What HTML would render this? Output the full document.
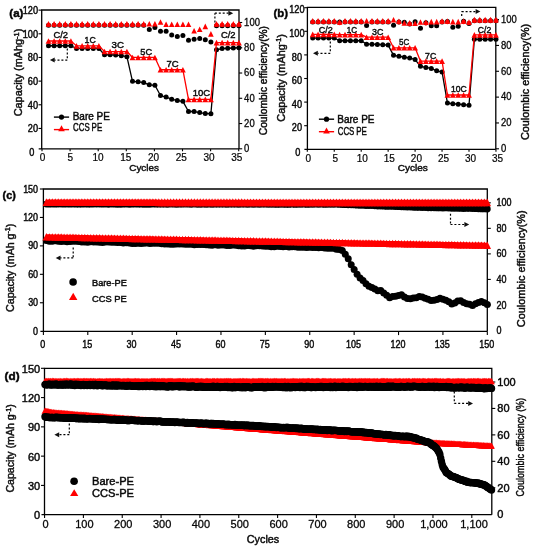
<!DOCTYPE html><html><head><meta charset="utf-8"><style>html,body{margin:0;padding:0;background:#fff;}svg{display:block;filter:blur(0.3px);}</style></head><body><svg width="534" height="550" viewBox="0 0 534 550" font-family="'Liberation Sans', Arial, Helvetica, sans-serif"><rect width="534" height="550" fill="#fff"/><path d="M41.7 148.9V10H239V148.9" fill="none" stroke="#000" stroke-width="1.3"/><line x1="38.7" y1="148.9" x2="239" y2="148.9" stroke="#000000" stroke-width="1.3"/><line x1="38.5" y1="128.44" x2="41.7" y2="128.44" stroke="#000000" stroke-width="1.1"/><line x1="38.5" y1="104.78" x2="41.7" y2="104.78" stroke="#000000" stroke-width="1.1"/><line x1="38.5" y1="81.12" x2="41.7" y2="81.12" stroke="#000000" stroke-width="1.1"/><line x1="38.5" y1="57.46" x2="41.7" y2="57.46" stroke="#000000" stroke-width="1.1"/><line x1="38.5" y1="33.8" x2="41.7" y2="33.8" stroke="#000000" stroke-width="1.1"/><line x1="38.5" y1="10.14" x2="41.7" y2="10.14" stroke="#000000" stroke-width="1.1"/><line x1="239" y1="148.8" x2="242.2" y2="148.8" stroke="#000000" stroke-width="1.1"/><line x1="239" y1="123.54" x2="242.2" y2="123.54" stroke="#000000" stroke-width="1.1"/><line x1="239" y1="98.28" x2="242.2" y2="98.28" stroke="#000000" stroke-width="1.1"/><line x1="239" y1="73.02" x2="242.2" y2="73.02" stroke="#000000" stroke-width="1.1"/><line x1="239" y1="47.76" x2="242.2" y2="47.76" stroke="#000000" stroke-width="1.1"/><line x1="239" y1="22.5" x2="242.2" y2="22.5" stroke="#000000" stroke-width="1.1"/><line x1="42" y1="148.9" x2="42" y2="151.3" stroke="#000000" stroke-width="1.1"/><line x1="70.1" y1="148.9" x2="70.1" y2="151.3" stroke="#000000" stroke-width="1.1"/><line x1="98.2" y1="148.9" x2="98.2" y2="151.3" stroke="#000000" stroke-width="1.1"/><line x1="126.3" y1="148.9" x2="126.3" y2="151.3" stroke="#000000" stroke-width="1.1"/><line x1="154.4" y1="148.9" x2="154.4" y2="151.3" stroke="#000000" stroke-width="1.1"/><line x1="182.5" y1="148.9" x2="182.5" y2="151.3" stroke="#000000" stroke-width="1.1"/><line x1="210.6" y1="148.9" x2="210.6" y2="151.3" stroke="#000000" stroke-width="1.1"/><line x1="238.7" y1="148.9" x2="238.7" y2="151.3" stroke="#000000" stroke-width="1.1"/><circle cx="48.5" cy="25.22" r="2.5" fill="#000000"/><circle cx="54.1" cy="25.22" r="2.5" fill="#000000"/><circle cx="59.7" cy="25.22" r="2.5" fill="#000000"/><circle cx="65.3" cy="25.22" r="2.5" fill="#000000"/><circle cx="70.9" cy="25.22" r="2.5" fill="#000000"/><circle cx="76.5" cy="25.22" r="2.5" fill="#000000"/><circle cx="82.1" cy="25.22" r="2.5" fill="#000000"/><circle cx="87.7" cy="25.22" r="2.5" fill="#000000"/><circle cx="93.3" cy="25.22" r="2.5" fill="#000000"/><circle cx="98.9" cy="25.22" r="2.5" fill="#000000"/><circle cx="104.5" cy="25.22" r="2.5" fill="#000000"/><circle cx="110.1" cy="25.22" r="2.5" fill="#000000"/><circle cx="115.7" cy="25.22" r="2.5" fill="#000000"/><circle cx="121.3" cy="25.22" r="2.5" fill="#000000"/><circle cx="126.9" cy="25.22" r="2.5" fill="#000000"/><circle cx="132.5" cy="25.22" r="2.5" fill="#000000"/><circle cx="138.1" cy="25.22" r="2.5" fill="#000000"/><circle cx="143.7" cy="25.22" r="2.5" fill="#000000"/><circle cx="149.3" cy="29.51" r="2.5" fill="#000000"/><circle cx="154.9" cy="27.49" r="2.5" fill="#000000"/><circle cx="160.5" cy="31.28" r="2.5" fill="#000000"/><circle cx="166.1" cy="31.28" r="2.5" fill="#000000"/><circle cx="171.7" cy="34.94" r="2.5" fill="#000000"/><circle cx="177.3" cy="36.58" r="2.5" fill="#000000"/><circle cx="182.9" cy="35.45" r="2.5" fill="#000000"/><circle cx="188.5" cy="40.25" r="2.5" fill="#000000"/><circle cx="194.1" cy="39.23" r="2.5" fill="#000000"/><circle cx="199.7" cy="38.6" r="2.5" fill="#000000"/><circle cx="205.3" cy="39.74" r="2.5" fill="#000000"/><circle cx="210.9" cy="42.01" r="2.5" fill="#000000"/><circle cx="216.5" cy="25.85" r="2.5" fill="#000000"/><circle cx="222.1" cy="25.85" r="2.5" fill="#000000"/><circle cx="227.7" cy="25.85" r="2.5" fill="#000000"/><circle cx="233.3" cy="25.85" r="2.5" fill="#000000"/><circle cx="238.9" cy="25.85" r="2.5" fill="#000000"/><circle cx="48.5" cy="24.92" r="2.2" fill="#ff0000"/><path d="M45.7 26.62L48.5 21.02L51.3 26.62Z" fill="#ff0000"/><circle cx="54.1" cy="24.92" r="2.2" fill="#ff0000"/><path d="M51.3 26.62L54.1 21.02L56.9 26.62Z" fill="#ff0000"/><circle cx="59.7" cy="24.92" r="2.2" fill="#ff0000"/><path d="M56.9 26.62L59.7 21.02L62.5 26.62Z" fill="#ff0000"/><circle cx="65.3" cy="24.92" r="2.2" fill="#ff0000"/><path d="M62.5 26.62L65.3 21.02L68.1 26.62Z" fill="#ff0000"/><circle cx="70.9" cy="24.92" r="2.2" fill="#ff0000"/><path d="M68.1 26.62L70.9 21.02L73.7 26.62Z" fill="#ff0000"/><circle cx="76.5" cy="24.92" r="2.2" fill="#ff0000"/><path d="M73.7 26.62L76.5 21.02L79.3 26.62Z" fill="#ff0000"/><circle cx="82.1" cy="24.92" r="2.2" fill="#ff0000"/><path d="M79.3 26.62L82.1 21.02L84.9 26.62Z" fill="#ff0000"/><circle cx="87.7" cy="24.92" r="2.2" fill="#ff0000"/><path d="M84.9 26.62L87.7 21.02L90.5 26.62Z" fill="#ff0000"/><circle cx="93.3" cy="24.92" r="2.2" fill="#ff0000"/><path d="M90.5 26.62L93.3 21.02L96.1 26.62Z" fill="#ff0000"/><circle cx="98.9" cy="24.92" r="2.2" fill="#ff0000"/><path d="M96.1 26.62L98.9 21.02L101.7 26.62Z" fill="#ff0000"/><circle cx="104.5" cy="24.92" r="2.2" fill="#ff0000"/><path d="M101.7 26.62L104.5 21.02L107.3 26.62Z" fill="#ff0000"/><circle cx="110.1" cy="24.92" r="2.2" fill="#ff0000"/><path d="M107.3 26.62L110.1 21.02L112.9 26.62Z" fill="#ff0000"/><circle cx="115.7" cy="24.92" r="2.2" fill="#ff0000"/><path d="M112.9 26.62L115.7 21.02L118.5 26.62Z" fill="#ff0000"/><circle cx="121.3" cy="24.92" r="2.2" fill="#ff0000"/><path d="M118.5 26.62L121.3 21.02L124.1 26.62Z" fill="#ff0000"/><circle cx="126.9" cy="24.92" r="2.2" fill="#ff0000"/><path d="M124.1 26.62L126.9 21.02L129.7 26.62Z" fill="#ff0000"/><circle cx="132.5" cy="24.92" r="2.2" fill="#ff0000"/><path d="M129.7 26.62L132.5 21.02L135.3 26.62Z" fill="#ff0000"/><circle cx="138.1" cy="24.92" r="2.2" fill="#ff0000"/><path d="M135.3 26.62L138.1 21.02L140.9 26.62Z" fill="#ff0000"/><circle cx="143.7" cy="24.92" r="2.2" fill="#ff0000"/><path d="M140.9 26.62L143.7 21.02L146.5 26.62Z" fill="#ff0000"/><path d="M146.5 26.62L149.3 21.02L152.1 26.62Z" fill="#ff0000"/><path d="M152.1 26.62L154.9 21.02L157.7 26.62Z" fill="#ff0000"/><path d="M157.7 24.85L160.5 19.25L163.3 24.85Z" fill="#ff0000"/><path d="M163.3 26.99L166.1 21.39L168.9 26.99Z" fill="#ff0000"/><path d="M168.9 26.99L171.7 21.39L174.5 26.99Z" fill="#ff0000"/><path d="M174.5 26.99L177.3 21.39L180.1 26.99Z" fill="#ff0000"/><path d="M180.1 26.99L182.9 21.39L185.7 26.99Z" fill="#ff0000"/><path d="M185.7 26.99L188.5 21.39L191.3 26.99Z" fill="#ff0000"/><path d="M191.3 33.56L194.1 27.96L196.9 33.56Z" fill="#ff0000"/><path d="M196.9 32.05L199.7 26.45L202.5 32.05Z" fill="#ff0000"/><path d="M202.5 29.14L205.3 23.54L208.1 29.14Z" fill="#ff0000"/><path d="M208.1 36.72L210.9 31.12L213.7 36.72Z" fill="#ff0000"/><circle cx="216.5" cy="24.92" r="2.2" fill="#ff0000"/><path d="M213.7 26.62L216.5 21.02L219.3 26.62Z" fill="#ff0000"/><circle cx="222.1" cy="24.92" r="2.2" fill="#ff0000"/><path d="M219.3 26.62L222.1 21.02L224.9 26.62Z" fill="#ff0000"/><circle cx="227.7" cy="24.92" r="2.2" fill="#ff0000"/><path d="M224.9 26.62L227.7 21.02L230.5 26.62Z" fill="#ff0000"/><circle cx="233.3" cy="24.92" r="2.2" fill="#ff0000"/><path d="M230.5 26.62L233.3 21.02L236.1 26.62Z" fill="#ff0000"/><circle cx="238.9" cy="24.92" r="2.2" fill="#ff0000"/><path d="M236.1 26.62L238.9 21.02L241.7 26.62Z" fill="#ff0000"/><polyline points="48.5,45.75 54.1,45.75 59.7,45.75 65.3,45.75 70.9,45.75 76.5,48.47 82.1,48.47 87.7,48.47 93.3,48.47 98.9,48.47 104.5,54.74 110.1,54.74 115.7,55.09 121.3,55.69 126.9,56.63 132.5,81.36 138.1,81.83 143.7,82.54 149.3,84.79 154.9,85.26 160.5,95.55 166.1,97.09 171.7,99.22 177.3,100.52 182.9,101.35 188.5,111.52 194.1,111.52 199.7,112.59 205.3,113.53 210.9,113.65 216.5,49.77 222.1,48.59 227.7,48.23 233.3,48 238.9,47.76" fill="none" stroke="#000" stroke-width="1.3" stroke-linejoin="round"/><circle cx="48.5" cy="45.75" r="2.5" fill="#000000"/><circle cx="54.1" cy="45.75" r="2.5" fill="#000000"/><circle cx="59.7" cy="45.75" r="2.5" fill="#000000"/><circle cx="65.3" cy="45.75" r="2.5" fill="#000000"/><circle cx="70.9" cy="45.75" r="2.5" fill="#000000"/><circle cx="76.5" cy="48.47" r="2.5" fill="#000000"/><circle cx="82.1" cy="48.47" r="2.5" fill="#000000"/><circle cx="87.7" cy="48.47" r="2.5" fill="#000000"/><circle cx="93.3" cy="48.47" r="2.5" fill="#000000"/><circle cx="98.9" cy="48.47" r="2.5" fill="#000000"/><circle cx="104.5" cy="54.74" r="2.5" fill="#000000"/><circle cx="110.1" cy="54.74" r="2.5" fill="#000000"/><circle cx="115.7" cy="55.09" r="2.5" fill="#000000"/><circle cx="121.3" cy="55.69" r="2.5" fill="#000000"/><circle cx="126.9" cy="56.63" r="2.5" fill="#000000"/><circle cx="132.5" cy="81.36" r="2.5" fill="#000000"/><circle cx="138.1" cy="81.83" r="2.5" fill="#000000"/><circle cx="143.7" cy="82.54" r="2.5" fill="#000000"/><circle cx="149.3" cy="84.79" r="2.5" fill="#000000"/><circle cx="154.9" cy="85.26" r="2.5" fill="#000000"/><circle cx="160.5" cy="95.55" r="2.5" fill="#000000"/><circle cx="166.1" cy="97.09" r="2.5" fill="#000000"/><circle cx="171.7" cy="99.22" r="2.5" fill="#000000"/><circle cx="177.3" cy="100.52" r="2.5" fill="#000000"/><circle cx="182.9" cy="101.35" r="2.5" fill="#000000"/><circle cx="188.5" cy="111.52" r="2.5" fill="#000000"/><circle cx="194.1" cy="111.52" r="2.5" fill="#000000"/><circle cx="199.7" cy="112.59" r="2.5" fill="#000000"/><circle cx="205.3" cy="113.53" r="2.5" fill="#000000"/><circle cx="210.9" cy="113.65" r="2.5" fill="#000000"/><circle cx="216.5" cy="49.77" r="2.5" fill="#000000"/><circle cx="222.1" cy="48.59" r="2.5" fill="#000000"/><circle cx="227.7" cy="48.23" r="2.5" fill="#000000"/><circle cx="233.3" cy="48" r="2.5" fill="#000000"/><circle cx="238.9" cy="47.76" r="2.5" fill="#000000"/><polyline points="48.5,41.02 54.1,41.02 59.7,41.02 65.3,41.02 70.9,41.02 76.5,45.87 82.1,45.87 87.7,45.87 93.3,45.87 98.9,45.87 104.5,51.54 110.1,51.54 115.7,51.54 121.3,51.54 126.9,51.54 132.5,57.46 138.1,57.46 143.7,57.46 149.3,57.46 154.9,57.46 160.5,69.76 166.1,69.76 171.7,69.76 177.3,69.76 182.9,69.76 188.5,99.34 194.1,99.34 199.7,99.34 205.3,99.34 210.9,99.34 216.5,42.67 222.1,42.67 227.7,42.67 233.3,42.67 238.9,42.67" fill="none" stroke="#ff0000" stroke-width="1.3" stroke-linejoin="round"/><path d="M45.6 43.82L48.5 38.22L51.4 43.82Z" fill="#ff0000"/><path d="M51.2 43.82L54.1 38.22L57 43.82Z" fill="#ff0000"/><path d="M56.8 43.82L59.7 38.22L62.6 43.82Z" fill="#ff0000"/><path d="M62.4 43.82L65.3 38.22L68.2 43.82Z" fill="#ff0000"/><path d="M68 43.82L70.9 38.22L73.8 43.82Z" fill="#ff0000"/><path d="M73.6 48.67L76.5 43.07L79.4 48.67Z" fill="#ff0000"/><path d="M79.2 48.67L82.1 43.07L85 48.67Z" fill="#ff0000"/><path d="M84.8 48.67L87.7 43.07L90.6 48.67Z" fill="#ff0000"/><path d="M90.4 48.67L93.3 43.07L96.2 48.67Z" fill="#ff0000"/><path d="M96 48.67L98.9 43.07L101.8 48.67Z" fill="#ff0000"/><path d="M101.6 54.34L104.5 48.74L107.4 54.34Z" fill="#ff0000"/><path d="M107.2 54.34L110.1 48.74L113 54.34Z" fill="#ff0000"/><path d="M112.8 54.34L115.7 48.74L118.6 54.34Z" fill="#ff0000"/><path d="M118.4 54.34L121.3 48.74L124.2 54.34Z" fill="#ff0000"/><path d="M124 54.34L126.9 48.74L129.8 54.34Z" fill="#ff0000"/><path d="M129.6 60.26L132.5 54.66L135.4 60.26Z" fill="#ff0000"/><path d="M135.2 60.26L138.1 54.66L141 60.26Z" fill="#ff0000"/><path d="M140.8 60.26L143.7 54.66L146.6 60.26Z" fill="#ff0000"/><path d="M146.4 60.26L149.3 54.66L152.2 60.26Z" fill="#ff0000"/><path d="M152 60.26L154.9 54.66L157.8 60.26Z" fill="#ff0000"/><path d="M157.6 72.56L160.5 66.96L163.4 72.56Z" fill="#ff0000"/><path d="M163.2 72.56L166.1 66.96L169 72.56Z" fill="#ff0000"/><path d="M168.8 72.56L171.7 66.96L174.6 72.56Z" fill="#ff0000"/><path d="M174.4 72.56L177.3 66.96L180.2 72.56Z" fill="#ff0000"/><path d="M180 72.56L182.9 66.96L185.8 72.56Z" fill="#ff0000"/><path d="M185.6 102.14L188.5 96.54L191.4 102.14Z" fill="#ff0000"/><path d="M191.2 102.14L194.1 96.54L197 102.14Z" fill="#ff0000"/><path d="M196.8 102.14L199.7 96.54L202.6 102.14Z" fill="#ff0000"/><path d="M202.4 102.14L205.3 96.54L208.2 102.14Z" fill="#ff0000"/><path d="M208 102.14L210.9 96.54L213.8 102.14Z" fill="#ff0000"/><path d="M213.6 45.47L216.5 39.87L219.4 45.47Z" fill="#ff0000"/><path d="M219.2 45.47L222.1 39.87L225 45.47Z" fill="#ff0000"/><path d="M224.8 45.47L227.7 39.87L230.6 45.47Z" fill="#ff0000"/><path d="M230.4 45.47L233.3 39.87L236.2 45.47Z" fill="#ff0000"/><path d="M236 45.47L238.9 39.87L241.8 45.47Z" fill="#ff0000"/><path d="M307.4 149.4V7.4H495.8V149.4" fill="none" stroke="#000" stroke-width="1.3"/><line x1="304.4" y1="149.4" x2="495.8" y2="149.4" stroke="#000000" stroke-width="1.3"/><line x1="304.2" y1="125.7" x2="307.4" y2="125.7" stroke="#000000" stroke-width="1.1"/><line x1="304.2" y1="102.1" x2="307.4" y2="102.1" stroke="#000000" stroke-width="1.1"/><line x1="304.2" y1="78.5" x2="307.4" y2="78.5" stroke="#000000" stroke-width="1.1"/><line x1="304.2" y1="54.9" x2="307.4" y2="54.9" stroke="#000000" stroke-width="1.1"/><line x1="304.2" y1="31.3" x2="307.4" y2="31.3" stroke="#000000" stroke-width="1.1"/><line x1="304.2" y1="7.7" x2="307.4" y2="7.7" stroke="#000000" stroke-width="1.1"/><line x1="495.8" y1="148.8" x2="499" y2="148.8" stroke="#000000" stroke-width="1.1"/><line x1="495.8" y1="122.96" x2="499" y2="122.96" stroke="#000000" stroke-width="1.1"/><line x1="495.8" y1="97.12" x2="499" y2="97.12" stroke="#000000" stroke-width="1.1"/><line x1="495.8" y1="71.28" x2="499" y2="71.28" stroke="#000000" stroke-width="1.1"/><line x1="495.8" y1="45.44" x2="499" y2="45.44" stroke="#000000" stroke-width="1.1"/><line x1="495.8" y1="19.6" x2="499" y2="19.6" stroke="#000000" stroke-width="1.1"/><line x1="307.3" y1="149.4" x2="307.3" y2="151.8" stroke="#000000" stroke-width="1.1"/><line x1="334.25" y1="149.4" x2="334.25" y2="151.8" stroke="#000000" stroke-width="1.1"/><line x1="361.2" y1="149.4" x2="361.2" y2="151.8" stroke="#000000" stroke-width="1.1"/><line x1="388.15" y1="149.4" x2="388.15" y2="151.8" stroke="#000000" stroke-width="1.1"/><line x1="415.1" y1="149.4" x2="415.1" y2="151.8" stroke="#000000" stroke-width="1.1"/><line x1="442.05" y1="149.4" x2="442.05" y2="151.8" stroke="#000000" stroke-width="1.1"/><line x1="469" y1="149.4" x2="469" y2="151.8" stroke="#000000" stroke-width="1.1"/><line x1="495.95" y1="149.4" x2="495.95" y2="151.8" stroke="#000000" stroke-width="1.1"/><circle cx="312.69" cy="21.96" r="2.5" fill="#000000"/><circle cx="318.08" cy="21.96" r="2.5" fill="#000000"/><circle cx="323.47" cy="21.96" r="2.5" fill="#000000"/><circle cx="328.86" cy="21.96" r="2.5" fill="#000000"/><circle cx="334.25" cy="21.96" r="2.5" fill="#000000"/><circle cx="339.64" cy="21.96" r="2.5" fill="#000000"/><circle cx="345.03" cy="21.96" r="2.5" fill="#000000"/><circle cx="350.42" cy="21.96" r="2.5" fill="#000000"/><circle cx="355.81" cy="21.96" r="2.5" fill="#000000"/><circle cx="361.2" cy="21.96" r="2.5" fill="#000000"/><circle cx="366.59" cy="25.58" r="2.5" fill="#000000"/><circle cx="371.98" cy="21.96" r="2.5" fill="#000000"/><circle cx="377.37" cy="21.96" r="2.5" fill="#000000"/><circle cx="382.76" cy="21.96" r="2.5" fill="#000000"/><circle cx="388.15" cy="21.96" r="2.5" fill="#000000"/><circle cx="393.54" cy="25.32" r="2.5" fill="#000000"/><circle cx="398.93" cy="21.96" r="2.5" fill="#000000"/><circle cx="404.32" cy="22.35" r="2.5" fill="#000000"/><circle cx="409.71" cy="24.03" r="2.5" fill="#000000"/><circle cx="415.1" cy="21.7" r="2.5" fill="#000000"/><circle cx="420.49" cy="28.16" r="2.5" fill="#000000"/><circle cx="425.88" cy="22.87" r="2.5" fill="#000000"/><circle cx="431.27" cy="25.84" r="2.5" fill="#000000"/><circle cx="436.66" cy="25.71" r="2.5" fill="#000000"/><circle cx="442.05" cy="21.96" r="2.5" fill="#000000"/><circle cx="447.44" cy="21.45" r="2.5" fill="#000000"/><circle cx="452.83" cy="27.26" r="2.5" fill="#000000"/><circle cx="458.22" cy="26.36" r="2.5" fill="#000000"/><circle cx="463.61" cy="21.19" r="2.5" fill="#000000"/><circle cx="469" cy="23.38" r="2.5" fill="#000000"/><circle cx="474.39" cy="20.8" r="2.5" fill="#000000"/><circle cx="479.78" cy="20.8" r="2.5" fill="#000000"/><circle cx="485.17" cy="20.8" r="2.5" fill="#000000"/><circle cx="490.56" cy="20.8" r="2.5" fill="#000000"/><circle cx="495.95" cy="20.8" r="2.5" fill="#000000"/><circle cx="312.69" cy="21.92" r="2.2" fill="#ff0000"/><path d="M309.89 23.62L312.69 18.02L315.49 23.62Z" fill="#ff0000"/><circle cx="318.08" cy="21.92" r="2.2" fill="#ff0000"/><path d="M315.28 23.62L318.08 18.02L320.88 23.62Z" fill="#ff0000"/><circle cx="323.47" cy="21.92" r="2.2" fill="#ff0000"/><path d="M320.67 23.62L323.47 18.02L326.27 23.62Z" fill="#ff0000"/><circle cx="328.86" cy="21.92" r="2.2" fill="#ff0000"/><path d="M326.06 23.62L328.86 18.02L331.66 23.62Z" fill="#ff0000"/><circle cx="334.25" cy="21.92" r="2.2" fill="#ff0000"/><path d="M331.45 23.62L334.25 18.02L337.05 23.62Z" fill="#ff0000"/><circle cx="339.64" cy="23.08" r="2.2" fill="#ff0000"/><path d="M336.84 24.78L339.64 19.18L342.44 24.78Z" fill="#ff0000"/><circle cx="345.03" cy="21.92" r="2.2" fill="#ff0000"/><path d="M342.23 23.62L345.03 18.02L347.83 23.62Z" fill="#ff0000"/><circle cx="350.42" cy="21.92" r="2.2" fill="#ff0000"/><path d="M347.62 23.62L350.42 18.02L353.22 23.62Z" fill="#ff0000"/><circle cx="355.81" cy="21.92" r="2.2" fill="#ff0000"/><path d="M353.01 23.62L355.81 18.02L358.61 23.62Z" fill="#ff0000"/><circle cx="361.2" cy="21.92" r="2.2" fill="#ff0000"/><path d="M358.4 23.62L361.2 18.02L364 23.62Z" fill="#ff0000"/><path d="M363.79 23.62L366.59 18.02L369.39 23.62Z" fill="#ff0000"/><circle cx="371.98" cy="21.92" r="2.2" fill="#ff0000"/><path d="M369.18 23.62L371.98 18.02L374.78 23.62Z" fill="#ff0000"/><circle cx="377.37" cy="21.92" r="2.2" fill="#ff0000"/><path d="M374.57 23.62L377.37 18.02L380.17 23.62Z" fill="#ff0000"/><circle cx="382.76" cy="21.92" r="2.2" fill="#ff0000"/><path d="M379.96 23.62L382.76 18.02L385.56 23.62Z" fill="#ff0000"/><circle cx="388.15" cy="21.92" r="2.2" fill="#ff0000"/><path d="M385.35 23.62L388.15 18.02L390.95 23.62Z" fill="#ff0000"/><path d="M390.74 22.59L393.54 16.99L396.34 22.59Z" fill="#ff0000"/><circle cx="398.93" cy="22.31" r="2.2" fill="#ff0000"/><path d="M396.13 24.01L398.93 18.41L401.73 24.01Z" fill="#ff0000"/><path d="M401.52 25.69L404.32 20.09L407.12 25.69Z" fill="#ff0000"/><circle cx="409.71" cy="23.99" r="2.2" fill="#ff0000"/><path d="M406.91 25.69L409.71 20.09L412.51 25.69Z" fill="#ff0000"/><path d="M412.3 26.08L415.1 20.48L417.9 26.08Z" fill="#ff0000"/><path d="M417.69 24.78L420.49 19.18L423.29 24.78Z" fill="#ff0000"/><circle cx="425.88" cy="23.34" r="2.2" fill="#ff0000"/><path d="M423.08 25.04L425.88 19.44L428.68 25.04Z" fill="#ff0000"/><path d="M428.47 24.4L431.27 18.8L434.07 24.4Z" fill="#ff0000"/><path d="M433.86 24.4L436.66 18.8L439.46 24.4Z" fill="#ff0000"/><circle cx="442.05" cy="22.05" r="2.2" fill="#ff0000"/><path d="M439.25 23.75L442.05 18.15L444.85 23.75Z" fill="#ff0000"/><circle cx="447.44" cy="22.05" r="2.2" fill="#ff0000"/><path d="M444.64 23.75L447.44 18.15L450.24 23.75Z" fill="#ff0000"/><path d="M450.03 24.4L452.83 18.8L455.63 24.4Z" fill="#ff0000"/><path d="M455.42 24.4L458.22 18.8L461.02 24.4Z" fill="#ff0000"/><circle cx="463.61" cy="22.05" r="2.2" fill="#ff0000"/><path d="M460.81 23.75L463.61 18.15L466.41 23.75Z" fill="#ff0000"/><circle cx="469" cy="23.08" r="2.2" fill="#ff0000"/><path d="M466.2 24.78L469 19.18L471.8 24.78Z" fill="#ff0000"/><circle cx="474.39" cy="20.76" r="2.2" fill="#ff0000"/><path d="M471.59 22.46L474.39 16.86L477.19 22.46Z" fill="#ff0000"/><circle cx="479.78" cy="20.76" r="2.2" fill="#ff0000"/><path d="M476.98 22.46L479.78 16.86L482.58 22.46Z" fill="#ff0000"/><circle cx="485.17" cy="20.76" r="2.2" fill="#ff0000"/><path d="M482.37 22.46L485.17 16.86L487.97 22.46Z" fill="#ff0000"/><circle cx="490.56" cy="20.76" r="2.2" fill="#ff0000"/><path d="M487.76 22.46L490.56 16.86L493.36 22.46Z" fill="#ff0000"/><circle cx="495.95" cy="20.76" r="2.2" fill="#ff0000"/><path d="M493.15 22.46L495.95 16.86L498.75 22.46Z" fill="#ff0000"/><polyline points="312.69,38.03 318.08,38.03 323.47,38.03 328.86,38.03 334.25,38.03 339.64,40.74 345.03,40.74 350.42,40.74 355.81,40.74 361.2,40.74 366.59,44.16 371.98,44.16 377.37,44.4 382.76,44.75 388.15,45.11 393.54,55.37 398.93,56.2 404.32,57.26 409.71,57.97 415.1,59.62 420.49,66.35 425.88,67.41 431.27,68.47 436.66,70.83 442.05,71.89 447.44,103.04 452.83,103.75 458.22,104.22 463.61,104.7 469,105.17 474.39,39.32 479.78,39.32 485.17,39.32 490.56,39.32 495.95,39.32" fill="none" stroke="#000" stroke-width="1.3" stroke-linejoin="round"/><circle cx="312.69" cy="38.03" r="2.5" fill="#000000"/><circle cx="318.08" cy="38.03" r="2.5" fill="#000000"/><circle cx="323.47" cy="38.03" r="2.5" fill="#000000"/><circle cx="328.86" cy="38.03" r="2.5" fill="#000000"/><circle cx="334.25" cy="38.03" r="2.5" fill="#000000"/><circle cx="339.64" cy="40.74" r="2.5" fill="#000000"/><circle cx="345.03" cy="40.74" r="2.5" fill="#000000"/><circle cx="350.42" cy="40.74" r="2.5" fill="#000000"/><circle cx="355.81" cy="40.74" r="2.5" fill="#000000"/><circle cx="361.2" cy="40.74" r="2.5" fill="#000000"/><circle cx="366.59" cy="44.16" r="2.5" fill="#000000"/><circle cx="371.98" cy="44.16" r="2.5" fill="#000000"/><circle cx="377.37" cy="44.4" r="2.5" fill="#000000"/><circle cx="382.76" cy="44.75" r="2.5" fill="#000000"/><circle cx="388.15" cy="45.11" r="2.5" fill="#000000"/><circle cx="393.54" cy="55.37" r="2.5" fill="#000000"/><circle cx="398.93" cy="56.2" r="2.5" fill="#000000"/><circle cx="404.32" cy="57.26" r="2.5" fill="#000000"/><circle cx="409.71" cy="57.97" r="2.5" fill="#000000"/><circle cx="415.1" cy="59.62" r="2.5" fill="#000000"/><circle cx="420.49" cy="66.35" r="2.5" fill="#000000"/><circle cx="425.88" cy="67.41" r="2.5" fill="#000000"/><circle cx="431.27" cy="68.47" r="2.5" fill="#000000"/><circle cx="436.66" cy="70.83" r="2.5" fill="#000000"/><circle cx="442.05" cy="71.89" r="2.5" fill="#000000"/><circle cx="447.44" cy="103.04" r="2.5" fill="#000000"/><circle cx="452.83" cy="103.75" r="2.5" fill="#000000"/><circle cx="458.22" cy="104.22" r="2.5" fill="#000000"/><circle cx="463.61" cy="104.7" r="2.5" fill="#000000"/><circle cx="469" cy="105.17" r="2.5" fill="#000000"/><circle cx="474.39" cy="39.32" r="2.5" fill="#000000"/><circle cx="479.78" cy="39.32" r="2.5" fill="#000000"/><circle cx="485.17" cy="39.32" r="2.5" fill="#000000"/><circle cx="490.56" cy="39.32" r="2.5" fill="#000000"/><circle cx="495.95" cy="39.32" r="2.5" fill="#000000"/><polyline points="312.69,34.37 318.08,34.37 323.47,34.37 328.86,34.37 334.25,34.37 339.64,34.6 345.03,34.6 350.42,34.6 355.81,34.6 361.2,34.6 366.59,37.2 371.98,37.2 377.37,37.2 382.76,37.2 388.15,37.2 393.54,47.82 398.93,47.82 404.32,47.82 409.71,47.82 415.1,47.82 420.49,61.15 425.88,61.15 431.27,61.15 436.66,61.15 442.05,61.15 447.44,95.02 452.83,95.02 458.22,95.02 463.61,95.02 469,95.02 474.39,34.84 479.78,34.84 485.17,34.84 490.56,34.84 495.95,34.84" fill="none" stroke="#ff0000" stroke-width="1.3" stroke-linejoin="round"/><path d="M309.79 37.17L312.69 31.57L315.59 37.17Z" fill="#ff0000"/><path d="M315.18 37.17L318.08 31.57L320.98 37.17Z" fill="#ff0000"/><path d="M320.57 37.17L323.47 31.57L326.37 37.17Z" fill="#ff0000"/><path d="M325.96 37.17L328.86 31.57L331.76 37.17Z" fill="#ff0000"/><path d="M331.35 37.17L334.25 31.57L337.15 37.17Z" fill="#ff0000"/><path d="M336.74 37.4L339.64 31.8L342.54 37.4Z" fill="#ff0000"/><path d="M342.13 37.4L345.03 31.8L347.93 37.4Z" fill="#ff0000"/><path d="M347.52 37.4L350.42 31.8L353.32 37.4Z" fill="#ff0000"/><path d="M352.91 37.4L355.81 31.8L358.71 37.4Z" fill="#ff0000"/><path d="M358.3 37.4L361.2 31.8L364.1 37.4Z" fill="#ff0000"/><path d="M363.69 40L366.59 34.4L369.49 40Z" fill="#ff0000"/><path d="M369.08 40L371.98 34.4L374.88 40Z" fill="#ff0000"/><path d="M374.47 40L377.37 34.4L380.27 40Z" fill="#ff0000"/><path d="M379.86 40L382.76 34.4L385.66 40Z" fill="#ff0000"/><path d="M385.25 40L388.15 34.4L391.05 40Z" fill="#ff0000"/><path d="M390.64 50.62L393.54 45.02L396.44 50.62Z" fill="#ff0000"/><path d="M396.03 50.62L398.93 45.02L401.83 50.62Z" fill="#ff0000"/><path d="M401.42 50.62L404.32 45.02L407.22 50.62Z" fill="#ff0000"/><path d="M406.81 50.62L409.71 45.02L412.61 50.62Z" fill="#ff0000"/><path d="M412.2 50.62L415.1 45.02L418 50.62Z" fill="#ff0000"/><path d="M417.59 63.95L420.49 58.35L423.39 63.95Z" fill="#ff0000"/><path d="M422.98 63.95L425.88 58.35L428.78 63.95Z" fill="#ff0000"/><path d="M428.37 63.95L431.27 58.35L434.17 63.95Z" fill="#ff0000"/><path d="M433.76 63.95L436.66 58.35L439.56 63.95Z" fill="#ff0000"/><path d="M439.15 63.95L442.05 58.35L444.95 63.95Z" fill="#ff0000"/><path d="M444.54 97.82L447.44 92.22L450.34 97.82Z" fill="#ff0000"/><path d="M449.93 97.82L452.83 92.22L455.73 97.82Z" fill="#ff0000"/><path d="M455.32 97.82L458.22 92.22L461.12 97.82Z" fill="#ff0000"/><path d="M460.71 97.82L463.61 92.22L466.51 97.82Z" fill="#ff0000"/><path d="M466.1 97.82L469 92.22L471.9 97.82Z" fill="#ff0000"/><path d="M471.49 37.64L474.39 32.04L477.29 37.64Z" fill="#ff0000"/><path d="M476.88 37.64L479.78 32.04L482.68 37.64Z" fill="#ff0000"/><path d="M482.27 37.64L485.17 32.04L488.07 37.64Z" fill="#ff0000"/><path d="M487.66 37.64L490.56 32.04L493.46 37.64Z" fill="#ff0000"/><path d="M493.05 37.64L495.95 32.04L498.85 37.64Z" fill="#ff0000"/><text transform="translate(38 132.24) scale(0.92 1)" font-size="10.0" text-anchor="end" stroke="#111111" stroke-width="0.45">20</text><text transform="translate(38 108.58) scale(0.92 1)" font-size="10.0" text-anchor="end" stroke="#111111" stroke-width="0.45">40</text><text transform="translate(38 84.92) scale(0.92 1)" font-size="10.0" text-anchor="end" stroke="#111111" stroke-width="0.45">60</text><text transform="translate(38 61.26) scale(0.92 1)" font-size="10.0" text-anchor="end" stroke="#111111" stroke-width="0.45">80</text><text transform="translate(38 37.6) scale(0.92 1)" font-size="10.0" text-anchor="end" stroke="#111111" stroke-width="0.45">100</text><text transform="translate(38 13.94) scale(0.92 1)" font-size="10.0" text-anchor="end" stroke="#111111" stroke-width="0.45">120</text><text transform="translate(34.4 155.9) scale(0.92 1)" font-size="10.0" text-anchor="end" stroke="#111111" stroke-width="0.45">0</text><text transform="translate(244.1 152.1) scale(0.95 1)" font-size="10.0" text-anchor="start" stroke="#111111" stroke-width="0.3">0</text><text transform="translate(244.1 126.84) scale(0.95 1)" font-size="10.0" text-anchor="start" stroke="#111111" stroke-width="0.3">20</text><text transform="translate(244.1 101.58) scale(0.95 1)" font-size="10.0" text-anchor="start" stroke="#111111" stroke-width="0.3">40</text><text transform="translate(244.1 76.32) scale(0.95 1)" font-size="10.0" text-anchor="start" stroke="#111111" stroke-width="0.3">60</text><text transform="translate(244.1 51.06) scale(0.95 1)" font-size="10.0" text-anchor="start" stroke="#111111" stroke-width="0.3">80</text><text transform="translate(244.1 25.8) scale(0.95 1)" font-size="10.0" text-anchor="start" stroke="#111111" stroke-width="0.3">100</text><text transform="translate(42.5 161)" font-size="10.0" text-anchor="middle" stroke="#111111" stroke-width="0.22">0</text><text transform="translate(70.25 161)" font-size="10.0" text-anchor="middle" stroke="#111111" stroke-width="0.22">5</text><text transform="translate(98 161)" font-size="10.0" text-anchor="middle" stroke="#111111" stroke-width="0.22">10</text><text transform="translate(125.75 161)" font-size="10.0" text-anchor="middle" stroke="#111111" stroke-width="0.22">15</text><text transform="translate(153.5 161)" font-size="10.0" text-anchor="middle" stroke="#111111" stroke-width="0.22">20</text><text transform="translate(181.25 161)" font-size="10.0" text-anchor="middle" stroke="#111111" stroke-width="0.22">25</text><text transform="translate(209 161)" font-size="10.0" text-anchor="middle" stroke="#111111" stroke-width="0.22">30</text><text transform="translate(236.75 161)" font-size="10.0" text-anchor="middle" stroke="#111111" stroke-width="0.22">35</text><text transform="translate(296.9 131.4) scale(0.92 1)" font-size="10.0" text-anchor="middle" stroke="#111111" stroke-width="0.45">20</text><text transform="translate(296.9 107.8) scale(0.92 1)" font-size="10.0" text-anchor="middle" stroke="#111111" stroke-width="0.45">40</text><text transform="translate(296.9 84.2) scale(0.92 1)" font-size="10.0" text-anchor="middle" stroke="#111111" stroke-width="0.45">60</text><text transform="translate(296.9 60.6) scale(0.92 1)" font-size="10.0" text-anchor="middle" stroke="#111111" stroke-width="0.45">80</text><text transform="translate(296.9 37) scale(0.92 1)" font-size="10.0" text-anchor="middle" stroke="#111111" stroke-width="0.45">100</text><text transform="translate(296.9 13.4) scale(0.92 1)" font-size="10.0" text-anchor="middle" stroke="#111111" stroke-width="0.45">120</text><text transform="translate(300.3 155.9) scale(0.92 1)" font-size="10.0" text-anchor="end" stroke="#111111" stroke-width="0.45">0</text><text transform="translate(500.9 152.1) scale(0.95 1)" font-size="10.0" text-anchor="start" stroke="#111111" stroke-width="0.3">0</text><text transform="translate(500.9 126.26) scale(0.95 1)" font-size="10.0" text-anchor="start" stroke="#111111" stroke-width="0.3">20</text><text transform="translate(500.9 100.42) scale(0.95 1)" font-size="10.0" text-anchor="start" stroke="#111111" stroke-width="0.3">40</text><text transform="translate(500.9 74.58) scale(0.95 1)" font-size="10.0" text-anchor="start" stroke="#111111" stroke-width="0.3">60</text><text transform="translate(500.9 48.74) scale(0.95 1)" font-size="10.0" text-anchor="start" stroke="#111111" stroke-width="0.3">80</text><text transform="translate(500.9 22.9) scale(0.95 1)" font-size="10.0" text-anchor="start" stroke="#111111" stroke-width="0.3">100</text><text transform="translate(308.2 161.5)" font-size="10.0" text-anchor="middle" stroke="#111111" stroke-width="0.22">0</text><text transform="translate(335.25 161.5)" font-size="10.0" text-anchor="middle" stroke="#111111" stroke-width="0.22">5</text><text transform="translate(362.3 161.5)" font-size="10.0" text-anchor="middle" stroke="#111111" stroke-width="0.22">10</text><text transform="translate(389.35 161.5)" font-size="10.0" text-anchor="middle" stroke="#111111" stroke-width="0.22">15</text><text transform="translate(416.4 161.5)" font-size="10.0" text-anchor="middle" stroke="#111111" stroke-width="0.22">20</text><text transform="translate(443.45 161.5)" font-size="10.0" text-anchor="middle" stroke="#111111" stroke-width="0.22">25</text><text transform="translate(470.5 161.5)" font-size="10.0" text-anchor="middle" stroke="#111111" stroke-width="0.22">30</text><text transform="translate(497.55 161.5)" font-size="10.0" text-anchor="middle" stroke="#111111" stroke-width="0.22">35</text><text transform="translate(60.7 37.6)" font-size="9.8" text-anchor="middle" textLength="14.6" lengthAdjust="spacingAndGlyphs" stroke="#111111" stroke-width="0.45">C/2</text><text transform="translate(90.2 42.5)" font-size="9.8" text-anchor="middle" textLength="11.2" lengthAdjust="spacingAndGlyphs" stroke="#111111" stroke-width="0.45">1C</text><text transform="translate(117.7 47.8)" font-size="9.8" text-anchor="middle" textLength="12.4" lengthAdjust="spacingAndGlyphs" stroke="#111111" stroke-width="0.45">3C</text><text transform="translate(146.2 54.7)" font-size="9.8" text-anchor="middle" textLength="11.8" lengthAdjust="spacingAndGlyphs" stroke="#111111" stroke-width="0.45">5C</text><text transform="translate(172.6 66.8)" font-size="9.8" text-anchor="middle" textLength="12.1" lengthAdjust="spacingAndGlyphs" stroke="#111111" stroke-width="0.45">7C</text><text transform="translate(201.5 95.5)" font-size="9.8" text-anchor="middle" textLength="17.4" lengthAdjust="spacingAndGlyphs" stroke="#111111" stroke-width="0.45">10C</text><text transform="translate(228.2 37.7)" font-size="9.8" text-anchor="middle" textLength="14.6" lengthAdjust="spacingAndGlyphs" stroke="#111111" stroke-width="0.45">C/2</text><text transform="translate(325.8 32.7)" font-size="9.8" text-anchor="middle" textLength="14.1" lengthAdjust="spacingAndGlyphs" stroke="#111111" stroke-width="0.45">C/2</text><text transform="translate(352 32.7)" font-size="9.8" text-anchor="middle" textLength="10.3" lengthAdjust="spacingAndGlyphs" stroke="#111111" stroke-width="0.45">1C</text><text transform="translate(377.7 35.4)" font-size="9.8" text-anchor="middle" textLength="11.3" lengthAdjust="spacingAndGlyphs" stroke="#111111" stroke-width="0.45">3C</text><text transform="translate(404.1 45.1)" font-size="9.8" text-anchor="middle" textLength="10.2" lengthAdjust="spacingAndGlyphs" stroke="#111111" stroke-width="0.45">5C</text><text transform="translate(430.6 59)" font-size="9.8" text-anchor="middle" textLength="11.2" lengthAdjust="spacingAndGlyphs" stroke="#111111" stroke-width="0.45">7C</text><text transform="translate(458.9 92.4)" font-size="9.8" text-anchor="middle" textLength="15.8" lengthAdjust="spacingAndGlyphs" stroke="#111111" stroke-width="0.45">10C</text><text transform="translate(484.5 32.7)" font-size="9.8" text-anchor="middle" textLength="13.4" lengthAdjust="spacingAndGlyphs" stroke="#111111" stroke-width="0.45">C/2</text><text transform="translate(144.1 171.4)" font-size="9.9" text-anchor="middle" textLength="29.6" lengthAdjust="spacingAndGlyphs" stroke="#111111" stroke-width="0.45">Cycles</text><text transform="translate(412.8 171.1)" font-size="9.9" text-anchor="middle" textLength="30.2" lengthAdjust="spacingAndGlyphs" stroke="#111111" stroke-width="0.45">Cycles</text><text transform="translate(22.2 116.3) rotate(-90)" font-size="10" textLength="87.6" lengthAdjust="spacingAndGlyphs" fill="#111111" stroke="#111111" stroke-width="0.45">Capacity (mAhg<tspan dy="-3.6" font-size="6.8">-1</tspan><tspan dy="3.6">)</tspan></text><text transform="translate(285 121.7) rotate(-90)" font-size="10" textLength="87.7" lengthAdjust="spacingAndGlyphs" fill="#111111" stroke="#111111" stroke-width="0.45">Capacity (mAhg<tspan dy="-3.6" font-size="6.8">-1</tspan><tspan dy="3.6">)</tspan></text><text transform="translate(266.6 135.2) rotate(-90)" font-size="10" text-anchor="start" textLength="109.2" lengthAdjust="spacingAndGlyphs" stroke="#111111" stroke-width="0.45">Coulombic efficiency(%)</text><text transform="translate(529.3 140.1) rotate(-90)" font-size="10.6" text-anchor="start" textLength="116.3" lengthAdjust="spacingAndGlyphs" stroke="#111111" stroke-width="0.45">Coulombic efficiency(%)</text><text transform="translate(9.3 17.3)" font-size="11.6" text-anchor="start" font-weight="bold" textLength="14.1" lengthAdjust="spacingAndGlyphs" stroke="#111111" stroke-width="0.45">(a)</text><text transform="translate(273.4 17.3)" font-size="11.6" text-anchor="start" font-weight="bold" textLength="14.6" lengthAdjust="spacingAndGlyphs" stroke="#111111" stroke-width="0.45">(b)</text><line x1="53.9" y1="117.1" x2="69.1" y2="117.1" stroke="#000" stroke-width="1.4"/><circle cx="61.5" cy="117.1" r="2.6" fill="#000000"/><text transform="translate(72.7 119.5)" font-size="10" text-anchor="start" textLength="37.2" lengthAdjust="spacingAndGlyphs" stroke="#111111" stroke-width="0.45">Bare PE</text><line x1="53.9" y1="129.6" x2="69.1" y2="129.6" stroke="#ff0000" stroke-width="1.4"/><path d="M58.2 131.3L61.5 125.3L64.8 131.3Z" fill="#ff0000"/><text transform="translate(73.1 131.2)" font-size="10.9" text-anchor="start" textLength="16.6" lengthAdjust="spacingAndGlyphs" stroke="#111111" stroke-width="0.45">CCS</text><text transform="translate(91.6 131.2)" font-size="10.9" text-anchor="start" textLength="10.6" lengthAdjust="spacingAndGlyphs" stroke="#111111" stroke-width="0.45">PE</text><line x1="318.9" y1="119.2" x2="334.1" y2="119.2" stroke="#000" stroke-width="1.4"/><circle cx="326.5" cy="119.2" r="2.6" fill="#000000"/><text transform="translate(337.3 122.6)" font-size="10" text-anchor="start" textLength="37.2" lengthAdjust="spacingAndGlyphs" stroke="#111111" stroke-width="0.45">Bare PE</text><line x1="318.9" y1="131.7" x2="334.1" y2="131.7" stroke="#ff0000" stroke-width="1.4"/><path d="M323.2 133.4L326.5 127.4L329.8 133.4Z" fill="#ff0000"/><text transform="translate(337.7 134.8)" font-size="10.9" text-anchor="start" textLength="16.6" lengthAdjust="spacingAndGlyphs" stroke="#111111" stroke-width="0.45">CCS</text><text transform="translate(356.2 134.8)" font-size="10.9" text-anchor="start" textLength="10.6" lengthAdjust="spacingAndGlyphs" stroke="#111111" stroke-width="0.45">PE</text><line x1="67.3" y1="48.5" x2="67.3" y2="60.1" stroke="#000000" stroke-width="1.2" stroke-dasharray="2,1.9"/><line x1="67.3" y1="60.1" x2="54.4" y2="60.1" stroke="#000000" stroke-width="1.2" stroke-dasharray="2,1.9"/><path d="M49.9 60.1L54.7 57.6L54.7 62.6Z" fill="#111"/><line x1="214.9" y1="22.5" x2="214.9" y2="13.2" stroke="#000000" stroke-width="1.2" stroke-dasharray="2,1.9"/><line x1="214.9" y1="13.2" x2="228.7" y2="13.2" stroke="#000000" stroke-width="1.2" stroke-dasharray="2,1.9"/><path d="M233.2 13.2L228.4 10.7L228.4 15.7Z" fill="#111"/><line x1="330.3" y1="41.5" x2="330.3" y2="53.3" stroke="#000000" stroke-width="1.2" stroke-dasharray="2,1.9"/><line x1="330.3" y1="53.3" x2="317.5" y2="53.3" stroke="#000000" stroke-width="1.2" stroke-dasharray="2,1.9"/><path d="M313 53.3L317.8 50.8L317.8 55.8Z" fill="#111"/><line x1="461.7" y1="16" x2="461.7" y2="11.6" stroke="#000000" stroke-width="1.2" stroke-dasharray="2,1.9"/><line x1="461.7" y1="11.6" x2="475.9" y2="11.6" stroke="#000000" stroke-width="1.2" stroke-dasharray="2,1.9"/><path d="M480.4 11.6L475.6 9.1L475.6 14.1Z" fill="#111"/><path d="M43.4 331.3V189H487.3V331.3" fill="none" stroke="#000" stroke-width="1.3"/><line x1="40.4" y1="331.3" x2="487.3" y2="331.3" stroke="#000000" stroke-width="1.3"/><line x1="39.9" y1="302.76" x2="43.4" y2="302.76" stroke="#000000" stroke-width="1.1"/><line x1="39.9" y1="274.32" x2="43.4" y2="274.32" stroke="#000000" stroke-width="1.1"/><line x1="39.9" y1="245.88" x2="43.4" y2="245.88" stroke="#000000" stroke-width="1.1"/><line x1="39.9" y1="217.44" x2="43.4" y2="217.44" stroke="#000000" stroke-width="1.1"/><line x1="39.9" y1="189" x2="43.4" y2="189" stroke="#000000" stroke-width="1.1"/><text transform="translate(38.1 334.8) scale(0.88 1)" font-size="10.2" text-anchor="end" stroke="#111111" stroke-width="0.45">0</text><text transform="translate(38.1 306.36) scale(0.88 1)" font-size="10.2" text-anchor="end" stroke="#111111" stroke-width="0.45">30</text><text transform="translate(38.1 277.92) scale(0.88 1)" font-size="10.2" text-anchor="end" stroke="#111111" stroke-width="0.45">60</text><text transform="translate(38.1 249.48) scale(0.88 1)" font-size="10.2" text-anchor="end" stroke="#111111" stroke-width="0.45">90</text><text transform="translate(38.1 221.04) scale(0.88 1)" font-size="10.2" text-anchor="end" stroke="#111111" stroke-width="0.45">120</text><text transform="translate(38.1 192.6) scale(0.88 1)" font-size="10.2" text-anchor="end" stroke="#111111" stroke-width="0.45">150</text><line x1="487.3" y1="304.96" x2="490.8" y2="304.96" stroke="#000000" stroke-width="1.1"/><line x1="487.3" y1="279.42" x2="490.8" y2="279.42" stroke="#000000" stroke-width="1.1"/><line x1="487.3" y1="253.88" x2="490.8" y2="253.88" stroke="#000000" stroke-width="1.1"/><line x1="487.3" y1="228.34" x2="490.8" y2="228.34" stroke="#000000" stroke-width="1.1"/><line x1="487.3" y1="202.8" x2="490.8" y2="202.8" stroke="#000000" stroke-width="1.1"/><text transform="translate(496.6 334.1) scale(0.88 1)" font-size="10.2" text-anchor="start" stroke="#111111" stroke-width="0.45">0</text><text transform="translate(496.6 308.56) scale(0.88 1)" font-size="10.2" text-anchor="start" stroke="#111111" stroke-width="0.45">20</text><text transform="translate(496.6 283.02) scale(0.88 1)" font-size="10.2" text-anchor="start" stroke="#111111" stroke-width="0.45">40</text><text transform="translate(496.6 257.48) scale(0.88 1)" font-size="10.2" text-anchor="start" stroke="#111111" stroke-width="0.45">60</text><text transform="translate(496.6 231.94) scale(0.88 1)" font-size="10.2" text-anchor="start" stroke="#111111" stroke-width="0.45">80</text><text transform="translate(496.6 206.4) scale(0.88 1)" font-size="10.2" text-anchor="start" stroke="#111111" stroke-width="0.45">100</text><line x1="43.4" y1="331.3" x2="43.4" y2="335.1" stroke="#000000" stroke-width="1.1"/><text transform="translate(42.8 347.5) scale(0.88 1)" font-size="10.2" text-anchor="middle" stroke="#111111" stroke-width="0.45">0</text><line x1="87.79" y1="331.3" x2="87.79" y2="335.1" stroke="#000000" stroke-width="1.1"/><text transform="translate(87.19 347.5) scale(0.88 1)" font-size="10.2" text-anchor="middle" stroke="#111111" stroke-width="0.45">15</text><line x1="132.19" y1="331.3" x2="132.19" y2="335.1" stroke="#000000" stroke-width="1.1"/><text transform="translate(131.59 347.5) scale(0.88 1)" font-size="10.2" text-anchor="middle" stroke="#111111" stroke-width="0.45">30</text><line x1="176.58" y1="331.3" x2="176.58" y2="335.1" stroke="#000000" stroke-width="1.1"/><text transform="translate(175.98 347.5) scale(0.88 1)" font-size="10.2" text-anchor="middle" stroke="#111111" stroke-width="0.45">45</text><line x1="220.97" y1="331.3" x2="220.97" y2="335.1" stroke="#000000" stroke-width="1.1"/><text transform="translate(220.37 347.5) scale(0.88 1)" font-size="10.2" text-anchor="middle" stroke="#111111" stroke-width="0.45">60</text><line x1="265.36" y1="331.3" x2="265.36" y2="335.1" stroke="#000000" stroke-width="1.1"/><text transform="translate(264.76 347.5) scale(0.88 1)" font-size="10.2" text-anchor="middle" stroke="#111111" stroke-width="0.45">75</text><line x1="309.75" y1="331.3" x2="309.75" y2="335.1" stroke="#000000" stroke-width="1.1"/><text transform="translate(309.15 347.5) scale(0.88 1)" font-size="10.2" text-anchor="middle" stroke="#111111" stroke-width="0.45">90</text><line x1="354.15" y1="331.3" x2="354.15" y2="335.1" stroke="#000000" stroke-width="1.1"/><text transform="translate(353.55 347.5) scale(0.88 1)" font-size="10.2" text-anchor="middle" stroke="#111111" stroke-width="0.45">105</text><line x1="398.54" y1="331.3" x2="398.54" y2="335.1" stroke="#000000" stroke-width="1.1"/><text transform="translate(397.94 347.5) scale(0.88 1)" font-size="10.2" text-anchor="middle" stroke="#111111" stroke-width="0.45">120</text><line x1="442.93" y1="331.3" x2="442.93" y2="335.1" stroke="#000000" stroke-width="1.1"/><text transform="translate(442.33 347.5) scale(0.88 1)" font-size="10.2" text-anchor="middle" stroke="#111111" stroke-width="0.45">135</text><line x1="487.32" y1="331.3" x2="487.32" y2="335.1" stroke="#000000" stroke-width="1.1"/><text transform="translate(486.72 347.5) scale(0.88 1)" font-size="10.2" text-anchor="middle" stroke="#111111" stroke-width="0.45">150</text><circle cx="46.36" cy="204.12" r="3.4" fill="#000000"/><circle cx="49.32" cy="204.17" r="3.4" fill="#000000"/><circle cx="52.28" cy="204.04" r="3.4" fill="#000000"/><circle cx="55.24" cy="204.19" r="3.4" fill="#000000"/><circle cx="58.2" cy="204.08" r="3.4" fill="#000000"/><circle cx="61.16" cy="204.12" r="3.4" fill="#000000"/><circle cx="64.12" cy="204.21" r="3.4" fill="#000000"/><circle cx="67.08" cy="204.09" r="3.4" fill="#000000"/><circle cx="70.04" cy="204.22" r="3.4" fill="#000000"/><circle cx="73" cy="204.12" r="3.4" fill="#000000"/><circle cx="75.95" cy="204.21" r="3.4" fill="#000000"/><circle cx="78.91" cy="204.21" r="3.4" fill="#000000"/><circle cx="81.87" cy="204.13" r="3.4" fill="#000000"/><circle cx="84.83" cy="204.03" r="3.4" fill="#000000"/><circle cx="87.79" cy="204.21" r="3.4" fill="#000000"/><circle cx="90.75" cy="204.19" r="3.4" fill="#000000"/><circle cx="93.71" cy="204.09" r="3.4" fill="#000000"/><circle cx="96.67" cy="204.01" r="3.4" fill="#000000"/><circle cx="99.63" cy="204.1" r="3.4" fill="#000000"/><circle cx="102.59" cy="204.15" r="3.4" fill="#000000"/><circle cx="105.55" cy="204.01" r="3.4" fill="#000000"/><circle cx="108.51" cy="204.25" r="3.4" fill="#000000"/><circle cx="111.47" cy="204.04" r="3.4" fill="#000000"/><circle cx="114.43" cy="204.19" r="3.4" fill="#000000"/><circle cx="117.39" cy="204.23" r="3.4" fill="#000000"/><circle cx="120.35" cy="204.24" r="3.4" fill="#000000"/><circle cx="123.31" cy="204.19" r="3.4" fill="#000000"/><circle cx="126.27" cy="204.07" r="3.4" fill="#000000"/><circle cx="129.23" cy="204.23" r="3.4" fill="#000000"/><circle cx="132.19" cy="204.13" r="3.4" fill="#000000"/><circle cx="135.14" cy="204.12" r="3.4" fill="#000000"/><circle cx="138.1" cy="204.19" r="3.4" fill="#000000"/><circle cx="141.06" cy="204.15" r="3.4" fill="#000000"/><circle cx="144.02" cy="204.27" r="3.4" fill="#000000"/><circle cx="146.98" cy="204.28" r="3.4" fill="#000000"/><circle cx="149.94" cy="204.24" r="3.4" fill="#000000"/><circle cx="152.9" cy="204.12" r="3.4" fill="#000000"/><circle cx="155.86" cy="204.19" r="3.4" fill="#000000"/><circle cx="158.82" cy="204.22" r="3.4" fill="#000000"/><circle cx="161.78" cy="204.16" r="3.4" fill="#000000"/><circle cx="164.74" cy="204.19" r="3.4" fill="#000000"/><circle cx="167.7" cy="204.23" r="3.4" fill="#000000"/><circle cx="170.66" cy="204.11" r="3.4" fill="#000000"/><circle cx="173.62" cy="204.14" r="3.4" fill="#000000"/><circle cx="176.58" cy="204.26" r="3.4" fill="#000000"/><circle cx="179.54" cy="204.17" r="3.4" fill="#000000"/><circle cx="182.5" cy="204.19" r="3.4" fill="#000000"/><circle cx="185.46" cy="204.1" r="3.4" fill="#000000"/><circle cx="188.42" cy="204.14" r="3.4" fill="#000000"/><circle cx="191.38" cy="204.26" r="3.4" fill="#000000"/><circle cx="194.33" cy="204.08" r="3.4" fill="#000000"/><circle cx="197.29" cy="204.31" r="3.4" fill="#000000"/><circle cx="200.25" cy="204.23" r="3.4" fill="#000000"/><circle cx="203.21" cy="204.15" r="3.4" fill="#000000"/><circle cx="206.17" cy="204.31" r="3.4" fill="#000000"/><circle cx="209.13" cy="204.22" r="3.4" fill="#000000"/><circle cx="212.09" cy="204.34" r="3.4" fill="#000000"/><circle cx="215.05" cy="204.18" r="3.4" fill="#000000"/><circle cx="218.01" cy="204.16" r="3.4" fill="#000000"/><circle cx="220.97" cy="204.21" r="3.4" fill="#000000"/><circle cx="223.93" cy="204.14" r="3.4" fill="#000000"/><circle cx="226.89" cy="204.28" r="3.4" fill="#000000"/><circle cx="229.85" cy="204.19" r="3.4" fill="#000000"/><circle cx="232.81" cy="204.22" r="3.4" fill="#000000"/><circle cx="235.77" cy="204.22" r="3.4" fill="#000000"/><circle cx="238.73" cy="204.26" r="3.4" fill="#000000"/><circle cx="241.69" cy="204.16" r="3.4" fill="#000000"/><circle cx="244.65" cy="204.14" r="3.4" fill="#000000"/><circle cx="247.61" cy="204.26" r="3.4" fill="#000000"/><circle cx="250.56" cy="204.21" r="3.4" fill="#000000"/><circle cx="253.52" cy="204.37" r="3.4" fill="#000000"/><circle cx="256.48" cy="204.21" r="3.4" fill="#000000"/><circle cx="259.44" cy="204.23" r="3.4" fill="#000000"/><circle cx="262.4" cy="204.14" r="3.4" fill="#000000"/><circle cx="265.36" cy="204.19" r="3.4" fill="#000000"/><circle cx="268.32" cy="204.33" r="3.4" fill="#000000"/><circle cx="271.28" cy="204.3" r="3.4" fill="#000000"/><circle cx="274.24" cy="204.23" r="3.4" fill="#000000"/><circle cx="277.2" cy="204.4" r="3.4" fill="#000000"/><circle cx="280.16" cy="204.29" r="3.4" fill="#000000"/><circle cx="283.12" cy="204.37" r="3.4" fill="#000000"/><circle cx="286.08" cy="204.38" r="3.4" fill="#000000"/><circle cx="289.04" cy="204.4" r="3.4" fill="#000000"/><circle cx="292" cy="204.22" r="3.4" fill="#000000"/><circle cx="294.96" cy="204.39" r="3.4" fill="#000000"/><circle cx="297.92" cy="204.36" r="3.4" fill="#000000"/><circle cx="300.88" cy="204.33" r="3.4" fill="#000000"/><circle cx="303.84" cy="204.21" r="3.4" fill="#000000"/><circle cx="306.8" cy="204.41" r="3.4" fill="#000000"/><circle cx="309.75" cy="204.32" r="3.4" fill="#000000"/><circle cx="312.71" cy="204.3" r="3.4" fill="#000000"/><circle cx="315.67" cy="204.21" r="3.4" fill="#000000"/><circle cx="318.63" cy="204.23" r="3.4" fill="#000000"/><circle cx="321.59" cy="204.22" r="3.4" fill="#000000"/><circle cx="324.55" cy="204.38" r="3.4" fill="#000000"/><circle cx="327.51" cy="204.34" r="3.4" fill="#000000"/><circle cx="330.47" cy="204.36" r="3.4" fill="#000000"/><circle cx="333.43" cy="204.23" r="3.4" fill="#000000"/><circle cx="336.39" cy="204.21" r="3.4" fill="#000000"/><circle cx="339.35" cy="204.42" r="3.4" fill="#000000"/><circle cx="342.31" cy="204.54" r="3.4" fill="#000000"/><circle cx="345.27" cy="204.66" r="3.4" fill="#000000"/><circle cx="348.23" cy="204.78" r="3.4" fill="#000000"/><circle cx="351.19" cy="204.85" r="3.4" fill="#000000"/><circle cx="354.15" cy="204.95" r="3.4" fill="#000000"/><circle cx="357.11" cy="205.16" r="3.4" fill="#000000"/><circle cx="360.07" cy="205.35" r="3.4" fill="#000000"/><circle cx="363.03" cy="205.37" r="3.4" fill="#000000"/><circle cx="365.99" cy="205.52" r="3.4" fill="#000000"/><circle cx="368.94" cy="205.59" r="3.4" fill="#000000"/><circle cx="371.9" cy="205.62" r="3.4" fill="#000000"/><circle cx="374.86" cy="205.82" r="3.4" fill="#000000"/><circle cx="377.82" cy="205.99" r="3.4" fill="#000000"/><circle cx="380.78" cy="206.09" r="3.4" fill="#000000"/><circle cx="383.74" cy="206.2" r="3.4" fill="#000000"/><circle cx="386.7" cy="206.46" r="3.4" fill="#000000"/><circle cx="389.66" cy="206.33" r="3.4" fill="#000000"/><circle cx="392.62" cy="206.46" r="3.4" fill="#000000"/><circle cx="395.58" cy="206.53" r="3.4" fill="#000000"/><circle cx="398.54" cy="206.64" r="3.4" fill="#000000"/><circle cx="401.5" cy="206.84" r="3.4" fill="#000000"/><circle cx="404.46" cy="206.93" r="3.4" fill="#000000"/><circle cx="407.42" cy="207.1" r="3.4" fill="#000000"/><circle cx="410.38" cy="207.06" r="3.4" fill="#000000"/><circle cx="413.34" cy="207.3" r="3.4" fill="#000000"/><circle cx="416.3" cy="207.39" r="3.4" fill="#000000"/><circle cx="419.26" cy="207.45" r="3.4" fill="#000000"/><circle cx="422.22" cy="207.55" r="3.4" fill="#000000"/><circle cx="425.18" cy="207.6" r="3.4" fill="#000000"/><circle cx="428.13" cy="207.77" r="3.4" fill="#000000"/><circle cx="431.09" cy="207.84" r="3.4" fill="#000000"/><circle cx="434.05" cy="207.87" r="3.4" fill="#000000"/><circle cx="437.01" cy="207.95" r="3.4" fill="#000000"/><circle cx="439.97" cy="207.94" r="3.4" fill="#000000"/><circle cx="442.93" cy="208.09" r="3.4" fill="#000000"/><circle cx="445.89" cy="207.94" r="3.4" fill="#000000"/><circle cx="448.85" cy="208.07" r="3.4" fill="#000000"/><circle cx="451.81" cy="208.25" r="3.4" fill="#000000"/><circle cx="454.77" cy="208.29" r="3.4" fill="#000000"/><circle cx="457.73" cy="208.33" r="3.4" fill="#000000"/><circle cx="460.69" cy="208.39" r="3.4" fill="#000000"/><circle cx="463.65" cy="208.52" r="3.4" fill="#000000"/><circle cx="466.61" cy="208.39" r="3.4" fill="#000000"/><circle cx="469.57" cy="208.42" r="3.4" fill="#000000"/><circle cx="472.53" cy="208.62" r="3.4" fill="#000000"/><circle cx="475.49" cy="208.68" r="3.4" fill="#000000"/><circle cx="478.45" cy="208.84" r="3.4" fill="#000000"/><circle cx="481.41" cy="208.9" r="3.4" fill="#000000"/><circle cx="484.37" cy="208.91" r="3.4" fill="#000000"/><circle cx="487.32" cy="208.99" r="3.4" fill="#000000"/><polyline points="46.36,202.16 49.32,202.16 52.28,202.16 55.24,202.17 58.2,202.17 61.16,202.17 64.12,202.17 67.08,202.17 70.04,202.18 73,202.18 75.95,202.18 78.91,202.18 81.87,202.18 84.83,202.18 87.79,202.19 90.75,202.19 93.71,202.19 96.67,202.19 99.63,202.19 102.59,202.19 105.55,202.2 108.51,202.2 111.47,202.2 114.43,202.2 117.39,202.2 120.35,202.2 123.31,202.21 126.27,202.21 129.23,202.21 132.19,202.21 135.14,202.21 138.1,202.21 141.06,202.22 144.02,202.22 146.98,202.22 149.94,202.22 152.9,202.22 155.86,202.22 158.82,202.23 161.78,202.23 164.74,202.23 167.7,202.23 170.66,202.23 173.62,202.24 176.58,202.24 179.54,202.24 182.5,202.24 185.46,202.24 188.42,202.24 191.38,202.25 194.33,202.25 197.29,202.25 200.25,202.25 203.21,202.25 206.17,202.25 209.13,202.26 212.09,202.26 215.05,202.26 218.01,202.26 220.97,202.26 223.93,202.26 226.89,202.27 229.85,202.27 232.81,202.27 235.77,202.27 238.73,202.27 241.69,202.27 244.65,202.28 247.61,202.28 250.56,202.28 253.52,202.28 256.48,202.28 259.44,202.28 262.4,202.29 265.36,202.29 268.32,202.29 271.28,202.29 274.24,202.29 277.2,202.3 280.16,202.3 283.12,202.3 286.08,202.3 289.04,202.3 292,202.3 294.96,202.31 297.92,202.31 300.88,202.31 303.84,202.31 306.8,202.31 309.75,202.31 312.71,202.32 315.67,202.32 318.63,202.32 321.59,202.32 324.55,202.32 327.51,202.32 330.47,202.33 333.43,202.33 336.39,202.33 339.35,202.33 342.31,202.33 345.27,202.33 348.23,202.34 351.19,202.34 354.15,202.34 357.11,202.34 360.07,202.34 363.03,202.34 365.99,202.35 368.94,202.35 371.9,202.35 374.86,202.35 377.82,202.35 380.78,202.36 383.74,202.36 386.7,202.36 389.66,202.36 392.62,202.36 395.58,202.36 398.54,202.37 401.5,202.37 404.46,202.37 407.42,202.37 410.38,202.37 413.34,202.37 416.3,202.38 419.26,202.38 422.22,202.38 425.18,202.38 428.13,202.38 431.09,202.38 434.05,202.39 437.01,202.39 439.97,202.39 442.93,202.39 445.89,202.39 448.85,202.39 451.81,202.4 454.77,202.4 457.73,202.4 460.69,202.4 463.65,202.4 466.61,202.4 469.57,202.41 472.53,202.41 475.49,202.41 478.45,202.41 481.41,202.41 484.37,202.42 487.32,202.42" fill="none" stroke="#ff0000" stroke-width="5.2" stroke-linejoin="round"/><path d="M42.66 206.06L46.36 198.26L50.06 206.06Z" fill="#ff0000"/><path d="M45.62 206.06L49.32 198.26L53.02 206.06Z" fill="#ff0000"/><path d="M48.58 206.06L52.28 198.26L55.98 206.06Z" fill="#ff0000"/><path d="M51.54 206.07L55.24 198.27L58.94 206.07Z" fill="#ff0000"/><path d="M54.5 206.07L58.2 198.27L61.9 206.07Z" fill="#ff0000"/><path d="M57.46 206.07L61.16 198.27L64.86 206.07Z" fill="#ff0000"/><path d="M60.42 206.07L64.12 198.27L67.82 206.07Z" fill="#ff0000"/><path d="M63.38 206.07L67.08 198.27L70.78 206.07Z" fill="#ff0000"/><path d="M66.34 206.08L70.04 198.28L73.74 206.08Z" fill="#ff0000"/><path d="M69.3 206.08L73 198.28L76.7 206.08Z" fill="#ff0000"/><path d="M72.25 206.08L75.95 198.28L79.65 206.08Z" fill="#ff0000"/><path d="M75.21 206.08L78.91 198.28L82.61 206.08Z" fill="#ff0000"/><path d="M78.17 206.08L81.87 198.28L85.57 206.08Z" fill="#ff0000"/><path d="M81.13 206.08L84.83 198.28L88.53 206.08Z" fill="#ff0000"/><path d="M84.09 206.09L87.79 198.29L91.49 206.09Z" fill="#ff0000"/><path d="M87.05 206.09L90.75 198.29L94.45 206.09Z" fill="#ff0000"/><path d="M90.01 206.09L93.71 198.29L97.41 206.09Z" fill="#ff0000"/><path d="M92.97 206.09L96.67 198.29L100.37 206.09Z" fill="#ff0000"/><path d="M95.93 206.09L99.63 198.29L103.33 206.09Z" fill="#ff0000"/><path d="M98.89 206.09L102.59 198.29L106.29 206.09Z" fill="#ff0000"/><path d="M101.85 206.1L105.55 198.3L109.25 206.1Z" fill="#ff0000"/><path d="M104.81 206.1L108.51 198.3L112.21 206.1Z" fill="#ff0000"/><path d="M107.77 206.1L111.47 198.3L115.17 206.1Z" fill="#ff0000"/><path d="M110.73 206.1L114.43 198.3L118.13 206.1Z" fill="#ff0000"/><path d="M113.69 206.1L117.39 198.3L121.09 206.1Z" fill="#ff0000"/><path d="M116.65 206.1L120.35 198.3L124.05 206.1Z" fill="#ff0000"/><path d="M119.61 206.11L123.31 198.31L127.01 206.11Z" fill="#ff0000"/><path d="M122.57 206.11L126.27 198.31L129.97 206.11Z" fill="#ff0000"/><path d="M125.53 206.11L129.23 198.31L132.93 206.11Z" fill="#ff0000"/><path d="M128.49 206.11L132.19 198.31L135.88 206.11Z" fill="#ff0000"/><path d="M131.44 206.11L135.14 198.31L138.84 206.11Z" fill="#ff0000"/><path d="M134.4 206.11L138.1 198.31L141.8 206.11Z" fill="#ff0000"/><path d="M137.36 206.12L141.06 198.32L144.76 206.12Z" fill="#ff0000"/><path d="M140.32 206.12L144.02 198.32L147.72 206.12Z" fill="#ff0000"/><path d="M143.28 206.12L146.98 198.32L150.68 206.12Z" fill="#ff0000"/><path d="M146.24 206.12L149.94 198.32L153.64 206.12Z" fill="#ff0000"/><path d="M149.2 206.12L152.9 198.32L156.6 206.12Z" fill="#ff0000"/><path d="M152.16 206.12L155.86 198.32L159.56 206.12Z" fill="#ff0000"/><path d="M155.12 206.13L158.82 198.33L162.52 206.13Z" fill="#ff0000"/><path d="M158.08 206.13L161.78 198.33L165.48 206.13Z" fill="#ff0000"/><path d="M161.04 206.13L164.74 198.33L168.44 206.13Z" fill="#ff0000"/><path d="M164 206.13L167.7 198.33L171.4 206.13Z" fill="#ff0000"/><path d="M166.96 206.13L170.66 198.33L174.36 206.13Z" fill="#ff0000"/><path d="M169.92 206.14L173.62 198.34L177.32 206.14Z" fill="#ff0000"/><path d="M172.88 206.14L176.58 198.34L180.28 206.14Z" fill="#ff0000"/><path d="M175.84 206.14L179.54 198.34L183.24 206.14Z" fill="#ff0000"/><path d="M178.8 206.14L182.5 198.34L186.2 206.14Z" fill="#ff0000"/><path d="M181.76 206.14L185.46 198.34L189.16 206.14Z" fill="#ff0000"/><path d="M184.72 206.14L188.42 198.34L192.12 206.14Z" fill="#ff0000"/><path d="M187.68 206.15L191.38 198.35L195.07 206.15Z" fill="#ff0000"/><path d="M190.63 206.15L194.33 198.35L198.03 206.15Z" fill="#ff0000"/><path d="M193.59 206.15L197.29 198.35L200.99 206.15Z" fill="#ff0000"/><path d="M196.55 206.15L200.25 198.35L203.95 206.15Z" fill="#ff0000"/><path d="M199.51 206.15L203.21 198.35L206.91 206.15Z" fill="#ff0000"/><path d="M202.47 206.15L206.17 198.35L209.87 206.15Z" fill="#ff0000"/><path d="M205.43 206.16L209.13 198.36L212.83 206.16Z" fill="#ff0000"/><path d="M208.39 206.16L212.09 198.36L215.79 206.16Z" fill="#ff0000"/><path d="M211.35 206.16L215.05 198.36L218.75 206.16Z" fill="#ff0000"/><path d="M214.31 206.16L218.01 198.36L221.71 206.16Z" fill="#ff0000"/><path d="M217.27 206.16L220.97 198.36L224.67 206.16Z" fill="#ff0000"/><path d="M220.23 206.16L223.93 198.36L227.63 206.16Z" fill="#ff0000"/><path d="M223.19 206.17L226.89 198.37L230.59 206.17Z" fill="#ff0000"/><path d="M226.15 206.17L229.85 198.37L233.55 206.17Z" fill="#ff0000"/><path d="M229.11 206.17L232.81 198.37L236.51 206.17Z" fill="#ff0000"/><path d="M232.07 206.17L235.77 198.37L239.47 206.17Z" fill="#ff0000"/><path d="M235.03 206.17L238.73 198.37L242.43 206.17Z" fill="#ff0000"/><path d="M237.99 206.17L241.69 198.37L245.39 206.17Z" fill="#ff0000"/><path d="M240.95 206.18L244.65 198.38L248.35 206.18Z" fill="#ff0000"/><path d="M243.91 206.18L247.61 198.38L251.31 206.18Z" fill="#ff0000"/><path d="M246.87 206.18L250.56 198.38L254.26 206.18Z" fill="#ff0000"/><path d="M249.82 206.18L253.52 198.38L257.22 206.18Z" fill="#ff0000"/><path d="M252.78 206.18L256.48 198.38L260.18 206.18Z" fill="#ff0000"/><path d="M255.74 206.18L259.44 198.38L263.14 206.18Z" fill="#ff0000"/><path d="M258.7 206.19L262.4 198.39L266.1 206.19Z" fill="#ff0000"/><path d="M261.66 206.19L265.36 198.39L269.06 206.19Z" fill="#ff0000"/><path d="M264.62 206.19L268.32 198.39L272.02 206.19Z" fill="#ff0000"/><path d="M267.58 206.19L271.28 198.39L274.98 206.19Z" fill="#ff0000"/><path d="M270.54 206.19L274.24 198.39L277.94 206.19Z" fill="#ff0000"/><path d="M273.5 206.2L277.2 198.4L280.9 206.2Z" fill="#ff0000"/><path d="M276.46 206.2L280.16 198.4L283.86 206.2Z" fill="#ff0000"/><path d="M279.42 206.2L283.12 198.4L286.82 206.2Z" fill="#ff0000"/><path d="M282.38 206.2L286.08 198.4L289.78 206.2Z" fill="#ff0000"/><path d="M285.34 206.2L289.04 198.4L292.74 206.2Z" fill="#ff0000"/><path d="M288.3 206.2L292 198.4L295.7 206.2Z" fill="#ff0000"/><path d="M291.26 206.21L294.96 198.41L298.66 206.21Z" fill="#ff0000"/><path d="M294.22 206.21L297.92 198.41L301.62 206.21Z" fill="#ff0000"/><path d="M297.18 206.21L300.88 198.41L304.58 206.21Z" fill="#ff0000"/><path d="M300.14 206.21L303.84 198.41L307.54 206.21Z" fill="#ff0000"/><path d="M303.1 206.21L306.8 198.41L310.5 206.21Z" fill="#ff0000"/><path d="M306.05 206.21L309.75 198.41L313.45 206.21Z" fill="#ff0000"/><path d="M309.01 206.22L312.71 198.42L316.41 206.22Z" fill="#ff0000"/><path d="M311.97 206.22L315.67 198.42L319.37 206.22Z" fill="#ff0000"/><path d="M314.93 206.22L318.63 198.42L322.33 206.22Z" fill="#ff0000"/><path d="M317.89 206.22L321.59 198.42L325.29 206.22Z" fill="#ff0000"/><path d="M320.85 206.22L324.55 198.42L328.25 206.22Z" fill="#ff0000"/><path d="M323.81 206.22L327.51 198.42L331.21 206.22Z" fill="#ff0000"/><path d="M326.77 206.23L330.47 198.43L334.17 206.23Z" fill="#ff0000"/><path d="M329.73 206.23L333.43 198.43L337.13 206.23Z" fill="#ff0000"/><path d="M332.69 206.23L336.39 198.43L340.09 206.23Z" fill="#ff0000"/><path d="M335.65 206.23L339.35 198.43L343.05 206.23Z" fill="#ff0000"/><path d="M338.61 206.23L342.31 198.43L346.01 206.23Z" fill="#ff0000"/><path d="M341.57 206.23L345.27 198.43L348.97 206.23Z" fill="#ff0000"/><path d="M344.53 206.24L348.23 198.44L351.93 206.24Z" fill="#ff0000"/><path d="M347.49 206.24L351.19 198.44L354.89 206.24Z" fill="#ff0000"/><path d="M350.45 206.24L354.15 198.44L357.85 206.24Z" fill="#ff0000"/><path d="M353.41 206.24L357.11 198.44L360.81 206.24Z" fill="#ff0000"/><path d="M356.37 206.24L360.07 198.44L363.77 206.24Z" fill="#ff0000"/><path d="M359.33 206.24L363.03 198.44L366.73 206.24Z" fill="#ff0000"/><path d="M362.29 206.25L365.99 198.45L369.69 206.25Z" fill="#ff0000"/><path d="M365.24 206.25L368.94 198.45L372.64 206.25Z" fill="#ff0000"/><path d="M368.2 206.25L371.9 198.45L375.6 206.25Z" fill="#ff0000"/><path d="M371.16 206.25L374.86 198.45L378.56 206.25Z" fill="#ff0000"/><path d="M374.12 206.25L377.82 198.45L381.52 206.25Z" fill="#ff0000"/><path d="M377.08 206.26L380.78 198.46L384.48 206.26Z" fill="#ff0000"/><path d="M380.04 206.26L383.74 198.46L387.44 206.26Z" fill="#ff0000"/><path d="M383 206.26L386.7 198.46L390.4 206.26Z" fill="#ff0000"/><path d="M385.96 206.26L389.66 198.46L393.36 206.26Z" fill="#ff0000"/><path d="M388.92 206.26L392.62 198.46L396.32 206.26Z" fill="#ff0000"/><path d="M391.88 206.26L395.58 198.46L399.28 206.26Z" fill="#ff0000"/><path d="M394.84 206.27L398.54 198.47L402.24 206.27Z" fill="#ff0000"/><path d="M397.8 206.27L401.5 198.47L405.2 206.27Z" fill="#ff0000"/><path d="M400.76 206.27L404.46 198.47L408.16 206.27Z" fill="#ff0000"/><path d="M403.72 206.27L407.42 198.47L411.12 206.27Z" fill="#ff0000"/><path d="M406.68 206.27L410.38 198.47L414.08 206.27Z" fill="#ff0000"/><path d="M409.64 206.27L413.34 198.47L417.04 206.27Z" fill="#ff0000"/><path d="M412.6 206.28L416.3 198.48L420 206.28Z" fill="#ff0000"/><path d="M415.56 206.28L419.26 198.48L422.96 206.28Z" fill="#ff0000"/><path d="M418.52 206.28L422.22 198.48L425.92 206.28Z" fill="#ff0000"/><path d="M421.48 206.28L425.18 198.48L428.88 206.28Z" fill="#ff0000"/><path d="M424.43 206.28L428.13 198.48L431.83 206.28Z" fill="#ff0000"/><path d="M427.39 206.28L431.09 198.48L434.79 206.28Z" fill="#ff0000"/><path d="M430.35 206.29L434.05 198.49L437.75 206.29Z" fill="#ff0000"/><path d="M433.31 206.29L437.01 198.49L440.71 206.29Z" fill="#ff0000"/><path d="M436.27 206.29L439.97 198.49L443.67 206.29Z" fill="#ff0000"/><path d="M439.23 206.29L442.93 198.49L446.63 206.29Z" fill="#ff0000"/><path d="M442.19 206.29L445.89 198.49L449.59 206.29Z" fill="#ff0000"/><path d="M445.15 206.29L448.85 198.49L452.55 206.29Z" fill="#ff0000"/><path d="M448.11 206.3L451.81 198.5L455.51 206.3Z" fill="#ff0000"/><path d="M451.07 206.3L454.77 198.5L458.47 206.3Z" fill="#ff0000"/><path d="M454.03 206.3L457.73 198.5L461.43 206.3Z" fill="#ff0000"/><path d="M456.99 206.3L460.69 198.5L464.39 206.3Z" fill="#ff0000"/><path d="M459.95 206.3L463.65 198.5L467.35 206.3Z" fill="#ff0000"/><path d="M462.91 206.3L466.61 198.5L470.31 206.3Z" fill="#ff0000"/><path d="M465.87 206.31L469.57 198.51L473.27 206.31Z" fill="#ff0000"/><path d="M468.83 206.31L472.53 198.51L476.23 206.31Z" fill="#ff0000"/><path d="M471.79 206.31L475.49 198.51L479.19 206.31Z" fill="#ff0000"/><path d="M474.75 206.31L478.45 198.51L482.15 206.31Z" fill="#ff0000"/><path d="M477.71 206.31L481.41 198.51L485.11 206.31Z" fill="#ff0000"/><path d="M480.67 206.32L484.37 198.52L488.07 206.32Z" fill="#ff0000"/><path d="M483.62 206.32L487.32 198.52L491.02 206.32Z" fill="#ff0000"/><polyline points="46.36,240.61 49.32,241.19 52.28,241.37 55.24,240.74 58.2,241.13 61.16,241.5 64.12,241.27 67.08,241.74 70.04,241.43 73,241.17 75.95,241.33 78.91,241.53 81.87,241.93 84.83,241.93 87.79,242.16 90.75,241.77 93.71,242.03 96.67,241.92 99.63,242.33 102.59,242.49 105.55,242.12 108.51,242.06 111.47,242.23 114.43,242.34 117.39,242.41 120.35,242.54 123.31,243 126.27,242.86 129.23,243.05 132.19,243.38 135.14,243.45 138.1,243.34 141.06,243.42 144.02,243.17 146.98,243.04 149.94,243.5 152.9,243.21 155.86,243.24 158.82,243.34 161.78,243.86 164.74,244.05 167.7,244.12 170.66,244.21 173.62,244.28 176.58,244.03 179.54,243.89 182.5,244.01 185.46,244.35 188.42,244.29 191.38,244.25 194.33,244.86 197.29,244.49 200.25,244.38 203.21,244.54 206.17,244.64 209.13,244.91 212.09,245.21 215.05,244.82 218.01,245.23 220.97,244.95 223.93,244.89 226.89,245.4 229.85,245.46 232.81,245.12 235.77,245.36 238.73,245.85 241.69,245.95 244.65,246 247.61,245.5 250.56,245.65 253.52,246.22 256.48,245.78 259.44,245.74 262.4,246.06 265.36,246.36 268.32,246.29 271.28,246.68 274.24,246.84 277.2,246.19 280.16,246.51 283.12,246.68 286.08,246.44 289.04,246.89 292,246.64 294.96,246.75 297.92,247.29 300.88,247.33 303.84,247.37 306.8,247.49 309.75,247.3 312.71,247.62 315.67,247.57 318.63,247.87 321.59,247.45 324.55,248.04 327.51,248.13 330.47,248.21 333.43,248.13 336.39,249.23 339.35,249.58 342.31,250.62 345.27,254.33 348.23,258.68 351.19,264.83 354.15,269.56 357.11,274.13 360.07,277.97 363.03,280.56 365.99,283.73 368.94,286.19 371.9,287.45 374.86,289.02 377.82,290.65 380.78,290.59 383.74,293.04 386.7,295.25 389.66,297.71 392.62,296.45 395.58,296.27 398.54,295.57 401.5,294.87 404.46,296.9 407.42,298.38 410.38,298.75 413.34,297.88 416.3,297.78 419.26,296.57 422.22,297.05 425.18,298.27 428.13,299.25 431.09,300.4 434.05,300.15 437.01,299.58 439.97,298.19 442.93,299.3 445.89,300.31 448.85,301.72 451.81,304.03 454.77,302.97 457.73,301.11 460.69,300.74 463.65,302.59 466.61,303.75 469.57,304.26 472.53,305.42 475.49,303.83 478.45,302.57 481.41,301.57 484.37,302.74 487.32,304.57" fill="none" stroke="#000000" stroke-width="3" stroke-linejoin="round"/><circle cx="46.36" cy="240.61" r="3.5" fill="#000000"/><circle cx="49.32" cy="241.19" r="3.5" fill="#000000"/><circle cx="52.28" cy="241.37" r="3.5" fill="#000000"/><circle cx="55.24" cy="240.74" r="3.5" fill="#000000"/><circle cx="58.2" cy="241.13" r="3.5" fill="#000000"/><circle cx="61.16" cy="241.5" r="3.5" fill="#000000"/><circle cx="64.12" cy="241.27" r="3.5" fill="#000000"/><circle cx="67.08" cy="241.74" r="3.5" fill="#000000"/><circle cx="70.04" cy="241.43" r="3.5" fill="#000000"/><circle cx="73" cy="241.17" r="3.5" fill="#000000"/><circle cx="75.95" cy="241.33" r="3.5" fill="#000000"/><circle cx="78.91" cy="241.53" r="3.5" fill="#000000"/><circle cx="81.87" cy="241.93" r="3.5" fill="#000000"/><circle cx="84.83" cy="241.93" r="3.5" fill="#000000"/><circle cx="87.79" cy="242.16" r="3.5" fill="#000000"/><circle cx="90.75" cy="241.77" r="3.5" fill="#000000"/><circle cx="93.71" cy="242.03" r="3.5" fill="#000000"/><circle cx="96.67" cy="241.92" r="3.5" fill="#000000"/><circle cx="99.63" cy="242.33" r="3.5" fill="#000000"/><circle cx="102.59" cy="242.49" r="3.5" fill="#000000"/><circle cx="105.55" cy="242.12" r="3.5" fill="#000000"/><circle cx="108.51" cy="242.06" r="3.5" fill="#000000"/><circle cx="111.47" cy="242.23" r="3.5" fill="#000000"/><circle cx="114.43" cy="242.34" r="3.5" fill="#000000"/><circle cx="117.39" cy="242.41" r="3.5" fill="#000000"/><circle cx="120.35" cy="242.54" r="3.5" fill="#000000"/><circle cx="123.31" cy="243" r="3.5" fill="#000000"/><circle cx="126.27" cy="242.86" r="3.5" fill="#000000"/><circle cx="129.23" cy="243.05" r="3.5" fill="#000000"/><circle cx="132.19" cy="243.38" r="3.5" fill="#000000"/><circle cx="135.14" cy="243.45" r="3.5" fill="#000000"/><circle cx="138.1" cy="243.34" r="3.5" fill="#000000"/><circle cx="141.06" cy="243.42" r="3.5" fill="#000000"/><circle cx="144.02" cy="243.17" r="3.5" fill="#000000"/><circle cx="146.98" cy="243.04" r="3.5" fill="#000000"/><circle cx="149.94" cy="243.5" r="3.5" fill="#000000"/><circle cx="152.9" cy="243.21" r="3.5" fill="#000000"/><circle cx="155.86" cy="243.24" r="3.5" fill="#000000"/><circle cx="158.82" cy="243.34" r="3.5" fill="#000000"/><circle cx="161.78" cy="243.86" r="3.5" fill="#000000"/><circle cx="164.74" cy="244.05" r="3.5" fill="#000000"/><circle cx="167.7" cy="244.12" r="3.5" fill="#000000"/><circle cx="170.66" cy="244.21" r="3.5" fill="#000000"/><circle cx="173.62" cy="244.28" r="3.5" fill="#000000"/><circle cx="176.58" cy="244.03" r="3.5" fill="#000000"/><circle cx="179.54" cy="243.89" r="3.5" fill="#000000"/><circle cx="182.5" cy="244.01" r="3.5" fill="#000000"/><circle cx="185.46" cy="244.35" r="3.5" fill="#000000"/><circle cx="188.42" cy="244.29" r="3.5" fill="#000000"/><circle cx="191.38" cy="244.25" r="3.5" fill="#000000"/><circle cx="194.33" cy="244.86" r="3.5" fill="#000000"/><circle cx="197.29" cy="244.49" r="3.5" fill="#000000"/><circle cx="200.25" cy="244.38" r="3.5" fill="#000000"/><circle cx="203.21" cy="244.54" r="3.5" fill="#000000"/><circle cx="206.17" cy="244.64" r="3.5" fill="#000000"/><circle cx="209.13" cy="244.91" r="3.5" fill="#000000"/><circle cx="212.09" cy="245.21" r="3.5" fill="#000000"/><circle cx="215.05" cy="244.82" r="3.5" fill="#000000"/><circle cx="218.01" cy="245.23" r="3.5" fill="#000000"/><circle cx="220.97" cy="244.95" r="3.5" fill="#000000"/><circle cx="223.93" cy="244.89" r="3.5" fill="#000000"/><circle cx="226.89" cy="245.4" r="3.5" fill="#000000"/><circle cx="229.85" cy="245.46" r="3.5" fill="#000000"/><circle cx="232.81" cy="245.12" r="3.5" fill="#000000"/><circle cx="235.77" cy="245.36" r="3.5" fill="#000000"/><circle cx="238.73" cy="245.85" r="3.5" fill="#000000"/><circle cx="241.69" cy="245.95" r="3.5" fill="#000000"/><circle cx="244.65" cy="246" r="3.5" fill="#000000"/><circle cx="247.61" cy="245.5" r="3.5" fill="#000000"/><circle cx="250.56" cy="245.65" r="3.5" fill="#000000"/><circle cx="253.52" cy="246.22" r="3.5" fill="#000000"/><circle cx="256.48" cy="245.78" r="3.5" fill="#000000"/><circle cx="259.44" cy="245.74" r="3.5" fill="#000000"/><circle cx="262.4" cy="246.06" r="3.5" fill="#000000"/><circle cx="265.36" cy="246.36" r="3.5" fill="#000000"/><circle cx="268.32" cy="246.29" r="3.5" fill="#000000"/><circle cx="271.28" cy="246.68" r="3.5" fill="#000000"/><circle cx="274.24" cy="246.84" r="3.5" fill="#000000"/><circle cx="277.2" cy="246.19" r="3.5" fill="#000000"/><circle cx="280.16" cy="246.51" r="3.5" fill="#000000"/><circle cx="283.12" cy="246.68" r="3.5" fill="#000000"/><circle cx="286.08" cy="246.44" r="3.5" fill="#000000"/><circle cx="289.04" cy="246.89" r="3.5" fill="#000000"/><circle cx="292" cy="246.64" r="3.5" fill="#000000"/><circle cx="294.96" cy="246.75" r="3.5" fill="#000000"/><circle cx="297.92" cy="247.29" r="3.5" fill="#000000"/><circle cx="300.88" cy="247.33" r="3.5" fill="#000000"/><circle cx="303.84" cy="247.37" r="3.5" fill="#000000"/><circle cx="306.8" cy="247.49" r="3.5" fill="#000000"/><circle cx="309.75" cy="247.3" r="3.5" fill="#000000"/><circle cx="312.71" cy="247.62" r="3.5" fill="#000000"/><circle cx="315.67" cy="247.57" r="3.5" fill="#000000"/><circle cx="318.63" cy="247.87" r="3.5" fill="#000000"/><circle cx="321.59" cy="247.45" r="3.5" fill="#000000"/><circle cx="324.55" cy="248.04" r="3.5" fill="#000000"/><circle cx="327.51" cy="248.13" r="3.5" fill="#000000"/><circle cx="330.47" cy="248.21" r="3.5" fill="#000000"/><circle cx="333.43" cy="248.13" r="3.5" fill="#000000"/><circle cx="336.39" cy="249.23" r="3.5" fill="#000000"/><circle cx="339.35" cy="249.58" r="3.5" fill="#000000"/><circle cx="342.31" cy="250.62" r="3.5" fill="#000000"/><circle cx="345.27" cy="254.33" r="3.5" fill="#000000"/><circle cx="348.23" cy="258.68" r="3.5" fill="#000000"/><circle cx="351.19" cy="264.83" r="3.5" fill="#000000"/><circle cx="354.15" cy="269.56" r="3.5" fill="#000000"/><circle cx="357.11" cy="274.13" r="3.5" fill="#000000"/><circle cx="360.07" cy="277.97" r="3.5" fill="#000000"/><circle cx="363.03" cy="280.56" r="3.5" fill="#000000"/><circle cx="365.99" cy="283.73" r="3.5" fill="#000000"/><circle cx="368.94" cy="286.19" r="3.5" fill="#000000"/><circle cx="371.9" cy="287.45" r="3.5" fill="#000000"/><circle cx="374.86" cy="289.02" r="3.5" fill="#000000"/><circle cx="377.82" cy="290.65" r="3.5" fill="#000000"/><circle cx="380.78" cy="290.59" r="3.5" fill="#000000"/><circle cx="383.74" cy="293.04" r="3.5" fill="#000000"/><circle cx="386.7" cy="295.25" r="3.5" fill="#000000"/><circle cx="389.66" cy="297.71" r="3.5" fill="#000000"/><circle cx="392.62" cy="296.45" r="3.5" fill="#000000"/><circle cx="395.58" cy="296.27" r="3.5" fill="#000000"/><circle cx="398.54" cy="295.57" r="3.5" fill="#000000"/><circle cx="401.5" cy="294.87" r="3.5" fill="#000000"/><circle cx="404.46" cy="296.9" r="3.5" fill="#000000"/><circle cx="407.42" cy="298.38" r="3.5" fill="#000000"/><circle cx="410.38" cy="298.75" r="3.5" fill="#000000"/><circle cx="413.34" cy="297.88" r="3.5" fill="#000000"/><circle cx="416.3" cy="297.78" r="3.5" fill="#000000"/><circle cx="419.26" cy="296.57" r="3.5" fill="#000000"/><circle cx="422.22" cy="297.05" r="3.5" fill="#000000"/><circle cx="425.18" cy="298.27" r="3.5" fill="#000000"/><circle cx="428.13" cy="299.25" r="3.5" fill="#000000"/><circle cx="431.09" cy="300.4" r="3.5" fill="#000000"/><circle cx="434.05" cy="300.15" r="3.5" fill="#000000"/><circle cx="437.01" cy="299.58" r="3.5" fill="#000000"/><circle cx="439.97" cy="298.19" r="3.5" fill="#000000"/><circle cx="442.93" cy="299.3" r="3.5" fill="#000000"/><circle cx="445.89" cy="300.31" r="3.5" fill="#000000"/><circle cx="448.85" cy="301.72" r="3.5" fill="#000000"/><circle cx="451.81" cy="304.03" r="3.5" fill="#000000"/><circle cx="454.77" cy="302.97" r="3.5" fill="#000000"/><circle cx="457.73" cy="301.11" r="3.5" fill="#000000"/><circle cx="460.69" cy="300.74" r="3.5" fill="#000000"/><circle cx="463.65" cy="302.59" r="3.5" fill="#000000"/><circle cx="466.61" cy="303.75" r="3.5" fill="#000000"/><circle cx="469.57" cy="304.26" r="3.5" fill="#000000"/><circle cx="472.53" cy="305.42" r="3.5" fill="#000000"/><circle cx="475.49" cy="303.83" r="3.5" fill="#000000"/><circle cx="478.45" cy="302.57" r="3.5" fill="#000000"/><circle cx="481.41" cy="301.57" r="3.5" fill="#000000"/><circle cx="484.37" cy="302.74" r="3.5" fill="#000000"/><circle cx="487.32" cy="304.57" r="3.5" fill="#000000"/><polyline points="46.36,236.78 49.32,236.84 52.28,236.89 55.24,236.95 58.2,237.01 61.16,237.07 64.12,237.13 67.08,237.18 70.04,237.24 73,237.3 75.95,237.36 78.91,237.41 81.87,237.47 84.83,237.53 87.79,237.59 90.75,237.65 93.71,237.7 96.67,237.76 99.63,237.82 102.59,237.88 105.55,237.93 108.51,237.99 111.47,238.05 114.43,238.11 117.39,238.17 120.35,238.22 123.31,238.28 126.27,238.34 129.23,238.4 132.19,238.45 135.14,238.51 138.1,238.57 141.06,238.63 144.02,238.69 146.98,238.74 149.94,238.8 152.9,238.86 155.86,238.92 158.82,238.97 161.78,239.03 164.74,239.09 167.7,239.15 170.66,239.21 173.62,239.26 176.58,239.32 179.54,239.38 182.5,239.44 185.46,239.49 188.42,239.55 191.38,239.61 194.33,239.67 197.29,239.73 200.25,239.78 203.21,239.84 206.17,239.9 209.13,239.96 212.09,240.02 215.05,240.07 218.01,240.13 220.97,240.19 223.93,240.25 226.89,240.3 229.85,240.36 232.81,240.42 235.77,240.48 238.73,240.54 241.69,240.59 244.65,240.65 247.61,240.71 250.56,240.77 253.52,240.82 256.48,240.88 259.44,240.94 262.4,241 265.36,241.06 268.32,241.11 271.28,241.17 274.24,241.23 277.2,241.29 280.16,241.34 283.12,241.4 286.08,241.46 289.04,241.52 292,241.58 294.96,241.63 297.92,241.69 300.88,241.75 303.84,241.81 306.8,241.86 309.75,241.92 312.71,241.98 315.67,242.04 318.63,242.1 321.59,242.15 324.55,242.21 327.51,242.27 330.47,242.33 333.43,242.38 336.39,242.44 339.35,242.5 342.31,242.56 345.27,242.62 348.23,242.67 351.19,242.73 354.15,242.79 357.11,242.85 360.07,242.9 363.03,242.95 365.99,243.01 368.94,243.06 371.9,243.12 374.86,243.17 377.82,243.22 380.78,243.28 383.74,243.33 386.7,243.39 389.66,243.44 392.62,243.49 395.58,243.55 398.54,243.6 401.5,243.65 404.46,243.71 407.42,243.76 410.38,243.82 413.34,243.87 416.3,243.92 419.26,243.98 422.22,244.03 425.18,244.09 428.13,244.14 431.09,244.19 434.05,244.25 437.01,244.3 439.97,244.35 442.93,244.41 445.89,244.46 448.85,244.52 451.81,244.57 454.77,244.62 457.73,244.68 460.69,244.73 463.65,244.79 466.61,244.84 469.57,244.89 472.53,244.95 475.49,245 478.45,245.05 481.41,245.11 484.37,245.16 487.32,245.22" fill="none" stroke="#ff0000" stroke-width="5.0" stroke-linejoin="round"/><path d="M42.66 240.48L46.36 233.08L50.06 240.48Z" fill="#ff0000"/><path d="M45.62 240.54L49.32 233.14L53.02 240.54Z" fill="#ff0000"/><path d="M48.58 240.59L52.28 233.19L55.98 240.59Z" fill="#ff0000"/><path d="M51.54 240.65L55.24 233.25L58.94 240.65Z" fill="#ff0000"/><path d="M54.5 240.71L58.2 233.31L61.9 240.71Z" fill="#ff0000"/><path d="M57.46 240.77L61.16 233.37L64.86 240.77Z" fill="#ff0000"/><path d="M60.42 240.83L64.12 233.43L67.82 240.83Z" fill="#ff0000"/><path d="M63.38 240.88L67.08 233.48L70.78 240.88Z" fill="#ff0000"/><path d="M66.34 240.94L70.04 233.54L73.74 240.94Z" fill="#ff0000"/><path d="M69.3 241L73 233.6L76.7 241Z" fill="#ff0000"/><path d="M72.25 241.06L75.95 233.66L79.65 241.06Z" fill="#ff0000"/><path d="M75.21 241.11L78.91 233.71L82.61 241.11Z" fill="#ff0000"/><path d="M78.17 241.17L81.87 233.77L85.57 241.17Z" fill="#ff0000"/><path d="M81.13 241.23L84.83 233.83L88.53 241.23Z" fill="#ff0000"/><path d="M84.09 241.29L87.79 233.89L91.49 241.29Z" fill="#ff0000"/><path d="M87.05 241.35L90.75 233.95L94.45 241.35Z" fill="#ff0000"/><path d="M90.01 241.4L93.71 234L97.41 241.4Z" fill="#ff0000"/><path d="M92.97 241.46L96.67 234.06L100.37 241.46Z" fill="#ff0000"/><path d="M95.93 241.52L99.63 234.12L103.33 241.52Z" fill="#ff0000"/><path d="M98.89 241.58L102.59 234.18L106.29 241.58Z" fill="#ff0000"/><path d="M101.85 241.63L105.55 234.23L109.25 241.63Z" fill="#ff0000"/><path d="M104.81 241.69L108.51 234.29L112.21 241.69Z" fill="#ff0000"/><path d="M107.77 241.75L111.47 234.35L115.17 241.75Z" fill="#ff0000"/><path d="M110.73 241.81L114.43 234.41L118.13 241.81Z" fill="#ff0000"/><path d="M113.69 241.87L117.39 234.47L121.09 241.87Z" fill="#ff0000"/><path d="M116.65 241.92L120.35 234.52L124.05 241.92Z" fill="#ff0000"/><path d="M119.61 241.98L123.31 234.58L127.01 241.98Z" fill="#ff0000"/><path d="M122.57 242.04L126.27 234.64L129.97 242.04Z" fill="#ff0000"/><path d="M125.53 242.1L129.23 234.7L132.93 242.1Z" fill="#ff0000"/><path d="M128.49 242.15L132.19 234.75L135.88 242.15Z" fill="#ff0000"/><path d="M131.44 242.21L135.14 234.81L138.84 242.21Z" fill="#ff0000"/><path d="M134.4 242.27L138.1 234.87L141.8 242.27Z" fill="#ff0000"/><path d="M137.36 242.33L141.06 234.93L144.76 242.33Z" fill="#ff0000"/><path d="M140.32 242.39L144.02 234.99L147.72 242.39Z" fill="#ff0000"/><path d="M143.28 242.44L146.98 235.04L150.68 242.44Z" fill="#ff0000"/><path d="M146.24 242.5L149.94 235.1L153.64 242.5Z" fill="#ff0000"/><path d="M149.2 242.56L152.9 235.16L156.6 242.56Z" fill="#ff0000"/><path d="M152.16 242.62L155.86 235.22L159.56 242.62Z" fill="#ff0000"/><path d="M155.12 242.67L158.82 235.27L162.52 242.67Z" fill="#ff0000"/><path d="M158.08 242.73L161.78 235.33L165.48 242.73Z" fill="#ff0000"/><path d="M161.04 242.79L164.74 235.39L168.44 242.79Z" fill="#ff0000"/><path d="M164 242.85L167.7 235.45L171.4 242.85Z" fill="#ff0000"/><path d="M166.96 242.91L170.66 235.51L174.36 242.91Z" fill="#ff0000"/><path d="M169.92 242.96L173.62 235.56L177.32 242.96Z" fill="#ff0000"/><path d="M172.88 243.02L176.58 235.62L180.28 243.02Z" fill="#ff0000"/><path d="M175.84 243.08L179.54 235.68L183.24 243.08Z" fill="#ff0000"/><path d="M178.8 243.14L182.5 235.74L186.2 243.14Z" fill="#ff0000"/><path d="M181.76 243.19L185.46 235.79L189.16 243.19Z" fill="#ff0000"/><path d="M184.72 243.25L188.42 235.85L192.12 243.25Z" fill="#ff0000"/><path d="M187.68 243.31L191.38 235.91L195.07 243.31Z" fill="#ff0000"/><path d="M190.63 243.37L194.33 235.97L198.03 243.37Z" fill="#ff0000"/><path d="M193.59 243.43L197.29 236.03L200.99 243.43Z" fill="#ff0000"/><path d="M196.55 243.48L200.25 236.08L203.95 243.48Z" fill="#ff0000"/><path d="M199.51 243.54L203.21 236.14L206.91 243.54Z" fill="#ff0000"/><path d="M202.47 243.6L206.17 236.2L209.87 243.6Z" fill="#ff0000"/><path d="M205.43 243.66L209.13 236.26L212.83 243.66Z" fill="#ff0000"/><path d="M208.39 243.72L212.09 236.32L215.79 243.72Z" fill="#ff0000"/><path d="M211.35 243.77L215.05 236.37L218.75 243.77Z" fill="#ff0000"/><path d="M214.31 243.83L218.01 236.43L221.71 243.83Z" fill="#ff0000"/><path d="M217.27 243.89L220.97 236.49L224.67 243.89Z" fill="#ff0000"/><path d="M220.23 243.95L223.93 236.55L227.63 243.95Z" fill="#ff0000"/><path d="M223.19 244L226.89 236.6L230.59 244Z" fill="#ff0000"/><path d="M226.15 244.06L229.85 236.66L233.55 244.06Z" fill="#ff0000"/><path d="M229.11 244.12L232.81 236.72L236.51 244.12Z" fill="#ff0000"/><path d="M232.07 244.18L235.77 236.78L239.47 244.18Z" fill="#ff0000"/><path d="M235.03 244.24L238.73 236.84L242.43 244.24Z" fill="#ff0000"/><path d="M237.99 244.29L241.69 236.89L245.39 244.29Z" fill="#ff0000"/><path d="M240.95 244.35L244.65 236.95L248.35 244.35Z" fill="#ff0000"/><path d="M243.91 244.41L247.61 237.01L251.31 244.41Z" fill="#ff0000"/><path d="M246.87 244.47L250.56 237.07L254.26 244.47Z" fill="#ff0000"/><path d="M249.82 244.52L253.52 237.12L257.22 244.52Z" fill="#ff0000"/><path d="M252.78 244.58L256.48 237.18L260.18 244.58Z" fill="#ff0000"/><path d="M255.74 244.64L259.44 237.24L263.14 244.64Z" fill="#ff0000"/><path d="M258.7 244.7L262.4 237.3L266.1 244.7Z" fill="#ff0000"/><path d="M261.66 244.76L265.36 237.36L269.06 244.76Z" fill="#ff0000"/><path d="M264.62 244.81L268.32 237.41L272.02 244.81Z" fill="#ff0000"/><path d="M267.58 244.87L271.28 237.47L274.98 244.87Z" fill="#ff0000"/><path d="M270.54 244.93L274.24 237.53L277.94 244.93Z" fill="#ff0000"/><path d="M273.5 244.99L277.2 237.59L280.9 244.99Z" fill="#ff0000"/><path d="M276.46 245.04L280.16 237.64L283.86 245.04Z" fill="#ff0000"/><path d="M279.42 245.1L283.12 237.7L286.82 245.1Z" fill="#ff0000"/><path d="M282.38 245.16L286.08 237.76L289.78 245.16Z" fill="#ff0000"/><path d="M285.34 245.22L289.04 237.82L292.74 245.22Z" fill="#ff0000"/><path d="M288.3 245.28L292 237.88L295.7 245.28Z" fill="#ff0000"/><path d="M291.26 245.33L294.96 237.93L298.66 245.33Z" fill="#ff0000"/><path d="M294.22 245.39L297.92 237.99L301.62 245.39Z" fill="#ff0000"/><path d="M297.18 245.45L300.88 238.05L304.58 245.45Z" fill="#ff0000"/><path d="M300.14 245.51L303.84 238.11L307.54 245.51Z" fill="#ff0000"/><path d="M303.1 245.56L306.8 238.16L310.5 245.56Z" fill="#ff0000"/><path d="M306.05 245.62L309.75 238.22L313.45 245.62Z" fill="#ff0000"/><path d="M309.01 245.68L312.71 238.28L316.41 245.68Z" fill="#ff0000"/><path d="M311.97 245.74L315.67 238.34L319.37 245.74Z" fill="#ff0000"/><path d="M314.93 245.8L318.63 238.4L322.33 245.8Z" fill="#ff0000"/><path d="M317.89 245.85L321.59 238.45L325.29 245.85Z" fill="#ff0000"/><path d="M320.85 245.91L324.55 238.51L328.25 245.91Z" fill="#ff0000"/><path d="M323.81 245.97L327.51 238.57L331.21 245.97Z" fill="#ff0000"/><path d="M326.77 246.03L330.47 238.63L334.17 246.03Z" fill="#ff0000"/><path d="M329.73 246.08L333.43 238.68L337.13 246.08Z" fill="#ff0000"/><path d="M332.69 246.14L336.39 238.74L340.09 246.14Z" fill="#ff0000"/><path d="M335.65 246.2L339.35 238.8L343.05 246.2Z" fill="#ff0000"/><path d="M338.61 246.26L342.31 238.86L346.01 246.26Z" fill="#ff0000"/><path d="M341.57 246.32L345.27 238.92L348.97 246.32Z" fill="#ff0000"/><path d="M344.53 246.37L348.23 238.97L351.93 246.37Z" fill="#ff0000"/><path d="M347.49 246.43L351.19 239.03L354.89 246.43Z" fill="#ff0000"/><path d="M350.45 246.49L354.15 239.09L357.85 246.49Z" fill="#ff0000"/><path d="M353.41 246.55L357.11 239.15L360.81 246.55Z" fill="#ff0000"/><path d="M356.37 246.6L360.07 239.2L363.77 246.6Z" fill="#ff0000"/><path d="M359.33 246.65L363.03 239.25L366.73 246.65Z" fill="#ff0000"/><path d="M362.29 246.71L365.99 239.31L369.69 246.71Z" fill="#ff0000"/><path d="M365.24 246.76L368.94 239.36L372.64 246.76Z" fill="#ff0000"/><path d="M368.2 246.82L371.9 239.42L375.6 246.82Z" fill="#ff0000"/><path d="M371.16 246.87L374.86 239.47L378.56 246.87Z" fill="#ff0000"/><path d="M374.12 246.92L377.82 239.52L381.52 246.92Z" fill="#ff0000"/><path d="M377.08 246.98L380.78 239.58L384.48 246.98Z" fill="#ff0000"/><path d="M380.04 247.03L383.74 239.63L387.44 247.03Z" fill="#ff0000"/><path d="M383 247.09L386.7 239.69L390.4 247.09Z" fill="#ff0000"/><path d="M385.96 247.14L389.66 239.74L393.36 247.14Z" fill="#ff0000"/><path d="M388.92 247.19L392.62 239.79L396.32 247.19Z" fill="#ff0000"/><path d="M391.88 247.25L395.58 239.85L399.28 247.25Z" fill="#ff0000"/><path d="M394.84 247.3L398.54 239.9L402.24 247.3Z" fill="#ff0000"/><path d="M397.8 247.35L401.5 239.95L405.2 247.35Z" fill="#ff0000"/><path d="M400.76 247.41L404.46 240.01L408.16 247.41Z" fill="#ff0000"/><path d="M403.72 247.46L407.42 240.06L411.12 247.46Z" fill="#ff0000"/><path d="M406.68 247.52L410.38 240.12L414.08 247.52Z" fill="#ff0000"/><path d="M409.64 247.57L413.34 240.17L417.04 247.57Z" fill="#ff0000"/><path d="M412.6 247.62L416.3 240.22L420 247.62Z" fill="#ff0000"/><path d="M415.56 247.68L419.26 240.28L422.96 247.68Z" fill="#ff0000"/><path d="M418.52 247.73L422.22 240.33L425.92 247.73Z" fill="#ff0000"/><path d="M421.48 247.79L425.18 240.39L428.88 247.79Z" fill="#ff0000"/><path d="M424.43 247.84L428.13 240.44L431.83 247.84Z" fill="#ff0000"/><path d="M427.39 247.89L431.09 240.49L434.79 247.89Z" fill="#ff0000"/><path d="M430.35 247.95L434.05 240.55L437.75 247.95Z" fill="#ff0000"/><path d="M433.31 248L437.01 240.6L440.71 248Z" fill="#ff0000"/><path d="M436.27 248.05L439.97 240.65L443.67 248.05Z" fill="#ff0000"/><path d="M439.23 248.11L442.93 240.71L446.63 248.11Z" fill="#ff0000"/><path d="M442.19 248.16L445.89 240.76L449.59 248.16Z" fill="#ff0000"/><path d="M445.15 248.22L448.85 240.82L452.55 248.22Z" fill="#ff0000"/><path d="M448.11 248.27L451.81 240.87L455.51 248.27Z" fill="#ff0000"/><path d="M451.07 248.32L454.77 240.92L458.47 248.32Z" fill="#ff0000"/><path d="M454.03 248.38L457.73 240.98L461.43 248.38Z" fill="#ff0000"/><path d="M456.99 248.43L460.69 241.03L464.39 248.43Z" fill="#ff0000"/><path d="M459.95 248.49L463.65 241.09L467.35 248.49Z" fill="#ff0000"/><path d="M462.91 248.54L466.61 241.14L470.31 248.54Z" fill="#ff0000"/><path d="M465.87 248.59L469.57 241.19L473.27 248.59Z" fill="#ff0000"/><path d="M468.83 248.65L472.53 241.25L476.23 248.65Z" fill="#ff0000"/><path d="M471.79 248.7L475.49 241.3L479.19 248.7Z" fill="#ff0000"/><path d="M474.75 248.75L478.45 241.35L482.15 248.75Z" fill="#ff0000"/><path d="M477.71 248.81L481.41 241.41L485.11 248.81Z" fill="#ff0000"/><path d="M480.67 248.86L484.37 241.46L488.07 248.86Z" fill="#ff0000"/><path d="M483.62 248.92L487.32 241.52L491.02 248.92Z" fill="#ff0000"/><text transform="translate(2.6 198.9)" font-size="11" text-anchor="start" font-weight="bold" textLength="13.2" lengthAdjust="spacingAndGlyphs" stroke="#111111" stroke-width="0.45">(c)</text><text transform="translate(13.8 311.9) rotate(-90)" font-size="10.3" textLength="88.3" lengthAdjust="spacingAndGlyphs" fill="#111111" stroke="#111111" stroke-width="0.45">Capacity (mAh g<tspan dy="-3.6" font-size="7">-1</tspan><tspan dy="3.6">)</tspan></text><text transform="translate(525 327.2) rotate(-90)" font-size="10.3" text-anchor="start" textLength="116.9" lengthAdjust="spacingAndGlyphs" stroke="#111111" stroke-width="0.45">Coulombic efficiency(%)</text><circle cx="73.1" cy="282" r="3.8" fill="#000000"/><text transform="translate(92 286)" font-size="9.6" text-anchor="start" textLength="34.8" lengthAdjust="spacingAndGlyphs" stroke="#111111" stroke-width="0.45">Bare-PE</text><path d="M69 299.9L73.2 292.7L77.4 299.9Z" fill="#ff0000"/><text transform="translate(92 301.7)" font-size="9.6" text-anchor="start" textLength="34.8" lengthAdjust="spacingAndGlyphs" stroke="#111111" stroke-width="0.45">CCS PE</text><line x1="73.2" y1="247.5" x2="73.2" y2="257.9" stroke="#000000" stroke-width="1.2" stroke-dasharray="2,1.9"/><line x1="73.2" y1="257.9" x2="60.2" y2="257.9" stroke="#000000" stroke-width="1.2" stroke-dasharray="2,1.9"/><path d="M55.7 257.9L60.5 255.4L60.5 260.4Z" fill="#111"/><line x1="450.5" y1="213.8" x2="450.5" y2="224.5" stroke="#000000" stroke-width="1.2" stroke-dasharray="2,1.9"/><line x1="450.5" y1="224.5" x2="464.7" y2="224.5" stroke="#000000" stroke-width="1.2" stroke-dasharray="2,1.9"/><path d="M469.2 224.5L464.4 222L464.4 227Z" fill="#111"/><path d="M44.5 514.7V368.3H491.8V514.7" fill="none" stroke="#000" stroke-width="1.3"/><line x1="41.5" y1="514.7" x2="491.8" y2="514.7" stroke="#000000" stroke-width="1.3"/><line x1="41" y1="485.42" x2="44.5" y2="485.42" stroke="#000000" stroke-width="1.1"/><line x1="41" y1="456.14" x2="44.5" y2="456.14" stroke="#000000" stroke-width="1.1"/><line x1="41" y1="426.86" x2="44.5" y2="426.86" stroke="#000000" stroke-width="1.1"/><line x1="41" y1="397.58" x2="44.5" y2="397.58" stroke="#000000" stroke-width="1.1"/><line x1="41" y1="368.3" x2="44.5" y2="368.3" stroke="#000000" stroke-width="1.1"/><text transform="translate(40.2 519.1)" font-size="11" text-anchor="end" stroke="#111111" stroke-width="0.45">0</text><text transform="translate(40.2 489.82)" font-size="11" text-anchor="end" stroke="#111111" stroke-width="0.45">30</text><text transform="translate(40.2 460.54)" font-size="11" text-anchor="end" stroke="#111111" stroke-width="0.45">60</text><text transform="translate(40.2 431.26)" font-size="11" text-anchor="end" stroke="#111111" stroke-width="0.45">90</text><text transform="translate(40.2 401.98)" font-size="11" text-anchor="end" stroke="#111111" stroke-width="0.45">120</text><text transform="translate(40.2 372.7)" font-size="11" text-anchor="end" stroke="#111111" stroke-width="0.45">150</text><line x1="491.8" y1="487.76" x2="495.3" y2="487.76" stroke="#000000" stroke-width="1.1"/><line x1="491.8" y1="461.32" x2="495.3" y2="461.32" stroke="#000000" stroke-width="1.1"/><line x1="491.8" y1="434.88" x2="495.3" y2="434.88" stroke="#000000" stroke-width="1.1"/><line x1="491.8" y1="408.44" x2="495.3" y2="408.44" stroke="#000000" stroke-width="1.1"/><line x1="491.8" y1="382" x2="495.3" y2="382" stroke="#000000" stroke-width="1.1"/><text transform="translate(497.3 518.1)" font-size="11" text-anchor="start" stroke="#111111" stroke-width="0.45">0</text><text transform="translate(497.3 491.66)" font-size="11" text-anchor="start" stroke="#111111" stroke-width="0.45">20</text><text transform="translate(497.3 465.22)" font-size="11" text-anchor="start" stroke="#111111" stroke-width="0.45">40</text><text transform="translate(497.3 438.78)" font-size="11" text-anchor="start" stroke="#111111" stroke-width="0.45">60</text><text transform="translate(497.3 412.34)" font-size="11" text-anchor="start" stroke="#111111" stroke-width="0.45">80</text><text transform="translate(497.3 385.9)" font-size="11" text-anchor="start" stroke="#111111" stroke-width="0.45">100</text><line x1="44.56" y1="514.7" x2="44.56" y2="517.9" stroke="#000000" stroke-width="1.1"/><text transform="translate(45.56 528.1)" font-size="11" text-anchor="middle" stroke="#111111" stroke-width="0.3">0</text><line x1="83.4" y1="514.7" x2="83.4" y2="517.9" stroke="#000000" stroke-width="1.1"/><text transform="translate(84.4 528.1)" font-size="11" text-anchor="middle" stroke="#111111" stroke-width="0.3">100</text><line x1="122.24" y1="514.7" x2="122.24" y2="517.9" stroke="#000000" stroke-width="1.1"/><text transform="translate(123.24 528.1)" font-size="11" text-anchor="middle" stroke="#111111" stroke-width="0.3">200</text><line x1="161.08" y1="514.7" x2="161.08" y2="517.9" stroke="#000000" stroke-width="1.1"/><text transform="translate(162.08 528.1)" font-size="11" text-anchor="middle" stroke="#111111" stroke-width="0.3">300</text><line x1="199.92" y1="514.7" x2="199.92" y2="517.9" stroke="#000000" stroke-width="1.1"/><text transform="translate(200.92 528.1)" font-size="11" text-anchor="middle" stroke="#111111" stroke-width="0.3">400</text><line x1="238.76" y1="514.7" x2="238.76" y2="517.9" stroke="#000000" stroke-width="1.1"/><text transform="translate(239.76 528.1)" font-size="11" text-anchor="middle" stroke="#111111" stroke-width="0.3">500</text><line x1="277.6" y1="514.7" x2="277.6" y2="517.9" stroke="#000000" stroke-width="1.1"/><text transform="translate(278.6 528.1)" font-size="11" text-anchor="middle" stroke="#111111" stroke-width="0.3">600</text><line x1="316.44" y1="514.7" x2="316.44" y2="517.9" stroke="#000000" stroke-width="1.1"/><text transform="translate(317.44 528.1)" font-size="11" text-anchor="middle" stroke="#111111" stroke-width="0.3">700</text><line x1="355.28" y1="514.7" x2="355.28" y2="517.9" stroke="#000000" stroke-width="1.1"/><text transform="translate(356.28 528.1)" font-size="11" text-anchor="middle" stroke="#111111" stroke-width="0.3">800</text><line x1="394.12" y1="514.7" x2="394.12" y2="517.9" stroke="#000000" stroke-width="1.1"/><text transform="translate(395.12 528.1)" font-size="11" text-anchor="middle" stroke="#111111" stroke-width="0.3">900</text><line x1="432.96" y1="514.7" x2="432.96" y2="517.9" stroke="#000000" stroke-width="1.1"/><text transform="translate(433.96 528.1)" font-size="11" text-anchor="middle" stroke="#111111" stroke-width="0.3">1,000</text><line x1="471.8" y1="514.7" x2="471.8" y2="517.9" stroke="#000000" stroke-width="1.1"/><text transform="translate(474 528.1)" font-size="11" text-anchor="middle" stroke="#111111" stroke-width="0.3">1,100</text><path d="M41.59 384.46L44.99 378.06L48.39 384.46Z" fill="#ff0000"/><path d="M42.37 384.16L45.77 377.76L49.17 384.16Z" fill="#ff0000"/><path d="M43.16 384.19L46.55 377.79L49.95 384.19Z" fill="#ff0000"/><path d="M43.94 384.46L47.34 378.06L50.74 384.46Z" fill="#ff0000"/><path d="M44.72 384.07L48.12 377.67L51.52 384.07Z" fill="#ff0000"/><path d="M45.5 384.03L48.9 377.63L52.3 384.03Z" fill="#ff0000"/><path d="M46.28 384.42L49.68 378.02L53.08 384.42Z" fill="#ff0000"/><path d="M47.07 384.04L50.47 377.64L53.87 384.04Z" fill="#ff0000"/><path d="M47.85 384.33L51.25 377.93L54.65 384.33Z" fill="#ff0000"/><path d="M48.63 384.28L52.03 377.88L55.43 384.28Z" fill="#ff0000"/><path d="M49.41 384.02L52.81 377.62L56.21 384.02Z" fill="#ff0000"/><path d="M50.19 384.1L53.59 377.7L56.99 384.1Z" fill="#ff0000"/><path d="M50.98 384.46L54.38 378.06L57.77 384.46Z" fill="#ff0000"/><path d="M51.76 384.31L55.16 377.91L58.56 384.31Z" fill="#ff0000"/><path d="M52.54 384.27L55.94 377.87L59.34 384.27Z" fill="#ff0000"/><path d="M53.32 384.36L56.72 377.96L60.12 384.36Z" fill="#ff0000"/><path d="M54.1 384.44L57.5 378.04L60.9 384.44Z" fill="#ff0000"/><path d="M54.89 384.37L58.29 377.97L61.69 384.37Z" fill="#ff0000"/><path d="M55.67 384.16L59.07 377.76L62.47 384.16Z" fill="#ff0000"/><path d="M56.45 384.53L59.85 378.13L63.25 384.53Z" fill="#ff0000"/><path d="M57.23 384.25L60.63 377.85L64.03 384.25Z" fill="#ff0000"/><path d="M58.01 384.31L61.41 377.91L64.81 384.31Z" fill="#ff0000"/><path d="M58.8 384.53L62.2 378.13L65.59 384.53Z" fill="#ff0000"/><path d="M59.58 384.37L62.98 377.97L66.38 384.37Z" fill="#ff0000"/><path d="M60.36 384.21L63.76 377.81L67.16 384.21Z" fill="#ff0000"/><path d="M61.14 384.27L64.54 377.87L67.94 384.27Z" fill="#ff0000"/><path d="M61.92 384.51L65.32 378.11L68.72 384.51Z" fill="#ff0000"/><path d="M62.71 384.02L66.11 377.62L69.51 384.02Z" fill="#ff0000"/><path d="M63.49 384.13L66.89 377.73L70.29 384.13Z" fill="#ff0000"/><path d="M64.27 384.03L67.67 377.63L71.07 384.03Z" fill="#ff0000"/><path d="M65.05 384.49L68.45 378.09L71.85 384.49Z" fill="#ff0000"/><path d="M65.83 384.41L69.23 378.01L72.63 384.41Z" fill="#ff0000"/><path d="M66.61 384.53L70.02 378.13L73.42 384.53Z" fill="#ff0000"/><path d="M67.4 384.13L70.8 377.73L74.2 384.13Z" fill="#ff0000"/><path d="M68.18 384.4L71.58 378L74.98 384.4Z" fill="#ff0000"/><path d="M68.96 384.48L72.36 378.08L75.76 384.48Z" fill="#ff0000"/><path d="M69.74 384.32L73.14 377.92L76.54 384.32Z" fill="#ff0000"/><path d="M70.53 384.07L73.93 377.67L77.33 384.07Z" fill="#ff0000"/><path d="M71.31 384.11L74.71 377.71L78.11 384.11Z" fill="#ff0000"/><path d="M72.09 384.41L75.49 378.01L78.89 384.41Z" fill="#ff0000"/><path d="M72.87 384.47L76.27 378.07L79.67 384.47Z" fill="#ff0000"/><path d="M73.65 384.06L77.05 377.66L80.45 384.06Z" fill="#ff0000"/><path d="M74.44 384.25L77.84 377.85L81.24 384.25Z" fill="#ff0000"/><path d="M75.22 384.18L78.62 377.78L82.02 384.18Z" fill="#ff0000"/><path d="M76 384.5L79.4 378.1L82.8 384.5Z" fill="#ff0000"/><path d="M76.78 384.52L80.18 378.12L83.58 384.52Z" fill="#ff0000"/><path d="M77.56 384.19L80.96 377.79L84.36 384.19Z" fill="#ff0000"/><path d="M78.34 384.33L81.75 377.93L85.15 384.33Z" fill="#ff0000"/><path d="M79.13 384.51L82.53 378.11L85.93 384.51Z" fill="#ff0000"/><path d="M79.91 384.05L83.31 377.65L86.71 384.05Z" fill="#ff0000"/><path d="M80.69 384.22L84.09 377.82L87.49 384.22Z" fill="#ff0000"/><path d="M81.47 384.13L84.87 377.73L88.27 384.13Z" fill="#ff0000"/><path d="M82.25 384.51L85.66 378.11L89.06 384.51Z" fill="#ff0000"/><path d="M83.04 384.1L86.44 377.7L89.84 384.1Z" fill="#ff0000"/><path d="M83.82 384.52L87.22 378.12L90.62 384.52Z" fill="#ff0000"/><path d="M84.6 384.1L88 377.7L91.4 384.1Z" fill="#ff0000"/><path d="M85.38 384.31L88.78 377.91L92.18 384.31Z" fill="#ff0000"/><path d="M86.16 384.37L89.56 377.97L92.97 384.37Z" fill="#ff0000"/><path d="M86.95 384.26L90.35 377.86L93.75 384.26Z" fill="#ff0000"/><path d="M87.73 384.06L91.13 377.66L94.53 384.06Z" fill="#ff0000"/><path d="M88.51 384.41L91.91 378.01L95.31 384.41Z" fill="#ff0000"/><path d="M89.29 384.48L92.69 378.08L96.09 384.48Z" fill="#ff0000"/><path d="M90.07 384.27L93.47 377.87L96.88 384.27Z" fill="#ff0000"/><path d="M90.86 384.43L94.26 378.03L97.66 384.43Z" fill="#ff0000"/><path d="M91.64 384.5L95.04 378.1L98.44 384.5Z" fill="#ff0000"/><path d="M92.42 384.47L95.82 378.07L99.22 384.47Z" fill="#ff0000"/><path d="M93.2 384.53L96.6 378.13L100 384.53Z" fill="#ff0000"/><path d="M93.98 384.45L97.39 378.05L100.79 384.45Z" fill="#ff0000"/><path d="M94.77 384.39L98.17 377.99L101.57 384.39Z" fill="#ff0000"/><path d="M95.55 384.39L98.95 377.99L102.35 384.39Z" fill="#ff0000"/><path d="M96.33 384.15L99.73 377.75L103.13 384.15Z" fill="#ff0000"/><path d="M97.11 384.4L100.51 378L103.91 384.4Z" fill="#ff0000"/><path d="M97.89 384.29L101.3 377.89L104.7 384.29Z" fill="#ff0000"/><path d="M98.68 384.46L102.08 378.06L105.48 384.46Z" fill="#ff0000"/><path d="M99.46 384.37L102.86 377.97L106.26 384.37Z" fill="#ff0000"/><path d="M100.24 384.55L103.64 378.15L107.04 384.55Z" fill="#ff0000"/><path d="M101.02 384.42L104.42 378.02L107.82 384.42Z" fill="#ff0000"/><path d="M101.81 384.55L105.21 378.15L108.61 384.55Z" fill="#ff0000"/><path d="M102.59 384.17L105.99 377.77L109.39 384.17Z" fill="#ff0000"/><path d="M103.37 384.27L106.77 377.87L110.17 384.27Z" fill="#ff0000"/><path d="M104.15 384.46L107.55 378.06L110.95 384.46Z" fill="#ff0000"/><path d="M104.93 384.31L108.33 377.91L111.73 384.31Z" fill="#ff0000"/><path d="M105.72 384.06L109.12 377.66L112.52 384.06Z" fill="#ff0000"/><path d="M106.5 384.5L109.9 378.1L113.3 384.5Z" fill="#ff0000"/><path d="M107.28 384.13L110.68 377.73L114.08 384.13Z" fill="#ff0000"/><path d="M108.06 384.33L111.46 377.93L114.86 384.33Z" fill="#ff0000"/><path d="M108.84 384.3L112.24 377.9L115.64 384.3Z" fill="#ff0000"/><path d="M109.62 384.12L113.03 377.72L116.43 384.12Z" fill="#ff0000"/><path d="M110.41 384.35L113.81 377.95L117.21 384.35Z" fill="#ff0000"/><path d="M111.19 384.29L114.59 377.89L117.99 384.29Z" fill="#ff0000"/><path d="M111.97 384.2L115.37 377.8L118.77 384.2Z" fill="#ff0000"/><path d="M112.75 384.04L116.15 377.64L119.55 384.04Z" fill="#ff0000"/><path d="M113.53 384.38L116.94 377.98L120.34 384.38Z" fill="#ff0000"/><path d="M114.32 384.12L117.72 377.72L121.12 384.12Z" fill="#ff0000"/><path d="M115.1 384.19L118.5 377.79L121.9 384.19Z" fill="#ff0000"/><path d="M115.88 384.22L119.28 377.82L122.68 384.22Z" fill="#ff0000"/><path d="M116.66 384.35L120.06 377.95L123.46 384.35Z" fill="#ff0000"/><path d="M117.44 384.38L120.84 377.98L124.25 384.38Z" fill="#ff0000"/><path d="M118.23 384.53L121.63 378.13L125.03 384.53Z" fill="#ff0000"/><path d="M119.01 384.49L122.41 378.09L125.81 384.49Z" fill="#ff0000"/><path d="M119.79 384.52L123.19 378.12L126.59 384.52Z" fill="#ff0000"/><path d="M120.57 384.17L123.97 377.77L127.37 384.17Z" fill="#ff0000"/><path d="M121.35 384.43L124.75 378.03L128.16 384.43Z" fill="#ff0000"/><path d="M122.14 384.48L125.54 378.08L128.94 384.48Z" fill="#ff0000"/><path d="M122.92 384.52L126.32 378.12L129.72 384.52Z" fill="#ff0000"/><path d="M123.7 384.12L127.1 377.72L130.5 384.12Z" fill="#ff0000"/><path d="M124.48 384.1L127.88 377.7L131.28 384.1Z" fill="#ff0000"/><path d="M125.26 384.21L128.66 377.81L132.06 384.21Z" fill="#ff0000"/><path d="M126.05 384.41L129.45 378.01L132.85 384.41Z" fill="#ff0000"/><path d="M126.83 384.44L130.23 378.04L133.63 384.44Z" fill="#ff0000"/><path d="M127.61 384.41L131.01 378.01L134.41 384.41Z" fill="#ff0000"/><path d="M128.39 384.32L131.79 377.92L135.19 384.32Z" fill="#ff0000"/><path d="M129.18 384.48L132.58 378.08L135.98 384.48Z" fill="#ff0000"/><path d="M129.96 384.33L133.36 377.93L136.76 384.33Z" fill="#ff0000"/><path d="M130.74 384.43L134.14 378.03L137.54 384.43Z" fill="#ff0000"/><path d="M131.52 384.06L134.92 377.66L138.32 384.06Z" fill="#ff0000"/><path d="M132.3 384.05L135.7 377.65L139.1 384.05Z" fill="#ff0000"/><path d="M133.09 384.28L136.49 377.88L139.89 384.28Z" fill="#ff0000"/><path d="M133.87 384.44L137.27 378.04L140.67 384.44Z" fill="#ff0000"/><path d="M134.65 384.06L138.05 377.66L141.45 384.06Z" fill="#ff0000"/><path d="M135.43 384.4L138.83 378L142.23 384.4Z" fill="#ff0000"/><path d="M136.21 384.38L139.61 377.98L143.01 384.38Z" fill="#ff0000"/><path d="M137 384.57L140.4 378.17L143.8 384.57Z" fill="#ff0000"/><path d="M137.78 384.37L141.18 377.97L144.58 384.37Z" fill="#ff0000"/><path d="M138.56 384.32L141.96 377.92L145.36 384.32Z" fill="#ff0000"/><path d="M139.34 384.3L142.74 377.9L146.14 384.3Z" fill="#ff0000"/><path d="M140.12 384.46L143.52 378.06L146.92 384.46Z" fill="#ff0000"/><path d="M140.91 384.3L144.31 377.9L147.71 384.3Z" fill="#ff0000"/><path d="M141.69 384.57L145.09 378.17L148.49 384.57Z" fill="#ff0000"/><path d="M142.47 384.43L145.87 378.03L149.27 384.43Z" fill="#ff0000"/><path d="M143.25 384.52L146.65 378.12L150.05 384.52Z" fill="#ff0000"/><path d="M144.03 384.36L147.43 377.96L150.83 384.36Z" fill="#ff0000"/><path d="M144.81 384.55L148.22 378.15L151.62 384.55Z" fill="#ff0000"/><path d="M145.6 384.56L149 378.16L152.4 384.56Z" fill="#ff0000"/><path d="M146.38 384.41L149.78 378.01L153.18 384.41Z" fill="#ff0000"/><path d="M147.16 384.45L150.56 378.05L153.96 384.45Z" fill="#ff0000"/><path d="M147.94 384.26L151.34 377.86L154.74 384.26Z" fill="#ff0000"/><path d="M148.72 384.29L152.12 377.89L155.53 384.29Z" fill="#ff0000"/><path d="M149.51 384.17L152.91 377.77L156.31 384.17Z" fill="#ff0000"/><path d="M150.29 384.22L153.69 377.82L157.09 384.22Z" fill="#ff0000"/><path d="M151.07 384.19L154.47 377.79L157.87 384.19Z" fill="#ff0000"/><path d="M151.85 384.11L155.25 377.71L158.65 384.11Z" fill="#ff0000"/><path d="M152.63 384.37L156.03 377.97L159.44 384.37Z" fill="#ff0000"/><path d="M153.42 384.4L156.82 378L160.22 384.4Z" fill="#ff0000"/><path d="M154.2 384.05L157.6 377.65L161 384.05Z" fill="#ff0000"/><path d="M154.98 384.49L158.38 378.09L161.78 384.49Z" fill="#ff0000"/><path d="M155.76 384.19L159.16 377.79L162.56 384.19Z" fill="#ff0000"/><path d="M156.54 384.23L159.94 377.83L163.34 384.23Z" fill="#ff0000"/><path d="M157.33 384.55L160.73 378.15L164.13 384.55Z" fill="#ff0000"/><path d="M158.11 384.13L161.51 377.73L164.91 384.13Z" fill="#ff0000"/><path d="M158.89 384.1L162.29 377.7L165.69 384.1Z" fill="#ff0000"/><path d="M159.67 384.24L163.07 377.84L166.47 384.24Z" fill="#ff0000"/><path d="M160.46 384.19L163.86 377.79L167.26 384.19Z" fill="#ff0000"/><path d="M161.24 384.15L164.64 377.75L168.04 384.15Z" fill="#ff0000"/><path d="M162.02 384.5L165.42 378.1L168.82 384.5Z" fill="#ff0000"/><path d="M162.8 384.3L166.2 377.9L169.6 384.3Z" fill="#ff0000"/><path d="M163.58 384.31L166.98 377.91L170.38 384.31Z" fill="#ff0000"/><path d="M164.37 384.13L167.77 377.73L171.17 384.13Z" fill="#ff0000"/><path d="M165.15 384.15L168.55 377.75L171.95 384.15Z" fill="#ff0000"/><path d="M165.93 384.14L169.33 377.74L172.73 384.14Z" fill="#ff0000"/><path d="M166.71 384.27L170.11 377.87L173.51 384.27Z" fill="#ff0000"/><path d="M167.49 384.1L170.89 377.7L174.29 384.1Z" fill="#ff0000"/><path d="M168.28 384.22L171.68 377.82L175.08 384.22Z" fill="#ff0000"/><path d="M169.06 384.21L172.46 377.81L175.86 384.21Z" fill="#ff0000"/><path d="M169.84 384.46L173.24 378.06L176.64 384.46Z" fill="#ff0000"/><path d="M170.62 384.56L174.02 378.16L177.42 384.56Z" fill="#ff0000"/><path d="M171.4 384.51L174.8 378.11L178.2 384.51Z" fill="#ff0000"/><path d="M172.19 384.39L175.59 377.99L178.99 384.39Z" fill="#ff0000"/><path d="M172.97 384.52L176.37 378.12L179.77 384.52Z" fill="#ff0000"/><path d="M173.75 384.14L177.15 377.74L180.55 384.14Z" fill="#ff0000"/><path d="M174.53 384.28L177.93 377.88L181.33 384.28Z" fill="#ff0000"/><path d="M175.31 384.25L178.71 377.85L182.11 384.25Z" fill="#ff0000"/><path d="M176.09 384.25L179.5 377.85L182.9 384.25Z" fill="#ff0000"/><path d="M176.88 384.22L180.28 377.82L183.68 384.22Z" fill="#ff0000"/><path d="M177.66 384.32L181.06 377.92L184.46 384.32Z" fill="#ff0000"/><path d="M178.44 384.58L181.84 378.18L185.24 384.58Z" fill="#ff0000"/><path d="M179.22 384.16L182.62 377.76L186.02 384.16Z" fill="#ff0000"/><path d="M180 384.18L183.41 377.78L186.81 384.18Z" fill="#ff0000"/><path d="M180.79 384.31L184.19 377.91L187.59 384.31Z" fill="#ff0000"/><path d="M181.57 384.3L184.97 377.9L188.37 384.3Z" fill="#ff0000"/><path d="M182.35 384.23L185.75 377.83L189.15 384.23Z" fill="#ff0000"/><path d="M183.13 384.55L186.53 378.15L189.93 384.55Z" fill="#ff0000"/><path d="M183.91 384.19L187.31 377.79L190.72 384.19Z" fill="#ff0000"/><path d="M184.7 384.45L188.1 378.05L191.5 384.45Z" fill="#ff0000"/><path d="M185.48 384.54L188.88 378.14L192.28 384.54Z" fill="#ff0000"/><path d="M186.26 384.44L189.66 378.04L193.06 384.44Z" fill="#ff0000"/><path d="M187.04 384.2L190.44 377.8L193.84 384.2Z" fill="#ff0000"/><path d="M187.82 384.47L191.22 378.07L194.62 384.47Z" fill="#ff0000"/><path d="M188.61 384.19L192.01 377.79L195.41 384.19Z" fill="#ff0000"/><path d="M189.39 384.07L192.79 377.67L196.19 384.07Z" fill="#ff0000"/><path d="M190.17 384.32L193.57 377.92L196.97 384.32Z" fill="#ff0000"/><path d="M190.95 384.38L194.35 377.98L197.75 384.38Z" fill="#ff0000"/><path d="M191.73 384.33L195.13 377.93L198.53 384.33Z" fill="#ff0000"/><path d="M192.52 384.22L195.92 377.82L199.32 384.22Z" fill="#ff0000"/><path d="M193.3 384.18L196.7 377.78L200.1 384.18Z" fill="#ff0000"/><path d="M194.08 384.26L197.48 377.86L200.88 384.26Z" fill="#ff0000"/><path d="M194.86 384.24L198.26 377.84L201.66 384.24Z" fill="#ff0000"/><path d="M195.64 384.54L199.04 378.14L202.44 384.54Z" fill="#ff0000"/><path d="M196.43 384.51L199.83 378.11L203.23 384.51Z" fill="#ff0000"/><path d="M197.21 384.45L200.61 378.05L204.01 384.45Z" fill="#ff0000"/><path d="M197.99 384.19L201.39 377.79L204.79 384.19Z" fill="#ff0000"/><path d="M198.77 384.42L202.17 378.02L205.57 384.42Z" fill="#ff0000"/><path d="M199.56 384.29L202.96 377.89L206.36 384.29Z" fill="#ff0000"/><path d="M200.34 384.58L203.74 378.18L207.14 384.58Z" fill="#ff0000"/><path d="M201.12 384.55L204.52 378.15L207.92 384.55Z" fill="#ff0000"/><path d="M201.9 384.44L205.3 378.04L208.7 384.44Z" fill="#ff0000"/><path d="M202.68 384.23L206.08 377.83L209.48 384.23Z" fill="#ff0000"/><path d="M203.47 384.22L206.87 377.82L210.27 384.22Z" fill="#ff0000"/><path d="M204.25 384.23L207.65 377.83L211.05 384.23Z" fill="#ff0000"/><path d="M205.03 384.43L208.43 378.03L211.83 384.43Z" fill="#ff0000"/><path d="M205.81 384.31L209.21 377.91L212.61 384.31Z" fill="#ff0000"/><path d="M206.59 384.34L209.99 377.94L213.39 384.34Z" fill="#ff0000"/><path d="M207.38 384.34L210.78 377.94L214.18 384.34Z" fill="#ff0000"/><path d="M208.16 384.53L211.56 378.13L214.96 384.53Z" fill="#ff0000"/><path d="M208.94 384.12L212.34 377.72L215.74 384.12Z" fill="#ff0000"/><path d="M209.72 384.48L213.12 378.08L216.52 384.48Z" fill="#ff0000"/><path d="M210.5 384.07L213.9 377.67L217.3 384.07Z" fill="#ff0000"/><path d="M211.28 384.09L214.69 377.69L218.09 384.09Z" fill="#ff0000"/><path d="M212.07 384.58L215.47 378.18L218.87 384.58Z" fill="#ff0000"/><path d="M212.85 384.35L216.25 377.95L219.65 384.35Z" fill="#ff0000"/><path d="M213.63 384.16L217.03 377.76L220.43 384.16Z" fill="#ff0000"/><path d="M214.41 384.08L217.81 377.68L221.21 384.08Z" fill="#ff0000"/><path d="M215.19 384.35L218.59 377.95L222 384.35Z" fill="#ff0000"/><path d="M215.98 384.45L219.38 378.05L222.78 384.45Z" fill="#ff0000"/><path d="M216.76 384.48L220.16 378.08L223.56 384.48Z" fill="#ff0000"/><path d="M217.54 384.09L220.94 377.69L224.34 384.09Z" fill="#ff0000"/><path d="M218.32 384.48L221.72 378.08L225.12 384.48Z" fill="#ff0000"/><path d="M219.1 384.28L222.5 377.88L225.91 384.28Z" fill="#ff0000"/><path d="M219.89 384.52L223.29 378.12L226.69 384.52Z" fill="#ff0000"/><path d="M220.67 384.32L224.07 377.92L227.47 384.32Z" fill="#ff0000"/><path d="M221.45 384.09L224.85 377.69L228.25 384.09Z" fill="#ff0000"/><path d="M222.23 384.52L225.63 378.12L229.03 384.52Z" fill="#ff0000"/><path d="M223.01 384.16L226.41 377.76L229.81 384.16Z" fill="#ff0000"/><path d="M223.8 384.32L227.2 377.92L230.6 384.32Z" fill="#ff0000"/><path d="M224.58 384.12L227.98 377.72L231.38 384.12Z" fill="#ff0000"/><path d="M225.36 384.22L228.76 377.82L232.16 384.22Z" fill="#ff0000"/><path d="M226.14 384.47L229.54 378.07L232.94 384.47Z" fill="#ff0000"/><path d="M226.92 384.12L230.32 377.72L233.72 384.12Z" fill="#ff0000"/><path d="M227.71 384.34L231.11 377.94L234.51 384.34Z" fill="#ff0000"/><path d="M228.49 384.58L231.89 378.18L235.29 384.58Z" fill="#ff0000"/><path d="M229.27 384.59L232.67 378.19L236.07 384.59Z" fill="#ff0000"/><path d="M230.05 384.33L233.45 377.93L236.85 384.33Z" fill="#ff0000"/><path d="M230.84 384.36L234.24 377.96L237.64 384.36Z" fill="#ff0000"/><path d="M231.62 384.44L235.02 378.04L238.42 384.44Z" fill="#ff0000"/><path d="M232.4 384.52L235.8 378.12L239.2 384.52Z" fill="#ff0000"/><path d="M233.18 384.41L236.58 378.01L239.98 384.41Z" fill="#ff0000"/><path d="M233.96 384.43L237.36 378.03L240.76 384.43Z" fill="#ff0000"/><path d="M234.75 384.15L238.15 377.75L241.55 384.15Z" fill="#ff0000"/><path d="M235.53 384.6L238.93 378.2L242.33 384.6Z" fill="#ff0000"/><path d="M236.31 384.2L239.71 377.8L243.11 384.2Z" fill="#ff0000"/><path d="M237.09 384.15L240.49 377.75L243.89 384.15Z" fill="#ff0000"/><path d="M237.87 384.53L241.27 378.13L244.67 384.53Z" fill="#ff0000"/><path d="M238.66 384.11L242.06 377.71L245.46 384.11Z" fill="#ff0000"/><path d="M239.44 384.22L242.84 377.82L246.24 384.22Z" fill="#ff0000"/><path d="M240.22 384.12L243.62 377.72L247.02 384.12Z" fill="#ff0000"/><path d="M241 384.44L244.4 378.04L247.8 384.44Z" fill="#ff0000"/><path d="M241.78 384.4L245.18 378L248.58 384.4Z" fill="#ff0000"/><path d="M242.56 384.39L245.97 377.99L249.37 384.39Z" fill="#ff0000"/><path d="M243.35 384.07L246.75 377.67L250.15 384.07Z" fill="#ff0000"/><path d="M244.13 384.29L247.53 377.89L250.93 384.29Z" fill="#ff0000"/><path d="M244.91 384.41L248.31 378.01L251.71 384.41Z" fill="#ff0000"/><path d="M245.69 384.37L249.09 377.97L252.49 384.37Z" fill="#ff0000"/><path d="M246.47 384.45L249.88 378.05L253.28 384.45Z" fill="#ff0000"/><path d="M247.26 384.57L250.66 378.17L254.06 384.57Z" fill="#ff0000"/><path d="M248.04 384.55L251.44 378.15L254.84 384.55Z" fill="#ff0000"/><path d="M248.82 384.16L252.22 377.76L255.62 384.16Z" fill="#ff0000"/><path d="M249.6 384.45L253 378.05L256.4 384.45Z" fill="#ff0000"/><path d="M250.38 384.11L253.78 377.71L257.19 384.11Z" fill="#ff0000"/><path d="M251.17 384.47L254.57 378.07L257.97 384.47Z" fill="#ff0000"/><path d="M251.95 384.46L255.35 378.06L258.75 384.46Z" fill="#ff0000"/><path d="M252.73 384.33L256.13 377.93L259.53 384.33Z" fill="#ff0000"/><path d="M253.51 384.5L256.91 378.1L260.31 384.5Z" fill="#ff0000"/><path d="M254.29 384.4L257.69 378L261.09 384.4Z" fill="#ff0000"/><path d="M255.08 384.1L258.48 377.7L261.88 384.1Z" fill="#ff0000"/><path d="M255.86 384.14L259.26 377.74L262.66 384.14Z" fill="#ff0000"/><path d="M256.64 384.17L260.04 377.77L263.44 384.17Z" fill="#ff0000"/><path d="M257.42 384.27L260.82 377.87L264.22 384.27Z" fill="#ff0000"/><path d="M258.21 384.12L261.61 377.72L265 384.12Z" fill="#ff0000"/><path d="M258.99 384.11L262.39 377.71L265.79 384.11Z" fill="#ff0000"/><path d="M259.77 384.31L263.17 377.91L266.57 384.31Z" fill="#ff0000"/><path d="M260.55 384.22L263.95 377.82L267.35 384.22Z" fill="#ff0000"/><path d="M261.33 384.58L264.73 378.18L268.13 384.58Z" fill="#ff0000"/><path d="M262.12 384.22L265.52 377.82L268.92 384.22Z" fill="#ff0000"/><path d="M262.9 384.37L266.3 377.97L269.7 384.37Z" fill="#ff0000"/><path d="M263.68 384.21L267.08 377.81L270.48 384.21Z" fill="#ff0000"/><path d="M264.46 384.26L267.86 377.86L271.26 384.26Z" fill="#ff0000"/><path d="M265.24 384.45L268.64 378.05L272.04 384.45Z" fill="#ff0000"/><path d="M266.03 384.58L269.43 378.18L272.82 384.58Z" fill="#ff0000"/><path d="M266.81 384.12L270.21 377.72L273.61 384.12Z" fill="#ff0000"/><path d="M267.59 384.54L270.99 378.14L274.39 384.54Z" fill="#ff0000"/><path d="M268.37 384.36L271.77 377.96L275.17 384.36Z" fill="#ff0000"/><path d="M269.15 384.42L272.55 378.02L275.95 384.42Z" fill="#ff0000"/><path d="M269.94 384.45L273.34 378.05L276.74 384.45Z" fill="#ff0000"/><path d="M270.72 384.22L274.12 377.82L277.52 384.22Z" fill="#ff0000"/><path d="M271.5 384.09L274.9 377.69L278.3 384.09Z" fill="#ff0000"/><path d="M272.28 384.47L275.68 378.07L279.08 384.47Z" fill="#ff0000"/><path d="M273.06 384.26L276.46 377.86L279.86 384.26Z" fill="#ff0000"/><path d="M273.85 384.45L277.25 378.05L280.64 384.45Z" fill="#ff0000"/><path d="M274.63 384.31L278.03 377.91L281.43 384.31Z" fill="#ff0000"/><path d="M275.41 384.4L278.81 378L282.21 384.4Z" fill="#ff0000"/><path d="M276.19 384.52L279.59 378.12L282.99 384.52Z" fill="#ff0000"/><path d="M276.97 384.52L280.37 378.12L283.77 384.52Z" fill="#ff0000"/><path d="M277.76 384.5L281.16 378.1L284.56 384.5Z" fill="#ff0000"/><path d="M278.54 384.13L281.94 377.73L285.34 384.13Z" fill="#ff0000"/><path d="M279.32 384.35L282.72 377.95L286.12 384.35Z" fill="#ff0000"/><path d="M280.1 384.49L283.5 378.09L286.9 384.49Z" fill="#ff0000"/><path d="M280.88 384.13L284.28 377.73L287.68 384.13Z" fill="#ff0000"/><path d="M281.67 384.08L285.06 377.68L288.46 384.08Z" fill="#ff0000"/><path d="M282.45 384.37L285.85 377.97L289.25 384.37Z" fill="#ff0000"/><path d="M283.23 384.54L286.63 378.14L290.03 384.54Z" fill="#ff0000"/><path d="M284.01 384.51L287.41 378.11L290.81 384.51Z" fill="#ff0000"/><path d="M284.79 384.56L288.19 378.16L291.59 384.56Z" fill="#ff0000"/><path d="M285.58 384.43L288.98 378.03L292.38 384.43Z" fill="#ff0000"/><path d="M286.36 384.56L289.76 378.16L293.16 384.56Z" fill="#ff0000"/><path d="M287.14 384.49L290.54 378.09L293.94 384.49Z" fill="#ff0000"/><path d="M287.92 384.48L291.32 378.08L294.72 384.48Z" fill="#ff0000"/><path d="M288.7 384.31L292.1 377.91L295.5 384.31Z" fill="#ff0000"/><path d="M289.49 384.14L292.88 377.74L296.28 384.14Z" fill="#ff0000"/><path d="M290.27 384.22L293.67 377.82L297.07 384.22Z" fill="#ff0000"/><path d="M291.05 384.39L294.45 377.99L297.85 384.39Z" fill="#ff0000"/><path d="M291.83 384.39L295.23 377.99L298.63 384.39Z" fill="#ff0000"/><path d="M292.61 384.34L296.01 377.94L299.41 384.34Z" fill="#ff0000"/><path d="M293.4 384.41L296.8 378.01L300.19 384.41Z" fill="#ff0000"/><path d="M294.18 384.44L297.58 378.04L300.98 384.44Z" fill="#ff0000"/><path d="M294.96 384.58L298.36 378.18L301.76 384.58Z" fill="#ff0000"/><path d="M295.74 384.47L299.14 378.07L302.54 384.47Z" fill="#ff0000"/><path d="M296.52 384.1L299.92 377.7L303.32 384.1Z" fill="#ff0000"/><path d="M297.31 384.55L300.71 378.15L304.11 384.55Z" fill="#ff0000"/><path d="M298.09 384.35L301.49 377.95L304.89 384.35Z" fill="#ff0000"/><path d="M298.87 384.28L302.27 377.88L305.67 384.28Z" fill="#ff0000"/><path d="M299.65 384.16L303.05 377.76L306.45 384.16Z" fill="#ff0000"/><path d="M300.43 384.5L303.83 378.1L307.23 384.5Z" fill="#ff0000"/><path d="M301.22 384.47L304.62 378.07L308.01 384.47Z" fill="#ff0000"/><path d="M302 384.48L305.4 378.08L308.8 384.48Z" fill="#ff0000"/><path d="M302.78 384.41L306.18 378.01L309.58 384.41Z" fill="#ff0000"/><path d="M303.56 384.38L306.96 377.98L310.36 384.38Z" fill="#ff0000"/><path d="M304.34 384.11L307.74 377.71L311.14 384.11Z" fill="#ff0000"/><path d="M305.13 384.17L308.53 377.77L311.93 384.17Z" fill="#ff0000"/><path d="M305.91 384.16L309.31 377.76L312.71 384.16Z" fill="#ff0000"/><path d="M306.69 384.61L310.09 378.21L313.49 384.61Z" fill="#ff0000"/><path d="M307.47 384.6L310.87 378.2L314.27 384.6Z" fill="#ff0000"/><path d="M308.25 384.24L311.65 377.84L315.05 384.24Z" fill="#ff0000"/><path d="M309.04 384.14L312.44 377.74L315.84 384.14Z" fill="#ff0000"/><path d="M309.82 384.37L313.22 377.97L316.62 384.37Z" fill="#ff0000"/><path d="M310.6 384.31L314 377.91L317.4 384.31Z" fill="#ff0000"/><path d="M311.38 384.62L314.78 378.22L318.18 384.62Z" fill="#ff0000"/><path d="M312.16 384.41L315.56 378.01L318.96 384.41Z" fill="#ff0000"/><path d="M312.95 384.13L316.35 377.73L319.75 384.13Z" fill="#ff0000"/><path d="M313.73 384.18L317.13 377.78L320.53 384.18Z" fill="#ff0000"/><path d="M314.51 384.17L317.91 377.77L321.31 384.17Z" fill="#ff0000"/><path d="M315.29 384.11L318.69 377.71L322.09 384.11Z" fill="#ff0000"/><path d="M316.07 384.49L319.47 378.09L322.87 384.49Z" fill="#ff0000"/><path d="M316.86 384.56L320.26 378.16L323.66 384.56Z" fill="#ff0000"/><path d="M317.64 384.54L321.04 378.14L324.44 384.54Z" fill="#ff0000"/><path d="M318.42 384.34L321.82 377.94L325.22 384.34Z" fill="#ff0000"/><path d="M319.2 384.26L322.6 377.86L326 384.26Z" fill="#ff0000"/><path d="M319.98 384.12L323.38 377.72L326.78 384.12Z" fill="#ff0000"/><path d="M320.77 384.24L324.17 377.84L327.56 384.24Z" fill="#ff0000"/><path d="M321.55 384.28L324.95 377.88L328.35 384.28Z" fill="#ff0000"/><path d="M322.33 384.22L325.73 377.82L329.13 384.22Z" fill="#ff0000"/><path d="M323.11 384.38L326.51 377.98L329.91 384.38Z" fill="#ff0000"/><path d="M323.89 384.33L327.29 377.93L330.69 384.33Z" fill="#ff0000"/><path d="M324.68 384.6L328.08 378.2L331.48 384.6Z" fill="#ff0000"/><path d="M325.46 384.21L328.86 377.81L332.26 384.21Z" fill="#ff0000"/><path d="M326.24 384.5L329.64 378.1L333.04 384.5Z" fill="#ff0000"/><path d="M327.02 384.14L330.42 377.74L333.82 384.14Z" fill="#ff0000"/><path d="M327.8 384.28L331.2 377.88L334.6 384.28Z" fill="#ff0000"/><path d="M328.59 384.46L331.99 378.06L335.38 384.46Z" fill="#ff0000"/><path d="M329.37 384.56L332.77 378.16L336.17 384.56Z" fill="#ff0000"/><path d="M330.15 384.49L333.55 378.09L336.95 384.49Z" fill="#ff0000"/><path d="M330.93 384.29L334.33 377.89L337.73 384.29Z" fill="#ff0000"/><path d="M331.71 384.26L335.11 377.86L338.51 384.26Z" fill="#ff0000"/><path d="M332.5 384.57L335.9 378.17L339.3 384.57Z" fill="#ff0000"/><path d="M333.28 384.59L336.68 378.19L340.08 384.59Z" fill="#ff0000"/><path d="M334.06 384.35L337.46 377.95L340.86 384.35Z" fill="#ff0000"/><path d="M334.84 384.32L338.24 377.92L341.64 384.32Z" fill="#ff0000"/><path d="M335.62 384.42L339.02 378.02L342.42 384.42Z" fill="#ff0000"/><path d="M336.41 384.51L339.81 378.11L343.2 384.51Z" fill="#ff0000"/><path d="M337.19 384.31L340.59 377.91L343.99 384.31Z" fill="#ff0000"/><path d="M337.97 384.62L341.37 378.22L344.77 384.62Z" fill="#ff0000"/><path d="M338.75 384.47L342.15 378.07L345.55 384.47Z" fill="#ff0000"/><path d="M339.53 384.38L342.93 377.98L346.33 384.38Z" fill="#ff0000"/><path d="M340.32 384.12L343.72 377.72L347.12 384.12Z" fill="#ff0000"/><path d="M341.1 384.29L344.5 377.89L347.9 384.29Z" fill="#ff0000"/><path d="M341.88 384.16L345.28 377.76L348.68 384.16Z" fill="#ff0000"/><path d="M342.66 384.38L346.06 377.98L349.46 384.38Z" fill="#ff0000"/><path d="M343.44 384.5L346.84 378.1L350.24 384.5Z" fill="#ff0000"/><path d="M344.23 384.5L347.63 378.1L351.03 384.5Z" fill="#ff0000"/><path d="M345.01 384.12L348.41 377.72L351.81 384.12Z" fill="#ff0000"/><path d="M345.79 384.26L349.19 377.86L352.59 384.26Z" fill="#ff0000"/><path d="M346.57 384.47L349.97 378.07L353.37 384.47Z" fill="#ff0000"/><path d="M347.35 384.62L350.75 378.22L354.15 384.62Z" fill="#ff0000"/><path d="M348.14 384.37L351.54 377.97L354.94 384.37Z" fill="#ff0000"/><path d="M348.92 384.27L352.32 377.87L355.72 384.27Z" fill="#ff0000"/><path d="M349.7 384.41L353.1 378.01L356.5 384.41Z" fill="#ff0000"/><path d="M350.48 384.49L353.88 378.09L357.28 384.49Z" fill="#ff0000"/><path d="M351.26 384.28L354.66 377.88L358.06 384.28Z" fill="#ff0000"/><path d="M352.05 384.14L355.45 377.74L358.85 384.14Z" fill="#ff0000"/><path d="M352.83 384.51L356.23 378.11L359.63 384.51Z" fill="#ff0000"/><path d="M353.61 384.61L357.01 378.21L360.41 384.61Z" fill="#ff0000"/><path d="M354.39 384.45L357.79 378.05L361.19 384.45Z" fill="#ff0000"/><path d="M355.17 384.41L358.57 378.01L361.97 384.41Z" fill="#ff0000"/><path d="M355.96 384.27L359.36 377.87L362.75 384.27Z" fill="#ff0000"/><path d="M356.74 384.53L360.14 378.13L363.54 384.53Z" fill="#ff0000"/><path d="M357.52 384.21L360.92 377.81L364.32 384.21Z" fill="#ff0000"/><path d="M358.3 384.24L361.7 377.84L365.1 384.24Z" fill="#ff0000"/><path d="M359.08 384.37L362.48 377.97L365.88 384.37Z" fill="#ff0000"/><path d="M359.87 384.52L363.27 378.12L366.67 384.52Z" fill="#ff0000"/><path d="M360.65 384.12L364.05 377.72L367.45 384.12Z" fill="#ff0000"/><path d="M361.43 384.47L364.83 378.07L368.23 384.47Z" fill="#ff0000"/><path d="M362.21 384.2L365.61 377.8L369.01 384.2Z" fill="#ff0000"/><path d="M362.99 384.51L366.39 378.11L369.79 384.51Z" fill="#ff0000"/><path d="M363.78 384.52L367.18 378.12L370.57 384.52Z" fill="#ff0000"/><path d="M364.56 384.23L367.96 377.83L371.36 384.23Z" fill="#ff0000"/><path d="M365.34 384.48L368.74 378.08L372.14 384.48Z" fill="#ff0000"/><path d="M366.12 384.13L369.52 377.73L372.92 384.13Z" fill="#ff0000"/><path d="M366.9 384.37L370.3 377.97L373.7 384.37Z" fill="#ff0000"/><path d="M367.69 384.54L371.09 378.14L374.49 384.54Z" fill="#ff0000"/><path d="M368.47 384.52L371.87 378.12L375.27 384.52Z" fill="#ff0000"/><path d="M369.25 384.42L372.65 378.02L376.05 384.42Z" fill="#ff0000"/><path d="M370.03 384.28L373.43 377.88L376.83 384.28Z" fill="#ff0000"/><path d="M370.81 384.14L374.21 377.74L377.61 384.14Z" fill="#ff0000"/><path d="M371.6 384.56L375 378.16L378.4 384.56Z" fill="#ff0000"/><path d="M372.38 384.43L375.78 378.03L379.18 384.43Z" fill="#ff0000"/><path d="M373.16 384.52L376.56 378.12L379.96 384.52Z" fill="#ff0000"/><path d="M373.94 384.12L377.34 377.72L380.74 384.12Z" fill="#ff0000"/><path d="M374.72 384.56L378.12 378.16L381.52 384.56Z" fill="#ff0000"/><path d="M375.51 384.61L378.91 378.21L382.31 384.61Z" fill="#ff0000"/><path d="M376.29 384.61L379.69 378.21L383.09 384.61Z" fill="#ff0000"/><path d="M377.07 384.43L380.47 378.03L383.87 384.43Z" fill="#ff0000"/><path d="M377.85 384.16L381.25 377.76L384.65 384.16Z" fill="#ff0000"/><path d="M378.63 384.17L382.03 377.77L385.43 384.17Z" fill="#ff0000"/><path d="M379.42 384.25L382.82 377.85L386.22 384.25Z" fill="#ff0000"/><path d="M380.2 384.11L383.6 377.71L387 384.11Z" fill="#ff0000"/><path d="M380.98 384.15L384.38 377.75L387.78 384.15Z" fill="#ff0000"/><path d="M381.76 384.47L385.16 378.07L388.56 384.47Z" fill="#ff0000"/><path d="M382.54 384.54L385.94 378.14L389.34 384.54Z" fill="#ff0000"/><path d="M383.33 384.15L386.73 377.75L390.12 384.15Z" fill="#ff0000"/><path d="M384.11 384.25L387.51 377.85L390.91 384.25Z" fill="#ff0000"/><path d="M384.89 384.62L388.29 378.22L391.69 384.62Z" fill="#ff0000"/><path d="M385.67 384.29L389.07 377.89L392.47 384.29Z" fill="#ff0000"/><path d="M386.45 384.44L389.85 378.04L393.25 384.44Z" fill="#ff0000"/><path d="M387.24 384.44L390.64 378.04L394.04 384.44Z" fill="#ff0000"/><path d="M388.02 384.47L391.42 378.07L394.82 384.47Z" fill="#ff0000"/><path d="M388.8 384.55L392.2 378.15L395.6 384.55Z" fill="#ff0000"/><path d="M389.58 384.64L392.98 378.24L396.38 384.64Z" fill="#ff0000"/><path d="M390.36 384.49L393.76 378.09L397.16 384.49Z" fill="#ff0000"/><path d="M391.15 384.46L394.55 378.06L397.94 384.46Z" fill="#ff0000"/><path d="M391.93 384.14L395.33 377.74L398.73 384.14Z" fill="#ff0000"/><path d="M392.71 384.58L396.11 378.18L399.51 384.58Z" fill="#ff0000"/><path d="M393.49 384.13L396.89 377.73L400.29 384.13Z" fill="#ff0000"/><path d="M394.27 384.53L397.67 378.13L401.07 384.53Z" fill="#ff0000"/><path d="M395.06 384.46L398.46 378.06L401.86 384.46Z" fill="#ff0000"/><path d="M395.84 384.21L399.24 377.81L402.64 384.21Z" fill="#ff0000"/><path d="M396.62 384.21L400.02 377.81L403.42 384.21Z" fill="#ff0000"/><path d="M397.4 384.42L400.8 378.02L404.2 384.42Z" fill="#ff0000"/><path d="M398.18 384.62L401.58 378.22L404.98 384.62Z" fill="#ff0000"/><path d="M398.97 384.39L402.37 377.99L405.76 384.39Z" fill="#ff0000"/><path d="M399.75 384.45L403.15 378.05L406.55 384.45Z" fill="#ff0000"/><path d="M400.53 384.16L403.93 377.76L407.33 384.16Z" fill="#ff0000"/><path d="M401.31 384.54L404.71 378.14L408.11 384.54Z" fill="#ff0000"/><path d="M402.09 384.45L405.49 378.05L408.89 384.45Z" fill="#ff0000"/><path d="M402.88 384.17L406.28 377.77L409.68 384.17Z" fill="#ff0000"/><path d="M403.66 384.63L407.06 378.23L410.46 384.63Z" fill="#ff0000"/><path d="M404.44 384.43L407.84 378.03L411.24 384.43Z" fill="#ff0000"/><path d="M405.22 384.22L408.62 377.82L412.02 384.22Z" fill="#ff0000"/><path d="M406 384.24L409.4 377.84L412.8 384.24Z" fill="#ff0000"/><path d="M406.79 384.63L410.19 378.23L413.59 384.63Z" fill="#ff0000"/><path d="M407.57 384.63L410.97 378.23L414.37 384.63Z" fill="#ff0000"/><path d="M408.35 384.61L411.75 378.21L415.15 384.61Z" fill="#ff0000"/><path d="M409.13 384.16L412.53 377.76L415.93 384.16Z" fill="#ff0000"/><path d="M409.91 384.51L413.31 378.11L416.71 384.51Z" fill="#ff0000"/><path d="M410.7 384.25L414.1 377.85L417.5 384.25Z" fill="#ff0000"/><path d="M411.48 384.17L414.88 377.77L418.28 384.17Z" fill="#ff0000"/><path d="M412.26 384.47L415.66 378.07L419.06 384.47Z" fill="#ff0000"/><path d="M413.04 384.51L416.44 378.11L419.84 384.51Z" fill="#ff0000"/><path d="M413.82 384.14L417.22 377.74L420.62 384.14Z" fill="#ff0000"/><path d="M414.61 384.32L418.01 377.92L421.41 384.32Z" fill="#ff0000"/><path d="M415.39 384.51L418.79 378.11L422.19 384.51Z" fill="#ff0000"/><path d="M416.17 384.27L419.57 377.87L422.97 384.27Z" fill="#ff0000"/><path d="M416.95 384.48L420.35 378.08L423.75 384.48Z" fill="#ff0000"/><path d="M417.73 384.5L421.13 378.1L424.53 384.5Z" fill="#ff0000"/><path d="M418.52 384.65L421.92 378.25L425.31 384.65Z" fill="#ff0000"/><path d="M419.3 384.25L422.7 377.85L426.1 384.25Z" fill="#ff0000"/><path d="M420.08 384.17L423.48 377.77L426.88 384.17Z" fill="#ff0000"/><path d="M420.86 384.32L424.26 377.92L427.66 384.32Z" fill="#ff0000"/><path d="M421.64 384.15L425.04 377.75L428.44 384.15Z" fill="#ff0000"/><path d="M422.43 384.64L425.83 378.24L429.23 384.64Z" fill="#ff0000"/><path d="M423.21 384.53L426.61 378.13L430.01 384.53Z" fill="#ff0000"/><path d="M423.99 384.4L427.39 378L430.79 384.4Z" fill="#ff0000"/><path d="M424.77 384.15L428.17 377.75L431.57 384.15Z" fill="#ff0000"/><path d="M425.55 384.15L428.95 377.75L432.35 384.15Z" fill="#ff0000"/><path d="M426.34 384.45L429.74 378.05L433.13 384.45Z" fill="#ff0000"/><path d="M427.12 384.52L430.52 378.12L433.92 384.52Z" fill="#ff0000"/><path d="M427.9 384.43L431.3 378.03L434.7 384.43Z" fill="#ff0000"/><path d="M428.68 384.39L432.08 377.99L435.48 384.39Z" fill="#ff0000"/><path d="M429.46 384.16L432.86 377.76L436.26 384.16Z" fill="#ff0000"/><path d="M430.25 384.56L433.65 378.16L437.05 384.56Z" fill="#ff0000"/><path d="M431.03 384.23L434.43 377.83L437.83 384.23Z" fill="#ff0000"/><path d="M431.81 384.26L435.21 377.86L438.61 384.26Z" fill="#ff0000"/><path d="M432.59 384.22L435.99 377.82L439.39 384.22Z" fill="#ff0000"/><path d="M433.37 384.25L436.77 377.85L440.17 384.25Z" fill="#ff0000"/><path d="M434.16 384.33L437.56 377.93L440.96 384.33Z" fill="#ff0000"/><path d="M434.94 384.48L438.34 378.08L441.74 384.48Z" fill="#ff0000"/><path d="M435.72 384.49L439.12 378.09L442.52 384.49Z" fill="#ff0000"/><path d="M436.5 384.46L439.9 378.06L443.3 384.46Z" fill="#ff0000"/><path d="M437.28 384.24L440.68 377.84L444.08 384.24Z" fill="#ff0000"/><path d="M438.07 384.61L441.47 378.21L444.87 384.61Z" fill="#ff0000"/><path d="M438.85 384.55L442.25 378.15L445.65 384.55Z" fill="#ff0000"/><path d="M439.63 384.26L443.03 377.86L446.43 384.26Z" fill="#ff0000"/><path d="M440.41 384.53L443.81 378.13L447.21 384.53Z" fill="#ff0000"/><path d="M441.19 384.62L444.59 378.22L447.99 384.62Z" fill="#ff0000"/><path d="M441.98 384.64L445.38 378.24L448.78 384.64Z" fill="#ff0000"/><path d="M442.76 384.37L446.16 377.97L449.56 384.37Z" fill="#ff0000"/><path d="M443.54 384.49L446.94 378.09L450.34 384.49Z" fill="#ff0000"/><path d="M444.32 384.14L447.72 377.74L451.12 384.14Z" fill="#ff0000"/><path d="M445.1 384.19L448.5 377.79L451.9 384.19Z" fill="#ff0000"/><path d="M445.89 384.14L449.29 377.74L452.69 384.14Z" fill="#ff0000"/><path d="M446.67 384.52L450.07 378.12L453.47 384.52Z" fill="#ff0000"/><path d="M447.45 384.62L450.85 378.22L454.25 384.62Z" fill="#ff0000"/><path d="M448.23 384.61L451.63 378.21L455.03 384.61Z" fill="#ff0000"/><path d="M449.01 384.4L452.41 378L455.81 384.4Z" fill="#ff0000"/><path d="M449.8 384.28L453.2 377.88L456.6 384.28Z" fill="#ff0000"/><path d="M450.58 384.42L453.98 378.02L457.38 384.42Z" fill="#ff0000"/><path d="M451.36 384.54L454.76 378.14L458.16 384.54Z" fill="#ff0000"/><path d="M452.14 384.44L455.54 378.04L458.94 384.44Z" fill="#ff0000"/><path d="M452.92 384.33L456.32 377.93L459.72 384.33Z" fill="#ff0000"/><path d="M453.71 384.3L457.11 377.9L460.5 384.3Z" fill="#ff0000"/><path d="M454.49 384.27L457.89 377.87L461.29 384.27Z" fill="#ff0000"/><path d="M455.27 384.21L458.67 377.81L462.07 384.21Z" fill="#ff0000"/><path d="M456.05 384.31L459.45 377.91L462.85 384.31Z" fill="#ff0000"/><path d="M456.83 384.6L460.23 378.2L463.63 384.6Z" fill="#ff0000"/><path d="M457.62 384.22L461.02 377.82L464.42 384.22Z" fill="#ff0000"/><path d="M458.4 384.51L461.8 378.11L465.2 384.51Z" fill="#ff0000"/><path d="M459.18 384.36L462.58 377.96L465.98 384.36Z" fill="#ff0000"/><path d="M459.96 384.47L463.36 378.07L466.76 384.47Z" fill="#ff0000"/><path d="M460.74 384.27L464.14 377.87L467.54 384.27Z" fill="#ff0000"/><path d="M461.53 384.56L464.93 378.16L468.32 384.56Z" fill="#ff0000"/><path d="M462.31 384.53L465.71 378.13L469.11 384.53Z" fill="#ff0000"/><path d="M463.09 384.53L466.49 378.13L469.89 384.53Z" fill="#ff0000"/><path d="M463.87 384.58L467.27 378.18L470.67 384.58Z" fill="#ff0000"/><path d="M464.65 384.2L468.05 377.8L471.45 384.2Z" fill="#ff0000"/><path d="M465.44 384.36L468.84 377.96L472.24 384.36Z" fill="#ff0000"/><path d="M466.22 384.49L469.62 378.09L473.02 384.49Z" fill="#ff0000"/><path d="M467 384.46L470.4 378.06L473.8 384.46Z" fill="#ff0000"/><path d="M467.78 384.14L471.18 377.74L474.58 384.14Z" fill="#ff0000"/><path d="M468.56 384.4L471.96 378L475.36 384.4Z" fill="#ff0000"/><path d="M469.35 384.54L472.75 378.14L476.15 384.54Z" fill="#ff0000"/><path d="M470.13 384.24L473.53 377.84L476.93 384.24Z" fill="#ff0000"/><path d="M470.91 384.32L474.31 377.92L477.71 384.32Z" fill="#ff0000"/><path d="M471.69 384.14L475.09 377.74L478.49 384.14Z" fill="#ff0000"/><path d="M472.47 384.61L475.87 378.21L479.27 384.61Z" fill="#ff0000"/><path d="M473.26 384.42L476.66 378.02L480.06 384.42Z" fill="#ff0000"/><path d="M474.04 384.23L477.44 377.83L480.84 384.23Z" fill="#ff0000"/><path d="M474.82 384.22L478.22 377.82L481.62 384.22Z" fill="#ff0000"/><path d="M475.6 384.18L479 377.78L482.4 384.18Z" fill="#ff0000"/><path d="M476.38 384.65L479.78 378.25L483.18 384.65Z" fill="#ff0000"/><path d="M477.17 384.51L480.57 378.11L483.97 384.51Z" fill="#ff0000"/><path d="M477.95 384.61L481.35 378.21L484.75 384.61Z" fill="#ff0000"/><path d="M478.73 384.57L482.13 378.17L485.53 384.57Z" fill="#ff0000"/><path d="M479.51 384.15L482.91 377.75L486.31 384.15Z" fill="#ff0000"/><path d="M480.29 384.36L483.69 377.96L487.09 384.36Z" fill="#ff0000"/><path d="M481.08 384.18L484.48 377.78L487.88 384.18Z" fill="#ff0000"/><path d="M481.86 384.47L485.26 378.07L488.66 384.47Z" fill="#ff0000"/><path d="M482.64 384.21L486.04 377.81L489.44 384.21Z" fill="#ff0000"/><path d="M483.42 384.43L486.82 378.03L490.22 384.43Z" fill="#ff0000"/><path d="M484.2 384.53L487.6 378.13L491 384.53Z" fill="#ff0000"/><path d="M484.99 384.26L488.39 377.86L491.79 384.26Z" fill="#ff0000"/><path d="M485.77 384.17L489.17 377.77L492.57 384.17Z" fill="#ff0000"/><path d="M486.55 384.62L489.95 378.22L493.35 384.62Z" fill="#ff0000"/><path d="M487.33 384.36L490.73 377.96L494.13 384.36Z" fill="#ff0000"/><path d="M488.11 384.34L491.51 377.94L494.91 384.34Z" fill="#ff0000"/><circle cx="44.99" cy="384.62" r="3.7" fill="#000000"/><circle cx="45.77" cy="384.43" r="3.7" fill="#000000"/><circle cx="46.55" cy="384.75" r="3.7" fill="#000000"/><circle cx="47.34" cy="384.68" r="3.7" fill="#000000"/><circle cx="48.12" cy="384.63" r="3.7" fill="#000000"/><circle cx="48.9" cy="384.18" r="3.7" fill="#000000"/><circle cx="49.68" cy="384.13" r="3.7" fill="#000000"/><circle cx="50.47" cy="384.74" r="3.7" fill="#000000"/><circle cx="51.25" cy="385" r="3.7" fill="#000000"/><circle cx="52.03" cy="384.6" r="3.7" fill="#000000"/><circle cx="52.81" cy="384.15" r="3.7" fill="#000000"/><circle cx="53.59" cy="384.82" r="3.7" fill="#000000"/><circle cx="54.38" cy="384.66" r="3.7" fill="#000000"/><circle cx="55.16" cy="384.82" r="3.7" fill="#000000"/><circle cx="55.94" cy="384.05" r="3.7" fill="#000000"/><circle cx="56.72" cy="384.39" r="3.7" fill="#000000"/><circle cx="57.5" cy="385.05" r="3.7" fill="#000000"/><circle cx="58.29" cy="385.01" r="3.7" fill="#000000"/><circle cx="59.07" cy="384.63" r="3.7" fill="#000000"/><circle cx="59.85" cy="384.44" r="3.7" fill="#000000"/><circle cx="60.63" cy="384.34" r="3.7" fill="#000000"/><circle cx="61.41" cy="385.08" r="3.7" fill="#000000"/><circle cx="62.2" cy="385" r="3.7" fill="#000000"/><circle cx="62.98" cy="384.31" r="3.7" fill="#000000"/><circle cx="63.76" cy="384.7" r="3.7" fill="#000000"/><circle cx="64.54" cy="384.88" r="3.7" fill="#000000"/><circle cx="65.32" cy="384.86" r="3.7" fill="#000000"/><circle cx="66.11" cy="384.02" r="3.7" fill="#000000"/><circle cx="66.89" cy="384.88" r="3.7" fill="#000000"/><circle cx="67.67" cy="384.56" r="3.7" fill="#000000"/><circle cx="68.45" cy="384.85" r="3.7" fill="#000000"/><circle cx="69.23" cy="384.79" r="3.7" fill="#000000"/><circle cx="70.02" cy="384.21" r="3.7" fill="#000000"/><circle cx="70.8" cy="384.05" r="3.7" fill="#000000"/><circle cx="71.58" cy="384.9" r="3.7" fill="#000000"/><circle cx="72.36" cy="385.13" r="3.7" fill="#000000"/><circle cx="73.14" cy="384.44" r="3.7" fill="#000000"/><circle cx="73.93" cy="385.15" r="3.7" fill="#000000"/><circle cx="74.71" cy="385.43" r="3.7" fill="#000000"/><circle cx="75.49" cy="384.25" r="3.7" fill="#000000"/><circle cx="76.27" cy="384.9" r="3.7" fill="#000000"/><circle cx="77.05" cy="384.39" r="3.7" fill="#000000"/><circle cx="77.84" cy="384.95" r="3.7" fill="#000000"/><circle cx="78.62" cy="384.33" r="3.7" fill="#000000"/><circle cx="79.4" cy="384.91" r="3.7" fill="#000000"/><circle cx="80.18" cy="385.31" r="3.7" fill="#000000"/><circle cx="80.96" cy="385.52" r="3.7" fill="#000000"/><circle cx="81.75" cy="384.83" r="3.7" fill="#000000"/><circle cx="82.53" cy="384.72" r="3.7" fill="#000000"/><circle cx="83.31" cy="384.38" r="3.7" fill="#000000"/><circle cx="84.09" cy="385.48" r="3.7" fill="#000000"/><circle cx="84.87" cy="384.79" r="3.7" fill="#000000"/><circle cx="85.66" cy="385.14" r="3.7" fill="#000000"/><circle cx="86.44" cy="384.97" r="3.7" fill="#000000"/><circle cx="87.22" cy="385.46" r="3.7" fill="#000000"/><circle cx="88" cy="385.29" r="3.7" fill="#000000"/><circle cx="88.78" cy="384.99" r="3.7" fill="#000000"/><circle cx="89.56" cy="384.47" r="3.7" fill="#000000"/><circle cx="90.35" cy="385.57" r="3.7" fill="#000000"/><circle cx="91.13" cy="385.07" r="3.7" fill="#000000"/><circle cx="91.91" cy="384.67" r="3.7" fill="#000000"/><circle cx="92.69" cy="384.47" r="3.7" fill="#000000"/><circle cx="93.47" cy="385.5" r="3.7" fill="#000000"/><circle cx="94.26" cy="385.61" r="3.7" fill="#000000"/><circle cx="95.04" cy="384.55" r="3.7" fill="#000000"/><circle cx="95.82" cy="384.52" r="3.7" fill="#000000"/><circle cx="96.6" cy="385.18" r="3.7" fill="#000000"/><circle cx="97.39" cy="385.76" r="3.7" fill="#000000"/><circle cx="98.17" cy="384.62" r="3.7" fill="#000000"/><circle cx="98.95" cy="385.35" r="3.7" fill="#000000"/><circle cx="99.73" cy="384.68" r="3.7" fill="#000000"/><circle cx="100.51" cy="385.07" r="3.7" fill="#000000"/><circle cx="101.3" cy="384.81" r="3.7" fill="#000000"/><circle cx="102.08" cy="385.7" r="3.7" fill="#000000"/><circle cx="102.86" cy="384.89" r="3.7" fill="#000000"/><circle cx="103.64" cy="385.65" r="3.7" fill="#000000"/><circle cx="104.42" cy="385.42" r="3.7" fill="#000000"/><circle cx="105.21" cy="384.85" r="3.7" fill="#000000"/><circle cx="105.99" cy="384.89" r="3.7" fill="#000000"/><circle cx="106.77" cy="385.76" r="3.7" fill="#000000"/><circle cx="107.55" cy="385.72" r="3.7" fill="#000000"/><circle cx="108.33" cy="385.5" r="3.7" fill="#000000"/><circle cx="109.12" cy="385.36" r="3.7" fill="#000000"/><circle cx="109.9" cy="385.55" r="3.7" fill="#000000"/><circle cx="110.68" cy="385.91" r="3.7" fill="#000000"/><circle cx="111.46" cy="385.76" r="3.7" fill="#000000"/><circle cx="112.24" cy="385.14" r="3.7" fill="#000000"/><circle cx="113.03" cy="384.92" r="3.7" fill="#000000"/><circle cx="113.81" cy="386.07" r="3.7" fill="#000000"/><circle cx="114.59" cy="385.39" r="3.7" fill="#000000"/><circle cx="115.37" cy="385.15" r="3.7" fill="#000000"/><circle cx="116.15" cy="386.11" r="3.7" fill="#000000"/><circle cx="116.94" cy="385.07" r="3.7" fill="#000000"/><circle cx="117.72" cy="386.04" r="3.7" fill="#000000"/><circle cx="118.5" cy="385.41" r="3.7" fill="#000000"/><circle cx="119.28" cy="385.49" r="3.7" fill="#000000"/><circle cx="120.06" cy="385.4" r="3.7" fill="#000000"/><circle cx="120.84" cy="385.84" r="3.7" fill="#000000"/><circle cx="121.63" cy="385.71" r="3.7" fill="#000000"/><circle cx="122.41" cy="385.5" r="3.7" fill="#000000"/><circle cx="123.19" cy="385.73" r="3.7" fill="#000000"/><circle cx="123.97" cy="385.43" r="3.7" fill="#000000"/><circle cx="124.75" cy="385.73" r="3.7" fill="#000000"/><circle cx="125.54" cy="385.75" r="3.7" fill="#000000"/><circle cx="126.32" cy="386.31" r="3.7" fill="#000000"/><circle cx="127.1" cy="385.54" r="3.7" fill="#000000"/><circle cx="127.88" cy="385.72" r="3.7" fill="#000000"/><circle cx="128.66" cy="386.07" r="3.7" fill="#000000"/><circle cx="129.45" cy="385.39" r="3.7" fill="#000000"/><circle cx="130.23" cy="385.38" r="3.7" fill="#000000"/><circle cx="131.01" cy="385.82" r="3.7" fill="#000000"/><circle cx="131.79" cy="386.2" r="3.7" fill="#000000"/><circle cx="132.58" cy="385.83" r="3.7" fill="#000000"/><circle cx="133.36" cy="386.33" r="3.7" fill="#000000"/><circle cx="134.14" cy="386.31" r="3.7" fill="#000000"/><circle cx="134.92" cy="385.93" r="3.7" fill="#000000"/><circle cx="135.7" cy="386.39" r="3.7" fill="#000000"/><circle cx="136.49" cy="385.94" r="3.7" fill="#000000"/><circle cx="137.27" cy="385.86" r="3.7" fill="#000000"/><circle cx="138.05" cy="386.5" r="3.7" fill="#000000"/><circle cx="138.83" cy="385.72" r="3.7" fill="#000000"/><circle cx="139.61" cy="386.47" r="3.7" fill="#000000"/><circle cx="140.4" cy="385.62" r="3.7" fill="#000000"/><circle cx="141.18" cy="385.58" r="3.7" fill="#000000"/><circle cx="141.96" cy="385.94" r="3.7" fill="#000000"/><circle cx="142.74" cy="386.56" r="3.7" fill="#000000"/><circle cx="143.52" cy="385.98" r="3.7" fill="#000000"/><circle cx="144.31" cy="386.15" r="3.7" fill="#000000"/><circle cx="145.09" cy="385.4" r="3.7" fill="#000000"/><circle cx="145.87" cy="386.49" r="3.7" fill="#000000"/><circle cx="146.65" cy="385.55" r="3.7" fill="#000000"/><circle cx="147.43" cy="385.37" r="3.7" fill="#000000"/><circle cx="148.22" cy="385.73" r="3.7" fill="#000000"/><circle cx="149" cy="385.63" r="3.7" fill="#000000"/><circle cx="149.78" cy="386.46" r="3.7" fill="#000000"/><circle cx="150.56" cy="385.43" r="3.7" fill="#000000"/><circle cx="151.34" cy="386.09" r="3.7" fill="#000000"/><circle cx="152.12" cy="385.48" r="3.7" fill="#000000"/><circle cx="152.91" cy="385.54" r="3.7" fill="#000000"/><circle cx="153.69" cy="386.55" r="3.7" fill="#000000"/><circle cx="154.47" cy="385.73" r="3.7" fill="#000000"/><circle cx="155.25" cy="385.55" r="3.7" fill="#000000"/><circle cx="156.03" cy="386.71" r="3.7" fill="#000000"/><circle cx="156.82" cy="386.34" r="3.7" fill="#000000"/><circle cx="157.6" cy="385.81" r="3.7" fill="#000000"/><circle cx="158.38" cy="386.61" r="3.7" fill="#000000"/><circle cx="159.16" cy="385.65" r="3.7" fill="#000000"/><circle cx="159.94" cy="386.48" r="3.7" fill="#000000"/><circle cx="160.73" cy="385.77" r="3.7" fill="#000000"/><circle cx="161.51" cy="386.67" r="3.7" fill="#000000"/><circle cx="162.29" cy="386.21" r="3.7" fill="#000000"/><circle cx="163.07" cy="385.66" r="3.7" fill="#000000"/><circle cx="163.86" cy="386.61" r="3.7" fill="#000000"/><circle cx="164.64" cy="386.55" r="3.7" fill="#000000"/><circle cx="165.42" cy="386.24" r="3.7" fill="#000000"/><circle cx="166.2" cy="386.5" r="3.7" fill="#000000"/><circle cx="166.98" cy="386.88" r="3.7" fill="#000000"/><circle cx="167.77" cy="386.7" r="3.7" fill="#000000"/><circle cx="168.55" cy="386.73" r="3.7" fill="#000000"/><circle cx="169.33" cy="385.72" r="3.7" fill="#000000"/><circle cx="170.11" cy="386.07" r="3.7" fill="#000000"/><circle cx="170.89" cy="385.79" r="3.7" fill="#000000"/><circle cx="171.68" cy="386.76" r="3.7" fill="#000000"/><circle cx="172.46" cy="385.96" r="3.7" fill="#000000"/><circle cx="173.24" cy="386.85" r="3.7" fill="#000000"/><circle cx="174.02" cy="386.31" r="3.7" fill="#000000"/><circle cx="174.8" cy="386.18" r="3.7" fill="#000000"/><circle cx="175.59" cy="386.56" r="3.7" fill="#000000"/><circle cx="176.37" cy="385.89" r="3.7" fill="#000000"/><circle cx="177.15" cy="386.32" r="3.7" fill="#000000"/><circle cx="177.93" cy="386.29" r="3.7" fill="#000000"/><circle cx="178.71" cy="385.9" r="3.7" fill="#000000"/><circle cx="179.5" cy="386.94" r="3.7" fill="#000000"/><circle cx="180.28" cy="385.78" r="3.7" fill="#000000"/><circle cx="181.06" cy="386.27" r="3.7" fill="#000000"/><circle cx="181.84" cy="386.59" r="3.7" fill="#000000"/><circle cx="182.62" cy="386.06" r="3.7" fill="#000000"/><circle cx="183.41" cy="386.78" r="3.7" fill="#000000"/><circle cx="184.19" cy="385.83" r="3.7" fill="#000000"/><circle cx="184.97" cy="386.38" r="3.7" fill="#000000"/><circle cx="185.75" cy="386.68" r="3.7" fill="#000000"/><circle cx="186.53" cy="386.15" r="3.7" fill="#000000"/><circle cx="187.31" cy="386.59" r="3.7" fill="#000000"/><circle cx="188.1" cy="386.95" r="3.7" fill="#000000"/><circle cx="188.88" cy="386.21" r="3.7" fill="#000000"/><circle cx="189.66" cy="387.14" r="3.7" fill="#000000"/><circle cx="190.44" cy="386.13" r="3.7" fill="#000000"/><circle cx="191.22" cy="386.89" r="3.7" fill="#000000"/><circle cx="192.01" cy="386.39" r="3.7" fill="#000000"/><circle cx="192.79" cy="385.94" r="3.7" fill="#000000"/><circle cx="193.57" cy="386.48" r="3.7" fill="#000000"/><circle cx="194.35" cy="386.38" r="3.7" fill="#000000"/><circle cx="195.13" cy="386.86" r="3.7" fill="#000000"/><circle cx="195.92" cy="387.28" r="3.7" fill="#000000"/><circle cx="196.7" cy="387.24" r="3.7" fill="#000000"/><circle cx="197.48" cy="387.1" r="3.7" fill="#000000"/><circle cx="198.26" cy="386.49" r="3.7" fill="#000000"/><circle cx="199.04" cy="386.75" r="3.7" fill="#000000"/><circle cx="199.83" cy="386.65" r="3.7" fill="#000000"/><circle cx="200.61" cy="386.15" r="3.7" fill="#000000"/><circle cx="201.39" cy="387.17" r="3.7" fill="#000000"/><circle cx="202.17" cy="387.05" r="3.7" fill="#000000"/><circle cx="202.96" cy="386.5" r="3.7" fill="#000000"/><circle cx="203.74" cy="387.34" r="3.7" fill="#000000"/><circle cx="204.52" cy="387.38" r="3.7" fill="#000000"/><circle cx="205.3" cy="386.92" r="3.7" fill="#000000"/><circle cx="206.08" cy="387.26" r="3.7" fill="#000000"/><circle cx="206.87" cy="386.94" r="3.7" fill="#000000"/><circle cx="207.65" cy="387.13" r="3.7" fill="#000000"/><circle cx="208.43" cy="386.66" r="3.7" fill="#000000"/><circle cx="209.21" cy="386.66" r="3.7" fill="#000000"/><circle cx="209.99" cy="387.18" r="3.7" fill="#000000"/><circle cx="210.78" cy="386.64" r="3.7" fill="#000000"/><circle cx="211.56" cy="386.84" r="3.7" fill="#000000"/><circle cx="212.34" cy="387.3" r="3.7" fill="#000000"/><circle cx="213.12" cy="386.25" r="3.7" fill="#000000"/><circle cx="213.9" cy="387.18" r="3.7" fill="#000000"/><circle cx="214.69" cy="387.31" r="3.7" fill="#000000"/><circle cx="215.47" cy="387.39" r="3.7" fill="#000000"/><circle cx="216.25" cy="386.68" r="3.7" fill="#000000"/><circle cx="217.03" cy="386.38" r="3.7" fill="#000000"/><circle cx="217.81" cy="386.51" r="3.7" fill="#000000"/><circle cx="218.59" cy="387.02" r="3.7" fill="#000000"/><circle cx="219.38" cy="387.22" r="3.7" fill="#000000"/><circle cx="220.16" cy="387.56" r="3.7" fill="#000000"/><circle cx="220.94" cy="386.73" r="3.7" fill="#000000"/><circle cx="221.72" cy="386.85" r="3.7" fill="#000000"/><circle cx="222.5" cy="387.14" r="3.7" fill="#000000"/><circle cx="223.29" cy="386.76" r="3.7" fill="#000000"/><circle cx="224.07" cy="387.04" r="3.7" fill="#000000"/><circle cx="224.85" cy="386.39" r="3.7" fill="#000000"/><circle cx="225.63" cy="386.67" r="3.7" fill="#000000"/><circle cx="226.41" cy="387.32" r="3.7" fill="#000000"/><circle cx="227.2" cy="386.47" r="3.7" fill="#000000"/><circle cx="227.98" cy="387.61" r="3.7" fill="#000000"/><circle cx="228.76" cy="386.98" r="3.7" fill="#000000"/><circle cx="229.54" cy="387.15" r="3.7" fill="#000000"/><circle cx="230.32" cy="387.38" r="3.7" fill="#000000"/><circle cx="231.11" cy="387.63" r="3.7" fill="#000000"/><circle cx="231.89" cy="386.69" r="3.7" fill="#000000"/><circle cx="232.67" cy="387.71" r="3.7" fill="#000000"/><circle cx="233.45" cy="387.01" r="3.7" fill="#000000"/><circle cx="234.24" cy="386.5" r="3.7" fill="#000000"/><circle cx="235.02" cy="387.57" r="3.7" fill="#000000"/><circle cx="235.8" cy="387.5" r="3.7" fill="#000000"/><circle cx="236.58" cy="386.97" r="3.7" fill="#000000"/><circle cx="237.36" cy="387.11" r="3.7" fill="#000000"/><circle cx="238.15" cy="386.94" r="3.7" fill="#000000"/><circle cx="238.93" cy="386.73" r="3.7" fill="#000000"/><circle cx="239.71" cy="387.58" r="3.7" fill="#000000"/><circle cx="240.49" cy="387.41" r="3.7" fill="#000000"/><circle cx="241.27" cy="387.42" r="3.7" fill="#000000"/><circle cx="242.06" cy="387.75" r="3.7" fill="#000000"/><circle cx="242.84" cy="386.63" r="3.7" fill="#000000"/><circle cx="243.62" cy="386.77" r="3.7" fill="#000000"/><circle cx="244.4" cy="386.86" r="3.7" fill="#000000"/><circle cx="245.18" cy="387.8" r="3.7" fill="#000000"/><circle cx="245.97" cy="386.69" r="3.7" fill="#000000"/><circle cx="246.75" cy="386.81" r="3.7" fill="#000000"/><circle cx="247.53" cy="387.18" r="3.7" fill="#000000"/><circle cx="248.31" cy="386.82" r="3.7" fill="#000000"/><circle cx="249.09" cy="387.2" r="3.7" fill="#000000"/><circle cx="249.88" cy="387.49" r="3.7" fill="#000000"/><circle cx="250.66" cy="387.65" r="3.7" fill="#000000"/><circle cx="251.44" cy="387.48" r="3.7" fill="#000000"/><circle cx="252.22" cy="387.73" r="3.7" fill="#000000"/><circle cx="253" cy="387.34" r="3.7" fill="#000000"/><circle cx="253.78" cy="386.79" r="3.7" fill="#000000"/><circle cx="254.57" cy="386.86" r="3.7" fill="#000000"/><circle cx="255.35" cy="386.66" r="3.7" fill="#000000"/><circle cx="256.13" cy="386.84" r="3.7" fill="#000000"/><circle cx="256.91" cy="387.42" r="3.7" fill="#000000"/><circle cx="257.69" cy="387.04" r="3.7" fill="#000000"/><circle cx="258.48" cy="387.19" r="3.7" fill="#000000"/><circle cx="259.26" cy="386.73" r="3.7" fill="#000000"/><circle cx="260.04" cy="387.07" r="3.7" fill="#000000"/><circle cx="260.82" cy="387.41" r="3.7" fill="#000000"/><circle cx="261.61" cy="386.91" r="3.7" fill="#000000"/><circle cx="262.39" cy="386.48" r="3.7" fill="#000000"/><circle cx="263.17" cy="387.47" r="3.7" fill="#000000"/><circle cx="263.95" cy="386.59" r="3.7" fill="#000000"/><circle cx="264.73" cy="387.73" r="3.7" fill="#000000"/><circle cx="265.52" cy="387.41" r="3.7" fill="#000000"/><circle cx="266.3" cy="387.44" r="3.7" fill="#000000"/><circle cx="267.08" cy="386.76" r="3.7" fill="#000000"/><circle cx="267.86" cy="386.5" r="3.7" fill="#000000"/><circle cx="268.64" cy="386.76" r="3.7" fill="#000000"/><circle cx="269.43" cy="387.31" r="3.7" fill="#000000"/><circle cx="270.21" cy="386.58" r="3.7" fill="#000000"/><circle cx="270.99" cy="387.3" r="3.7" fill="#000000"/><circle cx="271.77" cy="387.42" r="3.7" fill="#000000"/><circle cx="272.55" cy="386.53" r="3.7" fill="#000000"/><circle cx="273.34" cy="386.9" r="3.7" fill="#000000"/><circle cx="274.12" cy="386.81" r="3.7" fill="#000000"/><circle cx="274.9" cy="386.85" r="3.7" fill="#000000"/><circle cx="275.68" cy="386.43" r="3.7" fill="#000000"/><circle cx="276.46" cy="387.1" r="3.7" fill="#000000"/><circle cx="277.25" cy="386.61" r="3.7" fill="#000000"/><circle cx="278.03" cy="386.8" r="3.7" fill="#000000"/><circle cx="278.81" cy="386.58" r="3.7" fill="#000000"/><circle cx="279.59" cy="387.14" r="3.7" fill="#000000"/><circle cx="280.37" cy="386.76" r="3.7" fill="#000000"/><circle cx="281.16" cy="386.96" r="3.7" fill="#000000"/><circle cx="281.94" cy="387.3" r="3.7" fill="#000000"/><circle cx="282.72" cy="387.43" r="3.7" fill="#000000"/><circle cx="283.5" cy="386.88" r="3.7" fill="#000000"/><circle cx="284.28" cy="387.6" r="3.7" fill="#000000"/><circle cx="285.06" cy="386.5" r="3.7" fill="#000000"/><circle cx="285.85" cy="387.51" r="3.7" fill="#000000"/><circle cx="286.63" cy="387.66" r="3.7" fill="#000000"/><circle cx="287.41" cy="387.56" r="3.7" fill="#000000"/><circle cx="288.19" cy="386.47" r="3.7" fill="#000000"/><circle cx="288.98" cy="387.24" r="3.7" fill="#000000"/><circle cx="289.76" cy="387.5" r="3.7" fill="#000000"/><circle cx="290.54" cy="387.65" r="3.7" fill="#000000"/><circle cx="291.32" cy="387.63" r="3.7" fill="#000000"/><circle cx="292.1" cy="386.77" r="3.7" fill="#000000"/><circle cx="292.88" cy="386.84" r="3.7" fill="#000000"/><circle cx="293.67" cy="386.76" r="3.7" fill="#000000"/><circle cx="294.45" cy="386.7" r="3.7" fill="#000000"/><circle cx="295.23" cy="387.59" r="3.7" fill="#000000"/><circle cx="296.01" cy="386.89" r="3.7" fill="#000000"/><circle cx="296.8" cy="387.19" r="3.7" fill="#000000"/><circle cx="297.58" cy="386.59" r="3.7" fill="#000000"/><circle cx="298.36" cy="386.59" r="3.7" fill="#000000"/><circle cx="299.14" cy="386.49" r="3.7" fill="#000000"/><circle cx="299.92" cy="387.58" r="3.7" fill="#000000"/><circle cx="300.71" cy="386.52" r="3.7" fill="#000000"/><circle cx="301.49" cy="386.45" r="3.7" fill="#000000"/><circle cx="302.27" cy="386.41" r="3.7" fill="#000000"/><circle cx="303.05" cy="387.52" r="3.7" fill="#000000"/><circle cx="303.83" cy="387.38" r="3.7" fill="#000000"/><circle cx="304.62" cy="387.51" r="3.7" fill="#000000"/><circle cx="305.4" cy="387.61" r="3.7" fill="#000000"/><circle cx="306.18" cy="386.53" r="3.7" fill="#000000"/><circle cx="306.96" cy="386.57" r="3.7" fill="#000000"/><circle cx="307.74" cy="386.81" r="3.7" fill="#000000"/><circle cx="308.53" cy="386.55" r="3.7" fill="#000000"/><circle cx="309.31" cy="386.81" r="3.7" fill="#000000"/><circle cx="310.09" cy="387.26" r="3.7" fill="#000000"/><circle cx="310.87" cy="387.51" r="3.7" fill="#000000"/><circle cx="311.65" cy="387.51" r="3.7" fill="#000000"/><circle cx="312.44" cy="386.63" r="3.7" fill="#000000"/><circle cx="313.22" cy="387.36" r="3.7" fill="#000000"/><circle cx="314" cy="387.21" r="3.7" fill="#000000"/><circle cx="314.78" cy="387.07" r="3.7" fill="#000000"/><circle cx="315.56" cy="387.6" r="3.7" fill="#000000"/><circle cx="316.35" cy="387.28" r="3.7" fill="#000000"/><circle cx="317.13" cy="387.25" r="3.7" fill="#000000"/><circle cx="317.91" cy="386.67" r="3.7" fill="#000000"/><circle cx="318.69" cy="387.13" r="3.7" fill="#000000"/><circle cx="319.47" cy="387.19" r="3.7" fill="#000000"/><circle cx="320.26" cy="386.34" r="3.7" fill="#000000"/><circle cx="321.04" cy="386.95" r="3.7" fill="#000000"/><circle cx="321.82" cy="386.48" r="3.7" fill="#000000"/><circle cx="322.6" cy="386.79" r="3.7" fill="#000000"/><circle cx="323.38" cy="387.56" r="3.7" fill="#000000"/><circle cx="324.17" cy="387.06" r="3.7" fill="#000000"/><circle cx="324.95" cy="387.02" r="3.7" fill="#000000"/><circle cx="325.73" cy="386.58" r="3.7" fill="#000000"/><circle cx="326.51" cy="387.14" r="3.7" fill="#000000"/><circle cx="327.29" cy="386.66" r="3.7" fill="#000000"/><circle cx="328.08" cy="386.88" r="3.7" fill="#000000"/><circle cx="328.86" cy="387.31" r="3.7" fill="#000000"/><circle cx="329.64" cy="386.45" r="3.7" fill="#000000"/><circle cx="330.42" cy="387.47" r="3.7" fill="#000000"/><circle cx="331.2" cy="386.5" r="3.7" fill="#000000"/><circle cx="331.99" cy="387.36" r="3.7" fill="#000000"/><circle cx="332.77" cy="387.58" r="3.7" fill="#000000"/><circle cx="333.55" cy="387.31" r="3.7" fill="#000000"/><circle cx="334.33" cy="386.57" r="3.7" fill="#000000"/><circle cx="335.11" cy="386.28" r="3.7" fill="#000000"/><circle cx="335.9" cy="387.57" r="3.7" fill="#000000"/><circle cx="336.68" cy="386.92" r="3.7" fill="#000000"/><circle cx="337.46" cy="386.92" r="3.7" fill="#000000"/><circle cx="338.24" cy="386.51" r="3.7" fill="#000000"/><circle cx="339.02" cy="387.32" r="3.7" fill="#000000"/><circle cx="339.81" cy="386.91" r="3.7" fill="#000000"/><circle cx="340.59" cy="387.1" r="3.7" fill="#000000"/><circle cx="341.37" cy="386.46" r="3.7" fill="#000000"/><circle cx="342.15" cy="387.21" r="3.7" fill="#000000"/><circle cx="342.93" cy="386.31" r="3.7" fill="#000000"/><circle cx="343.72" cy="387.18" r="3.7" fill="#000000"/><circle cx="344.5" cy="387.27" r="3.7" fill="#000000"/><circle cx="345.28" cy="386.63" r="3.7" fill="#000000"/><circle cx="346.06" cy="386.89" r="3.7" fill="#000000"/><circle cx="346.84" cy="387.4" r="3.7" fill="#000000"/><circle cx="347.63" cy="386.7" r="3.7" fill="#000000"/><circle cx="348.41" cy="387.44" r="3.7" fill="#000000"/><circle cx="349.19" cy="386.5" r="3.7" fill="#000000"/><circle cx="349.97" cy="386.62" r="3.7" fill="#000000"/><circle cx="350.75" cy="386.5" r="3.7" fill="#000000"/><circle cx="351.54" cy="386.7" r="3.7" fill="#000000"/><circle cx="352.32" cy="387.06" r="3.7" fill="#000000"/><circle cx="353.1" cy="387" r="3.7" fill="#000000"/><circle cx="353.88" cy="387.01" r="3.7" fill="#000000"/><circle cx="354.66" cy="386.35" r="3.7" fill="#000000"/><circle cx="355.45" cy="387.41" r="3.7" fill="#000000"/><circle cx="356.23" cy="386.35" r="3.7" fill="#000000"/><circle cx="357.01" cy="387.49" r="3.7" fill="#000000"/><circle cx="357.79" cy="387.25" r="3.7" fill="#000000"/><circle cx="358.57" cy="387.17" r="3.7" fill="#000000"/><circle cx="359.36" cy="386.32" r="3.7" fill="#000000"/><circle cx="360.14" cy="386.85" r="3.7" fill="#000000"/><circle cx="360.92" cy="387.01" r="3.7" fill="#000000"/><circle cx="361.7" cy="386.34" r="3.7" fill="#000000"/><circle cx="362.48" cy="387.2" r="3.7" fill="#000000"/><circle cx="363.27" cy="386.9" r="3.7" fill="#000000"/><circle cx="364.05" cy="386.8" r="3.7" fill="#000000"/><circle cx="364.83" cy="386.5" r="3.7" fill="#000000"/><circle cx="365.61" cy="386.5" r="3.7" fill="#000000"/><circle cx="366.39" cy="386.64" r="3.7" fill="#000000"/><circle cx="367.18" cy="387.03" r="3.7" fill="#000000"/><circle cx="367.96" cy="387.06" r="3.7" fill="#000000"/><circle cx="368.74" cy="387.29" r="3.7" fill="#000000"/><circle cx="369.52" cy="386.37" r="3.7" fill="#000000"/><circle cx="370.3" cy="386.61" r="3.7" fill="#000000"/><circle cx="371.09" cy="386.5" r="3.7" fill="#000000"/><circle cx="371.87" cy="387.26" r="3.7" fill="#000000"/><circle cx="372.65" cy="386.9" r="3.7" fill="#000000"/><circle cx="373.43" cy="386.46" r="3.7" fill="#000000"/><circle cx="374.21" cy="386.71" r="3.7" fill="#000000"/><circle cx="375" cy="387.31" r="3.7" fill="#000000"/><circle cx="375.78" cy="386.86" r="3.7" fill="#000000"/><circle cx="376.56" cy="386.3" r="3.7" fill="#000000"/><circle cx="377.34" cy="387.15" r="3.7" fill="#000000"/><circle cx="378.12" cy="387.21" r="3.7" fill="#000000"/><circle cx="378.91" cy="387.07" r="3.7" fill="#000000"/><circle cx="379.69" cy="386.53" r="3.7" fill="#000000"/><circle cx="380.47" cy="386.35" r="3.7" fill="#000000"/><circle cx="381.25" cy="387.25" r="3.7" fill="#000000"/><circle cx="382.03" cy="387.25" r="3.7" fill="#000000"/><circle cx="382.82" cy="387.13" r="3.7" fill="#000000"/><circle cx="383.6" cy="387.02" r="3.7" fill="#000000"/><circle cx="384.38" cy="386.76" r="3.7" fill="#000000"/><circle cx="385.16" cy="387.24" r="3.7" fill="#000000"/><circle cx="385.94" cy="387.01" r="3.7" fill="#000000"/><circle cx="386.73" cy="387.19" r="3.7" fill="#000000"/><circle cx="387.51" cy="386.15" r="3.7" fill="#000000"/><circle cx="388.29" cy="386.48" r="3.7" fill="#000000"/><circle cx="389.07" cy="387.3" r="3.7" fill="#000000"/><circle cx="389.85" cy="386.16" r="3.7" fill="#000000"/><circle cx="390.64" cy="387.3" r="3.7" fill="#000000"/><circle cx="391.42" cy="386.93" r="3.7" fill="#000000"/><circle cx="392.2" cy="386.13" r="3.7" fill="#000000"/><circle cx="392.98" cy="386.38" r="3.7" fill="#000000"/><circle cx="393.76" cy="386.46" r="3.7" fill="#000000"/><circle cx="394.55" cy="386.85" r="3.7" fill="#000000"/><circle cx="395.33" cy="387.16" r="3.7" fill="#000000"/><circle cx="396.11" cy="386.58" r="3.7" fill="#000000"/><circle cx="396.89" cy="387.28" r="3.7" fill="#000000"/><circle cx="397.67" cy="387.15" r="3.7" fill="#000000"/><circle cx="398.46" cy="386.91" r="3.7" fill="#000000"/><circle cx="399.24" cy="387.38" r="3.7" fill="#000000"/><circle cx="400.02" cy="386.9" r="3.7" fill="#000000"/><circle cx="400.8" cy="386.39" r="3.7" fill="#000000"/><circle cx="401.58" cy="386.52" r="3.7" fill="#000000"/><circle cx="402.37" cy="386.78" r="3.7" fill="#000000"/><circle cx="403.15" cy="386.61" r="3.7" fill="#000000"/><circle cx="403.93" cy="386.83" r="3.7" fill="#000000"/><circle cx="404.71" cy="387.26" r="3.7" fill="#000000"/><circle cx="405.49" cy="386.65" r="3.7" fill="#000000"/><circle cx="406.28" cy="386.92" r="3.7" fill="#000000"/><circle cx="407.06" cy="386.48" r="3.7" fill="#000000"/><circle cx="407.84" cy="386.26" r="3.7" fill="#000000"/><circle cx="408.62" cy="386.89" r="3.7" fill="#000000"/><circle cx="409.4" cy="386.71" r="3.7" fill="#000000"/><circle cx="410.19" cy="386.48" r="3.7" fill="#000000"/><circle cx="410.97" cy="386.91" r="3.7" fill="#000000"/><circle cx="411.75" cy="387.17" r="3.7" fill="#000000"/><circle cx="412.53" cy="386.52" r="3.7" fill="#000000"/><circle cx="413.31" cy="386.31" r="3.7" fill="#000000"/><circle cx="414.1" cy="386.46" r="3.7" fill="#000000"/><circle cx="414.88" cy="386.56" r="3.7" fill="#000000"/><circle cx="415.66" cy="386.36" r="3.7" fill="#000000"/><circle cx="416.44" cy="386.59" r="3.7" fill="#000000"/><circle cx="417.22" cy="386.64" r="3.7" fill="#000000"/><circle cx="418.01" cy="386.89" r="3.7" fill="#000000"/><circle cx="418.79" cy="387.08" r="3.7" fill="#000000"/><circle cx="419.57" cy="386.67" r="3.7" fill="#000000"/><circle cx="420.35" cy="387.37" r="3.7" fill="#000000"/><circle cx="421.13" cy="386.95" r="3.7" fill="#000000"/><circle cx="421.92" cy="386.47" r="3.7" fill="#000000"/><circle cx="422.7" cy="386.57" r="3.7" fill="#000000"/><circle cx="423.48" cy="386.68" r="3.7" fill="#000000"/><circle cx="424.26" cy="387.18" r="3.7" fill="#000000"/><circle cx="425.04" cy="386.96" r="3.7" fill="#000000"/><circle cx="425.83" cy="386.92" r="3.7" fill="#000000"/><circle cx="426.61" cy="386.7" r="3.7" fill="#000000"/><circle cx="427.39" cy="386.98" r="3.7" fill="#000000"/><circle cx="428.17" cy="386.63" r="3.7" fill="#000000"/><circle cx="428.95" cy="386.3" r="3.7" fill="#000000"/><circle cx="429.74" cy="387.29" r="3.7" fill="#000000"/><circle cx="430.52" cy="386.67" r="3.7" fill="#000000"/><circle cx="431.3" cy="386.51" r="3.7" fill="#000000"/><circle cx="432.08" cy="387.03" r="3.7" fill="#000000"/><circle cx="432.86" cy="386.9" r="3.7" fill="#000000"/><circle cx="433.65" cy="386.26" r="3.7" fill="#000000"/><circle cx="434.43" cy="387.5" r="3.7" fill="#000000"/><circle cx="435.21" cy="386.83" r="3.7" fill="#000000"/><circle cx="435.99" cy="387.35" r="3.7" fill="#000000"/><circle cx="436.77" cy="386.55" r="3.7" fill="#000000"/><circle cx="437.56" cy="386.36" r="3.7" fill="#000000"/><circle cx="438.34" cy="386.93" r="3.7" fill="#000000"/><circle cx="439.12" cy="387.5" r="3.7" fill="#000000"/><circle cx="439.9" cy="386.9" r="3.7" fill="#000000"/><circle cx="440.68" cy="386.96" r="3.7" fill="#000000"/><circle cx="441.47" cy="386.75" r="3.7" fill="#000000"/><circle cx="442.25" cy="387.04" r="3.7" fill="#000000"/><circle cx="443.03" cy="386.89" r="3.7" fill="#000000"/><circle cx="443.81" cy="386.65" r="3.7" fill="#000000"/><circle cx="444.59" cy="387.08" r="3.7" fill="#000000"/><circle cx="445.38" cy="387.25" r="3.7" fill="#000000"/><circle cx="446.16" cy="386.55" r="3.7" fill="#000000"/><circle cx="446.94" cy="387.55" r="3.7" fill="#000000"/><circle cx="447.72" cy="386.94" r="3.7" fill="#000000"/><circle cx="448.5" cy="387.35" r="3.7" fill="#000000"/><circle cx="449.29" cy="386.87" r="3.7" fill="#000000"/><circle cx="450.07" cy="387.74" r="3.7" fill="#000000"/><circle cx="450.85" cy="386.62" r="3.7" fill="#000000"/><circle cx="451.63" cy="387.47" r="3.7" fill="#000000"/><circle cx="452.41" cy="387.88" r="3.7" fill="#000000"/><circle cx="453.2" cy="387.61" r="3.7" fill="#000000"/><circle cx="453.98" cy="387.47" r="3.7" fill="#000000"/><circle cx="454.76" cy="388" r="3.7" fill="#000000"/><circle cx="455.54" cy="387.48" r="3.7" fill="#000000"/><circle cx="456.32" cy="387.5" r="3.7" fill="#000000"/><circle cx="457.11" cy="387.15" r="3.7" fill="#000000"/><circle cx="457.89" cy="387.63" r="3.7" fill="#000000"/><circle cx="458.67" cy="387.76" r="3.7" fill="#000000"/><circle cx="459.45" cy="387.83" r="3.7" fill="#000000"/><circle cx="460.23" cy="387.17" r="3.7" fill="#000000"/><circle cx="461.02" cy="386.92" r="3.7" fill="#000000"/><circle cx="461.8" cy="387.49" r="3.7" fill="#000000"/><circle cx="462.58" cy="387.91" r="3.7" fill="#000000"/><circle cx="463.36" cy="387.16" r="3.7" fill="#000000"/><circle cx="464.14" cy="387.72" r="3.7" fill="#000000"/><circle cx="464.93" cy="387.98" r="3.7" fill="#000000"/><circle cx="465.71" cy="388.11" r="3.7" fill="#000000"/><circle cx="466.49" cy="387.27" r="3.7" fill="#000000"/><circle cx="467.27" cy="387.25" r="3.7" fill="#000000"/><circle cx="468.05" cy="387.5" r="3.7" fill="#000000"/><circle cx="468.84" cy="387.73" r="3.7" fill="#000000"/><circle cx="469.62" cy="387.63" r="3.7" fill="#000000"/><circle cx="470.4" cy="388.09" r="3.7" fill="#000000"/><circle cx="471.18" cy="387.14" r="3.7" fill="#000000"/><circle cx="471.96" cy="387.96" r="3.7" fill="#000000"/><circle cx="472.75" cy="387.6" r="3.7" fill="#000000"/><circle cx="473.53" cy="387.39" r="3.7" fill="#000000"/><circle cx="474.31" cy="387.41" r="3.7" fill="#000000"/><circle cx="475.09" cy="387.89" r="3.7" fill="#000000"/><circle cx="475.87" cy="388.14" r="3.7" fill="#000000"/><circle cx="476.66" cy="387.82" r="3.7" fill="#000000"/><circle cx="477.44" cy="388.4" r="3.7" fill="#000000"/><circle cx="478.22" cy="387.48" r="3.7" fill="#000000"/><circle cx="479" cy="388.13" r="3.7" fill="#000000"/><circle cx="479.78" cy="387.49" r="3.7" fill="#000000"/><circle cx="480.57" cy="388.28" r="3.7" fill="#000000"/><circle cx="481.35" cy="388.16" r="3.7" fill="#000000"/><circle cx="482.13" cy="388.34" r="3.7" fill="#000000"/><circle cx="482.91" cy="388.13" r="3.7" fill="#000000"/><circle cx="483.69" cy="388.47" r="3.7" fill="#000000"/><circle cx="484.48" cy="388.73" r="3.7" fill="#000000"/><circle cx="485.26" cy="387.8" r="3.7" fill="#000000"/><circle cx="486.04" cy="388.4" r="3.7" fill="#000000"/><circle cx="486.82" cy="388.47" r="3.7" fill="#000000"/><circle cx="487.6" cy="388.41" r="3.7" fill="#000000"/><circle cx="488.39" cy="388.19" r="3.7" fill="#000000"/><circle cx="489.17" cy="388.28" r="3.7" fill="#000000"/><circle cx="489.95" cy="388.02" r="3.7" fill="#000000"/><circle cx="490.73" cy="388" r="3.7" fill="#000000"/><circle cx="491.51" cy="388.4" r="3.7" fill="#000000"/><path d="M41.59 413.73L44.99 407.53L48.39 413.73Z" fill="#ff0000"/><path d="M42.37 413.91L45.77 407.71L49.17 413.91Z" fill="#ff0000"/><path d="M43.16 414.29L46.55 408.09L49.95 414.29Z" fill="#ff0000"/><path d="M43.94 414.22L47.34 408.02L50.74 414.22Z" fill="#ff0000"/><path d="M44.72 414.35L48.12 408.15L51.52 414.35Z" fill="#ff0000"/><path d="M45.5 414.54L48.9 408.34L52.3 414.54Z" fill="#ff0000"/><path d="M46.28 414.89L49.68 408.69L53.08 414.89Z" fill="#ff0000"/><path d="M47.07 414.84L50.47 408.64L53.87 414.84Z" fill="#ff0000"/><path d="M47.85 415.05L51.25 408.85L54.65 415.05Z" fill="#ff0000"/><path d="M48.63 415.38L52.03 409.18L55.43 415.38Z" fill="#ff0000"/><path d="M49.41 415.5L52.81 409.3L56.21 415.5Z" fill="#ff0000"/><path d="M50.19 415.29L53.59 409.09L56.99 415.29Z" fill="#ff0000"/><path d="M50.98 415.45L54.38 409.25L57.77 415.45Z" fill="#ff0000"/><path d="M51.76 415.63L55.16 409.43L58.56 415.63Z" fill="#ff0000"/><path d="M52.54 415.74L55.94 409.54L59.34 415.74Z" fill="#ff0000"/><path d="M53.32 415.8L56.72 409.6L60.12 415.8Z" fill="#ff0000"/><path d="M54.1 415.84L57.5 409.64L60.9 415.84Z" fill="#ff0000"/><path d="M54.89 415.75L58.29 409.55L61.69 415.75Z" fill="#ff0000"/><path d="M55.67 415.95L59.07 409.75L62.47 415.95Z" fill="#ff0000"/><path d="M56.45 416.07L59.85 409.87L63.25 416.07Z" fill="#ff0000"/><path d="M57.23 415.92L60.63 409.72L64.03 415.92Z" fill="#ff0000"/><path d="M58.01 416.02L61.41 409.82L64.81 416.02Z" fill="#ff0000"/><path d="M58.8 416.27L62.2 410.07L65.59 416.27Z" fill="#ff0000"/><path d="M59.58 416.13L62.98 409.93L66.38 416.13Z" fill="#ff0000"/><path d="M60.36 416.28L63.76 410.08L67.16 416.28Z" fill="#ff0000"/><path d="M61.14 416.3L64.54 410.1L67.94 416.3Z" fill="#ff0000"/><path d="M61.92 416.4L65.32 410.2L68.72 416.4Z" fill="#ff0000"/><path d="M62.71 416.4L66.11 410.2L69.51 416.4Z" fill="#ff0000"/><path d="M63.49 416.5L66.89 410.3L70.29 416.5Z" fill="#ff0000"/><path d="M64.27 416.55L67.67 410.35L71.07 416.55Z" fill="#ff0000"/><path d="M65.05 416.81L68.45 410.61L71.85 416.81Z" fill="#ff0000"/><path d="M65.83 416.72L69.23 410.52L72.63 416.72Z" fill="#ff0000"/><path d="M66.61 416.83L70.02 410.63L73.42 416.83Z" fill="#ff0000"/><path d="M67.4 416.84L70.8 410.64L74.2 416.84Z" fill="#ff0000"/><path d="M68.18 416.99L71.58 410.79L74.98 416.99Z" fill="#ff0000"/><path d="M68.96 416.92L72.36 410.72L75.76 416.92Z" fill="#ff0000"/><path d="M69.74 417.08L73.14 410.88L76.54 417.08Z" fill="#ff0000"/><path d="M70.53 417.23L73.93 411.03L77.33 417.23Z" fill="#ff0000"/><path d="M71.31 417.3L74.71 411.1L78.11 417.3Z" fill="#ff0000"/><path d="M72.09 417.39L75.49 411.19L78.89 417.39Z" fill="#ff0000"/><path d="M72.87 417.35L76.27 411.15L79.67 417.35Z" fill="#ff0000"/><path d="M73.65 417.54L77.05 411.34L80.45 417.54Z" fill="#ff0000"/><path d="M74.44 417.48L77.84 411.28L81.24 417.48Z" fill="#ff0000"/><path d="M75.22 417.64L78.62 411.44L82.02 417.64Z" fill="#ff0000"/><path d="M76 417.6L79.4 411.4L82.8 417.6Z" fill="#ff0000"/><path d="M76.78 417.66L80.18 411.46L83.58 417.66Z" fill="#ff0000"/><path d="M77.56 417.71L80.96 411.51L84.36 417.71Z" fill="#ff0000"/><path d="M78.34 417.68L81.75 411.48L85.15 417.68Z" fill="#ff0000"/><path d="M79.13 418L82.53 411.8L85.93 418Z" fill="#ff0000"/><path d="M79.91 417.82L83.31 411.62L86.71 417.82Z" fill="#ff0000"/><path d="M80.69 417.99L84.09 411.79L87.49 417.99Z" fill="#ff0000"/><path d="M81.47 418.02L84.87 411.82L88.27 418.02Z" fill="#ff0000"/><path d="M82.25 418.06L85.66 411.86L89.06 418.06Z" fill="#ff0000"/><path d="M83.04 418.07L86.44 411.87L89.84 418.07Z" fill="#ff0000"/><path d="M83.82 418.27L87.22 412.07L90.62 418.27Z" fill="#ff0000"/><path d="M84.6 418.32L88 412.12L91.4 418.32Z" fill="#ff0000"/><path d="M85.38 418.22L88.78 412.02L92.18 418.22Z" fill="#ff0000"/><path d="M86.16 418.54L89.56 412.34L92.97 418.54Z" fill="#ff0000"/><path d="M86.95 418.44L90.35 412.24L93.75 418.44Z" fill="#ff0000"/><path d="M87.73 418.5L91.13 412.3L94.53 418.5Z" fill="#ff0000"/><path d="M88.51 418.75L91.91 412.55L95.31 418.75Z" fill="#ff0000"/><path d="M89.29 418.64L92.69 412.44L96.09 418.64Z" fill="#ff0000"/><path d="M90.07 418.68L93.47 412.48L96.88 418.68Z" fill="#ff0000"/><path d="M90.86 418.67L94.26 412.47L97.66 418.67Z" fill="#ff0000"/><path d="M91.64 418.91L95.04 412.71L98.44 418.91Z" fill="#ff0000"/><path d="M92.42 418.78L95.82 412.58L99.22 418.78Z" fill="#ff0000"/><path d="M93.2 418.98L96.6 412.78L100 418.98Z" fill="#ff0000"/><path d="M93.98 419.05L97.39 412.85L100.79 419.05Z" fill="#ff0000"/><path d="M94.77 419L98.17 412.8L101.57 419Z" fill="#ff0000"/><path d="M95.55 419.31L98.95 413.11L102.35 419.31Z" fill="#ff0000"/><path d="M96.33 419.17L99.73 412.97L103.13 419.17Z" fill="#ff0000"/><path d="M97.11 419.26L100.51 413.06L103.91 419.26Z" fill="#ff0000"/><path d="M97.89 419.41L101.3 413.21L104.7 419.41Z" fill="#ff0000"/><path d="M98.68 419.32L102.08 413.12L105.48 419.32Z" fill="#ff0000"/><path d="M99.46 419.53L102.86 413.33L106.26 419.53Z" fill="#ff0000"/><path d="M100.24 419.56L103.64 413.36L107.04 419.56Z" fill="#ff0000"/><path d="M101.02 419.61L104.42 413.41L107.82 419.61Z" fill="#ff0000"/><path d="M101.81 419.6L105.21 413.4L108.61 419.6Z" fill="#ff0000"/><path d="M102.59 419.83L105.99 413.63L109.39 419.83Z" fill="#ff0000"/><path d="M103.37 419.82L106.77 413.62L110.17 419.82Z" fill="#ff0000"/><path d="M104.15 419.89L107.55 413.69L110.95 419.89Z" fill="#ff0000"/><path d="M104.93 419.91L108.33 413.71L111.73 419.91Z" fill="#ff0000"/><path d="M105.72 419.9L109.12 413.7L112.52 419.9Z" fill="#ff0000"/><path d="M106.5 420.12L109.9 413.92L113.3 420.12Z" fill="#ff0000"/><path d="M107.28 420.02L110.68 413.82L114.08 420.02Z" fill="#ff0000"/><path d="M108.06 420.21L111.46 414.01L114.86 420.21Z" fill="#ff0000"/><path d="M108.84 420.24L112.24 414.04L115.64 420.24Z" fill="#ff0000"/><path d="M109.62 420.38L113.03 414.18L116.43 420.38Z" fill="#ff0000"/><path d="M110.41 420.37L113.81 414.17L117.21 420.37Z" fill="#ff0000"/><path d="M111.19 420.3L114.59 414.1L117.99 420.3Z" fill="#ff0000"/><path d="M111.97 420.45L115.37 414.25L118.77 420.45Z" fill="#ff0000"/><path d="M112.75 420.48L116.15 414.28L119.55 420.48Z" fill="#ff0000"/><path d="M113.53 420.67L116.94 414.47L120.34 420.67Z" fill="#ff0000"/><path d="M114.32 420.74L117.72 414.54L121.12 420.74Z" fill="#ff0000"/><path d="M115.1 420.81L118.5 414.61L121.9 420.81Z" fill="#ff0000"/><path d="M115.88 420.79L119.28 414.59L122.68 420.79Z" fill="#ff0000"/><path d="M116.66 420.84L120.06 414.64L123.46 420.84Z" fill="#ff0000"/><path d="M117.44 420.86L120.84 414.66L124.25 420.86Z" fill="#ff0000"/><path d="M118.23 421.14L121.63 414.94L125.03 421.14Z" fill="#ff0000"/><path d="M119.01 421L122.41 414.8L125.81 421Z" fill="#ff0000"/><path d="M119.79 421.01L123.19 414.81L126.59 421.01Z" fill="#ff0000"/><path d="M120.57 421.18L123.97 414.98L127.37 421.18Z" fill="#ff0000"/><path d="M121.35 421.39L124.75 415.19L128.16 421.39Z" fill="#ff0000"/><path d="M122.14 421.38L125.54 415.18L128.94 421.38Z" fill="#ff0000"/><path d="M122.92 421.52L126.32 415.32L129.72 421.52Z" fill="#ff0000"/><path d="M123.7 421.53L127.1 415.33L130.5 421.53Z" fill="#ff0000"/><path d="M124.48 421.38L127.88 415.18L131.28 421.38Z" fill="#ff0000"/><path d="M125.26 421.54L128.66 415.34L132.06 421.54Z" fill="#ff0000"/><path d="M126.05 421.59L129.45 415.39L132.85 421.59Z" fill="#ff0000"/><path d="M126.83 421.61L130.23 415.41L133.63 421.61Z" fill="#ff0000"/><path d="M127.61 421.64L131.01 415.44L134.41 421.64Z" fill="#ff0000"/><path d="M128.39 421.79L131.79 415.59L135.19 421.79Z" fill="#ff0000"/><path d="M129.18 421.85L132.58 415.65L135.98 421.85Z" fill="#ff0000"/><path d="M129.96 421.91L133.36 415.71L136.76 421.91Z" fill="#ff0000"/><path d="M130.74 421.95L134.14 415.75L137.54 421.95Z" fill="#ff0000"/><path d="M131.52 422.04L134.92 415.84L138.32 422.04Z" fill="#ff0000"/><path d="M132.3 422.08L135.7 415.88L139.1 422.08Z" fill="#ff0000"/><path d="M133.09 422.28L136.49 416.08L139.89 422.28Z" fill="#ff0000"/><path d="M133.87 422.21L137.27 416.01L140.67 422.21Z" fill="#ff0000"/><path d="M134.65 422.34L138.05 416.14L141.45 422.34Z" fill="#ff0000"/><path d="M135.43 422.31L138.83 416.11L142.23 422.31Z" fill="#ff0000"/><path d="M136.21 422.57L139.61 416.37L143.01 422.57Z" fill="#ff0000"/><path d="M137 422.61L140.4 416.41L143.8 422.61Z" fill="#ff0000"/><path d="M137.78 422.71L141.18 416.51L144.58 422.71Z" fill="#ff0000"/><path d="M138.56 422.56L141.96 416.36L145.36 422.56Z" fill="#ff0000"/><path d="M139.34 422.58L142.74 416.38L146.14 422.58Z" fill="#ff0000"/><path d="M140.12 422.72L143.52 416.52L146.92 422.72Z" fill="#ff0000"/><path d="M140.91 422.87L144.31 416.67L147.71 422.87Z" fill="#ff0000"/><path d="M141.69 422.8L145.09 416.6L148.49 422.8Z" fill="#ff0000"/><path d="M142.47 422.87L145.87 416.67L149.27 422.87Z" fill="#ff0000"/><path d="M143.25 423L146.65 416.8L150.05 423Z" fill="#ff0000"/><path d="M144.03 423.15L147.43 416.95L150.83 423.15Z" fill="#ff0000"/><path d="M144.81 423.2L148.22 417L151.62 423.2Z" fill="#ff0000"/><path d="M145.6 423.23L149 417.03L152.4 423.23Z" fill="#ff0000"/><path d="M146.38 423.32L149.78 417.12L153.18 423.32Z" fill="#ff0000"/><path d="M147.16 423.35L150.56 417.15L153.96 423.35Z" fill="#ff0000"/><path d="M147.94 423.35L151.34 417.15L154.74 423.35Z" fill="#ff0000"/><path d="M148.72 423.33L152.12 417.13L155.53 423.33Z" fill="#ff0000"/><path d="M149.51 423.65L152.91 417.45L156.31 423.65Z" fill="#ff0000"/><path d="M150.29 423.56L153.69 417.36L157.09 423.56Z" fill="#ff0000"/><path d="M151.07 423.78L154.47 417.58L157.87 423.78Z" fill="#ff0000"/><path d="M151.85 423.82L155.25 417.62L158.65 423.82Z" fill="#ff0000"/><path d="M152.63 423.68L156.03 417.48L159.44 423.68Z" fill="#ff0000"/><path d="M153.42 423.81L156.82 417.61L160.22 423.81Z" fill="#ff0000"/><path d="M154.2 423.78L157.6 417.58L161 423.78Z" fill="#ff0000"/><path d="M154.98 423.98L158.38 417.78L161.78 423.98Z" fill="#ff0000"/><path d="M155.76 424.17L159.16 417.97L162.56 424.17Z" fill="#ff0000"/><path d="M156.54 424.12L159.94 417.92L163.34 424.12Z" fill="#ff0000"/><path d="M157.33 424.12L160.73 417.92L164.13 424.12Z" fill="#ff0000"/><path d="M158.11 424.09L161.51 417.89L164.91 424.09Z" fill="#ff0000"/><path d="M158.89 424.14L162.29 417.94L165.69 424.14Z" fill="#ff0000"/><path d="M159.67 424.35L163.07 418.15L166.47 424.35Z" fill="#ff0000"/><path d="M160.46 424.43L163.86 418.23L167.26 424.43Z" fill="#ff0000"/><path d="M161.24 424.58L164.64 418.38L168.04 424.58Z" fill="#ff0000"/><path d="M162.02 424.49L165.42 418.29L168.82 424.49Z" fill="#ff0000"/><path d="M162.8 424.68L166.2 418.48L169.6 424.68Z" fill="#ff0000"/><path d="M163.58 424.76L166.98 418.56L170.38 424.76Z" fill="#ff0000"/><path d="M164.37 424.86L167.77 418.66L171.17 424.86Z" fill="#ff0000"/><path d="M165.15 424.93L168.55 418.73L171.95 424.93Z" fill="#ff0000"/><path d="M165.93 424.79L169.33 418.59L172.73 424.79Z" fill="#ff0000"/><path d="M166.71 425.02L170.11 418.82L173.51 425.02Z" fill="#ff0000"/><path d="M167.49 424.83L170.89 418.63L174.29 424.83Z" fill="#ff0000"/><path d="M168.28 425.15L171.68 418.95L175.08 425.15Z" fill="#ff0000"/><path d="M169.06 424.99L172.46 418.79L175.86 424.99Z" fill="#ff0000"/><path d="M169.84 425.27L173.24 419.07L176.64 425.27Z" fill="#ff0000"/><path d="M170.62 425.36L174.02 419.16L177.42 425.36Z" fill="#ff0000"/><path d="M171.4 425.22L174.8 419.02L178.2 425.22Z" fill="#ff0000"/><path d="M172.19 425.42L175.59 419.22L178.99 425.42Z" fill="#ff0000"/><path d="M172.97 425.34L176.37 419.14L179.77 425.34Z" fill="#ff0000"/><path d="M173.75 425.57L177.15 419.37L180.55 425.57Z" fill="#ff0000"/><path d="M174.53 425.67L177.93 419.47L181.33 425.67Z" fill="#ff0000"/><path d="M175.31 425.52L178.71 419.32L182.11 425.52Z" fill="#ff0000"/><path d="M176.09 425.6L179.5 419.4L182.9 425.6Z" fill="#ff0000"/><path d="M176.88 425.62L180.28 419.42L183.68 425.62Z" fill="#ff0000"/><path d="M177.66 425.72L181.06 419.52L184.46 425.72Z" fill="#ff0000"/><path d="M178.44 425.97L181.84 419.77L185.24 425.97Z" fill="#ff0000"/><path d="M179.22 425.88L182.62 419.68L186.02 425.88Z" fill="#ff0000"/><path d="M180 425.92L183.41 419.72L186.81 425.92Z" fill="#ff0000"/><path d="M180.79 426.05L184.19 419.85L187.59 426.05Z" fill="#ff0000"/><path d="M181.57 425.98L184.97 419.78L188.37 425.98Z" fill="#ff0000"/><path d="M182.35 426.24L185.75 420.04L189.15 426.24Z" fill="#ff0000"/><path d="M183.13 426.09L186.53 419.89L189.93 426.09Z" fill="#ff0000"/><path d="M183.91 426.23L187.31 420.03L190.72 426.23Z" fill="#ff0000"/><path d="M184.7 426.5L188.1 420.3L191.5 426.5Z" fill="#ff0000"/><path d="M185.48 426.56L188.88 420.36L192.28 426.56Z" fill="#ff0000"/><path d="M186.26 426.44L189.66 420.24L193.06 426.44Z" fill="#ff0000"/><path d="M187.04 426.45L190.44 420.25L193.84 426.45Z" fill="#ff0000"/><path d="M187.82 426.73L191.22 420.53L194.62 426.73Z" fill="#ff0000"/><path d="M188.61 426.73L192.01 420.53L195.41 426.73Z" fill="#ff0000"/><path d="M189.39 426.67L192.79 420.47L196.19 426.67Z" fill="#ff0000"/><path d="M190.17 426.9L193.57 420.7L196.97 426.9Z" fill="#ff0000"/><path d="M190.95 426.75L194.35 420.55L197.75 426.75Z" fill="#ff0000"/><path d="M191.73 426.93L195.13 420.73L198.53 426.93Z" fill="#ff0000"/><path d="M192.52 427.12L195.92 420.92L199.32 427.12Z" fill="#ff0000"/><path d="M193.3 427.09L196.7 420.89L200.1 427.09Z" fill="#ff0000"/><path d="M194.08 427.09L197.48 420.89L200.88 427.09Z" fill="#ff0000"/><path d="M194.86 427.19L198.26 420.99L201.66 427.19Z" fill="#ff0000"/><path d="M195.64 427.19L199.04 420.99L202.44 427.19Z" fill="#ff0000"/><path d="M196.43 427.41L199.83 421.21L203.23 427.41Z" fill="#ff0000"/><path d="M197.21 427.28L200.61 421.08L204.01 427.28Z" fill="#ff0000"/><path d="M197.99 427.47L201.39 421.27L204.79 427.47Z" fill="#ff0000"/><path d="M198.77 427.45L202.17 421.25L205.57 427.45Z" fill="#ff0000"/><path d="M199.56 427.52L202.96 421.32L206.36 427.52Z" fill="#ff0000"/><path d="M200.34 427.64L203.74 421.44L207.14 427.64Z" fill="#ff0000"/><path d="M201.12 427.71L204.52 421.51L207.92 427.71Z" fill="#ff0000"/><path d="M201.9 427.66L205.3 421.46L208.7 427.66Z" fill="#ff0000"/><path d="M202.68 427.67L206.08 421.47L209.48 427.67Z" fill="#ff0000"/><path d="M203.47 427.78L206.87 421.58L210.27 427.78Z" fill="#ff0000"/><path d="M204.25 427.91L207.65 421.71L211.05 427.91Z" fill="#ff0000"/><path d="M205.03 428.06L208.43 421.86L211.83 428.06Z" fill="#ff0000"/><path d="M205.81 428.19L209.21 421.99L212.61 428.19Z" fill="#ff0000"/><path d="M206.59 427.98L209.99 421.78L213.39 427.98Z" fill="#ff0000"/><path d="M207.38 428.12L210.78 421.92L214.18 428.12Z" fill="#ff0000"/><path d="M208.16 428.15L211.56 421.95L214.96 428.15Z" fill="#ff0000"/><path d="M208.94 428.36L212.34 422.16L215.74 428.36Z" fill="#ff0000"/><path d="M209.72 428.34L213.12 422.14L216.52 428.34Z" fill="#ff0000"/><path d="M210.5 428.3L213.9 422.1L217.3 428.3Z" fill="#ff0000"/><path d="M211.28 428.4L214.69 422.2L218.09 428.4Z" fill="#ff0000"/><path d="M212.07 428.53L215.47 422.33L218.87 428.53Z" fill="#ff0000"/><path d="M212.85 428.68L216.25 422.48L219.65 428.68Z" fill="#ff0000"/><path d="M213.63 428.71L217.03 422.51L220.43 428.71Z" fill="#ff0000"/><path d="M214.41 428.64L217.81 422.44L221.21 428.64Z" fill="#ff0000"/><path d="M215.19 428.85L218.59 422.65L222 428.85Z" fill="#ff0000"/><path d="M215.98 428.82L219.38 422.62L222.78 428.82Z" fill="#ff0000"/><path d="M216.76 428.91L220.16 422.71L223.56 428.91Z" fill="#ff0000"/><path d="M217.54 428.89L220.94 422.69L224.34 428.89Z" fill="#ff0000"/><path d="M218.32 428.98L221.72 422.78L225.12 428.98Z" fill="#ff0000"/><path d="M219.1 429.19L222.5 422.99L225.91 429.19Z" fill="#ff0000"/><path d="M219.89 429.34L223.29 423.14L226.69 429.34Z" fill="#ff0000"/><path d="M220.67 429.32L224.07 423.12L227.47 429.32Z" fill="#ff0000"/><path d="M221.45 429.34L224.85 423.14L228.25 429.34Z" fill="#ff0000"/><path d="M222.23 429.35L225.63 423.15L229.03 429.35Z" fill="#ff0000"/><path d="M223.01 429.35L226.41 423.15L229.81 429.35Z" fill="#ff0000"/><path d="M223.8 429.39L227.2 423.19L230.6 429.39Z" fill="#ff0000"/><path d="M224.58 429.7L227.98 423.5L231.38 429.7Z" fill="#ff0000"/><path d="M225.36 429.53L228.76 423.33L232.16 429.53Z" fill="#ff0000"/><path d="M226.14 429.6L229.54 423.4L232.94 429.6Z" fill="#ff0000"/><path d="M226.92 429.65L230.32 423.45L233.72 429.65Z" fill="#ff0000"/><path d="M227.71 429.8L231.11 423.6L234.51 429.8Z" fill="#ff0000"/><path d="M228.49 429.95L231.89 423.75L235.29 429.95Z" fill="#ff0000"/><path d="M229.27 429.84L232.67 423.64L236.07 429.84Z" fill="#ff0000"/><path d="M230.05 429.92L233.45 423.72L236.85 429.92Z" fill="#ff0000"/><path d="M230.84 430.02L234.24 423.82L237.64 430.02Z" fill="#ff0000"/><path d="M231.62 430.01L235.02 423.81L238.42 430.01Z" fill="#ff0000"/><path d="M232.4 430.24L235.8 424.04L239.2 430.24Z" fill="#ff0000"/><path d="M233.18 430.38L236.58 424.18L239.98 430.38Z" fill="#ff0000"/><path d="M233.96 430.31L237.36 424.11L240.76 430.31Z" fill="#ff0000"/><path d="M234.75 430.3L238.15 424.1L241.55 430.3Z" fill="#ff0000"/><path d="M235.53 430.54L238.93 424.34L242.33 430.54Z" fill="#ff0000"/><path d="M236.31 430.44L239.71 424.24L243.11 430.44Z" fill="#ff0000"/><path d="M237.09 430.45L240.49 424.25L243.89 430.45Z" fill="#ff0000"/><path d="M237.87 430.72L241.27 424.52L244.67 430.72Z" fill="#ff0000"/><path d="M238.66 430.67L242.06 424.47L245.46 430.67Z" fill="#ff0000"/><path d="M239.44 430.71L242.84 424.51L246.24 430.71Z" fill="#ff0000"/><path d="M240.22 430.83L243.62 424.63L247.02 430.83Z" fill="#ff0000"/><path d="M241 430.97L244.4 424.77L247.8 430.97Z" fill="#ff0000"/><path d="M241.78 431.01L245.18 424.81L248.58 431.01Z" fill="#ff0000"/><path d="M242.56 430.93L245.97 424.73L249.37 430.93Z" fill="#ff0000"/><path d="M243.35 430.98L246.75 424.78L250.15 430.98Z" fill="#ff0000"/><path d="M244.13 431.14L247.53 424.94L250.93 431.14Z" fill="#ff0000"/><path d="M244.91 431.31L248.31 425.11L251.71 431.31Z" fill="#ff0000"/><path d="M245.69 431.16L249.09 424.96L252.49 431.16Z" fill="#ff0000"/><path d="M246.47 431.23L249.88 425.03L253.28 431.23Z" fill="#ff0000"/><path d="M247.26 431.45L250.66 425.25L254.06 431.45Z" fill="#ff0000"/><path d="M248.04 431.41L251.44 425.21L254.84 431.41Z" fill="#ff0000"/><path d="M248.82 431.38L252.22 425.18L255.62 431.38Z" fill="#ff0000"/><path d="M249.6 431.44L253 425.24L256.4 431.44Z" fill="#ff0000"/><path d="M250.38 431.61L253.78 425.41L257.19 431.61Z" fill="#ff0000"/><path d="M251.17 431.68L254.57 425.48L257.97 431.68Z" fill="#ff0000"/><path d="M251.95 431.71L255.35 425.51L258.75 431.71Z" fill="#ff0000"/><path d="M252.73 431.89L256.13 425.69L259.53 431.89Z" fill="#ff0000"/><path d="M253.51 431.95L256.91 425.75L260.31 431.95Z" fill="#ff0000"/><path d="M254.29 432.01L257.69 425.81L261.09 432.01Z" fill="#ff0000"/><path d="M255.08 431.92L258.48 425.72L261.88 431.92Z" fill="#ff0000"/><path d="M255.86 432.08L259.26 425.88L262.66 432.08Z" fill="#ff0000"/><path d="M256.64 432.08L260.04 425.88L263.44 432.08Z" fill="#ff0000"/><path d="M257.42 432.19L260.82 425.99L264.22 432.19Z" fill="#ff0000"/><path d="M258.21 432.22L261.61 426.02L265 432.22Z" fill="#ff0000"/><path d="M258.99 432.39L262.39 426.19L265.79 432.39Z" fill="#ff0000"/><path d="M259.77 432.48L263.17 426.28L266.57 432.48Z" fill="#ff0000"/><path d="M260.55 432.26L263.95 426.06L267.35 432.26Z" fill="#ff0000"/><path d="M261.33 432.51L264.73 426.31L268.13 432.51Z" fill="#ff0000"/><path d="M262.12 432.64L265.52 426.44L268.92 432.64Z" fill="#ff0000"/><path d="M262.9 432.55L266.3 426.35L269.7 432.55Z" fill="#ff0000"/><path d="M263.68 432.57L267.08 426.37L270.48 432.57Z" fill="#ff0000"/><path d="M264.46 432.81L267.86 426.61L271.26 432.81Z" fill="#ff0000"/><path d="M265.24 432.75L268.64 426.55L272.04 432.75Z" fill="#ff0000"/><path d="M266.03 432.88L269.43 426.68L272.82 432.88Z" fill="#ff0000"/><path d="M266.81 432.89L270.21 426.69L273.61 432.89Z" fill="#ff0000"/><path d="M267.59 433.1L270.99 426.9L274.39 433.1Z" fill="#ff0000"/><path d="M268.37 433.15L271.77 426.95L275.17 433.15Z" fill="#ff0000"/><path d="M269.15 432.94L272.55 426.74L275.95 432.94Z" fill="#ff0000"/><path d="M269.94 433.03L273.34 426.83L276.74 433.03Z" fill="#ff0000"/><path d="M270.72 433.2L274.12 427L277.52 433.2Z" fill="#ff0000"/><path d="M271.5 433.24L274.9 427.04L278.3 433.24Z" fill="#ff0000"/><path d="M272.28 433.39L275.68 427.19L279.08 433.39Z" fill="#ff0000"/><path d="M273.06 433.3L276.46 427.1L279.86 433.3Z" fill="#ff0000"/><path d="M273.85 433.47L277.25 427.27L280.64 433.47Z" fill="#ff0000"/><path d="M274.63 433.38L278.03 427.18L281.43 433.38Z" fill="#ff0000"/><path d="M275.41 433.49L278.81 427.29L282.21 433.49Z" fill="#ff0000"/><path d="M276.19 433.53L279.59 427.33L282.99 433.53Z" fill="#ff0000"/><path d="M276.97 433.55L280.37 427.35L283.77 433.55Z" fill="#ff0000"/><path d="M277.76 433.82L281.16 427.62L284.56 433.82Z" fill="#ff0000"/><path d="M278.54 433.95L281.94 427.75L285.34 433.95Z" fill="#ff0000"/><path d="M279.32 433.96L282.72 427.76L286.12 433.96Z" fill="#ff0000"/><path d="M280.1 434.03L283.5 427.83L286.9 434.03Z" fill="#ff0000"/><path d="M280.88 434.12L284.28 427.92L287.68 434.12Z" fill="#ff0000"/><path d="M281.67 434.19L285.06 427.99L288.46 434.19Z" fill="#ff0000"/><path d="M282.45 434.1L285.85 427.9L289.25 434.1Z" fill="#ff0000"/><path d="M283.23 434.07L286.63 427.87L290.03 434.07Z" fill="#ff0000"/><path d="M284.01 434.25L287.41 428.05L290.81 434.25Z" fill="#ff0000"/><path d="M284.79 434.17L288.19 427.97L291.59 434.17Z" fill="#ff0000"/><path d="M285.58 434.24L288.98 428.04L292.38 434.24Z" fill="#ff0000"/><path d="M286.36 434.55L289.76 428.35L293.16 434.55Z" fill="#ff0000"/><path d="M287.14 434.45L290.54 428.25L293.94 434.45Z" fill="#ff0000"/><path d="M287.92 434.57L291.32 428.37L294.72 434.57Z" fill="#ff0000"/><path d="M288.7 434.72L292.1 428.52L295.5 434.72Z" fill="#ff0000"/><path d="M289.49 434.53L292.88 428.33L296.28 434.53Z" fill="#ff0000"/><path d="M290.27 434.8L293.67 428.6L297.07 434.8Z" fill="#ff0000"/><path d="M291.05 434.77L294.45 428.57L297.85 434.77Z" fill="#ff0000"/><path d="M291.83 434.81L295.23 428.61L298.63 434.81Z" fill="#ff0000"/><path d="M292.61 434.78L296.01 428.58L299.41 434.78Z" fill="#ff0000"/><path d="M293.4 434.92L296.8 428.72L300.19 434.92Z" fill="#ff0000"/><path d="M294.18 435.06L297.58 428.86L300.98 435.06Z" fill="#ff0000"/><path d="M294.96 435.11L298.36 428.91L301.76 435.11Z" fill="#ff0000"/><path d="M295.74 435.25L299.14 429.05L302.54 435.25Z" fill="#ff0000"/><path d="M296.52 435.08L299.92 428.88L303.32 435.08Z" fill="#ff0000"/><path d="M297.31 435.13L300.71 428.93L304.11 435.13Z" fill="#ff0000"/><path d="M298.09 435.42L301.49 429.22L304.89 435.42Z" fill="#ff0000"/><path d="M298.87 435.53L302.27 429.33L305.67 435.53Z" fill="#ff0000"/><path d="M299.65 435.53L303.05 429.33L306.45 435.53Z" fill="#ff0000"/><path d="M300.43 435.56L303.83 429.36L307.23 435.56Z" fill="#ff0000"/><path d="M301.22 435.46L304.62 429.26L308.01 435.46Z" fill="#ff0000"/><path d="M302 435.52L305.4 429.32L308.8 435.52Z" fill="#ff0000"/><path d="M302.78 435.6L306.18 429.4L309.58 435.6Z" fill="#ff0000"/><path d="M303.56 435.9L306.96 429.7L310.36 435.9Z" fill="#ff0000"/><path d="M304.34 435.74L307.74 429.54L311.14 435.74Z" fill="#ff0000"/><path d="M305.13 435.83L308.53 429.63L311.93 435.83Z" fill="#ff0000"/><path d="M305.91 435.9L309.31 429.7L312.71 435.9Z" fill="#ff0000"/><path d="M306.69 435.87L310.09 429.67L313.49 435.87Z" fill="#ff0000"/><path d="M307.47 436.2L310.87 430L314.27 436.2Z" fill="#ff0000"/><path d="M308.25 436.23L311.65 430.03L315.05 436.23Z" fill="#ff0000"/><path d="M309.04 436.12L312.44 429.92L315.84 436.12Z" fill="#ff0000"/><path d="M309.82 436.12L313.22 429.92L316.62 436.12Z" fill="#ff0000"/><path d="M310.6 436.26L314 430.06L317.4 436.26Z" fill="#ff0000"/><path d="M311.38 436.43L314.78 430.23L318.18 436.43Z" fill="#ff0000"/><path d="M312.16 436.41L315.56 430.21L318.96 436.41Z" fill="#ff0000"/><path d="M312.95 436.42L316.35 430.22L319.75 436.42Z" fill="#ff0000"/><path d="M313.73 436.67L317.13 430.47L320.53 436.67Z" fill="#ff0000"/><path d="M314.51 436.67L317.91 430.47L321.31 436.67Z" fill="#ff0000"/><path d="M315.29 436.75L318.69 430.55L322.09 436.75Z" fill="#ff0000"/><path d="M316.07 436.85L319.47 430.65L322.87 436.85Z" fill="#ff0000"/><path d="M316.86 436.81L320.26 430.61L323.66 436.81Z" fill="#ff0000"/><path d="M317.64 436.96L321.04 430.76L324.44 436.96Z" fill="#ff0000"/><path d="M318.42 437L321.82 430.8L325.22 437Z" fill="#ff0000"/><path d="M319.2 437.09L322.6 430.89L326 437.09Z" fill="#ff0000"/><path d="M319.98 436.99L323.38 430.79L326.78 436.99Z" fill="#ff0000"/><path d="M320.77 437.25L324.17 431.05L327.56 437.25Z" fill="#ff0000"/><path d="M321.55 437.1L324.95 430.9L328.35 437.1Z" fill="#ff0000"/><path d="M322.33 437.32L325.73 431.12L329.13 437.32Z" fill="#ff0000"/><path d="M323.11 437.43L326.51 431.23L329.91 437.43Z" fill="#ff0000"/><path d="M323.89 437.23L327.29 431.03L330.69 437.23Z" fill="#ff0000"/><path d="M324.68 437.49L328.08 431.29L331.48 437.49Z" fill="#ff0000"/><path d="M325.46 437.35L328.86 431.15L332.26 437.35Z" fill="#ff0000"/><path d="M326.24 437.43L329.64 431.23L333.04 437.43Z" fill="#ff0000"/><path d="M327.02 437.48L330.42 431.28L333.82 437.48Z" fill="#ff0000"/><path d="M327.8 437.76L331.2 431.56L334.6 437.76Z" fill="#ff0000"/><path d="M328.59 437.73L331.99 431.53L335.38 437.73Z" fill="#ff0000"/><path d="M329.37 437.9L332.77 431.7L336.17 437.9Z" fill="#ff0000"/><path d="M330.15 437.71L333.55 431.51L336.95 437.71Z" fill="#ff0000"/><path d="M330.93 437.8L334.33 431.6L337.73 437.8Z" fill="#ff0000"/><path d="M331.71 437.92L335.11 431.72L338.51 437.92Z" fill="#ff0000"/><path d="M332.5 438.04L335.9 431.84L339.3 438.04Z" fill="#ff0000"/><path d="M333.28 438.13L336.68 431.93L340.08 438.13Z" fill="#ff0000"/><path d="M334.06 438.05L337.46 431.85L340.86 438.05Z" fill="#ff0000"/><path d="M334.84 438.21L338.24 432.01L341.64 438.21Z" fill="#ff0000"/><path d="M335.62 438.23L339.02 432.03L342.42 438.23Z" fill="#ff0000"/><path d="M336.41 438.43L339.81 432.23L343.2 438.43Z" fill="#ff0000"/><path d="M337.19 438.47L340.59 432.27L343.99 438.47Z" fill="#ff0000"/><path d="M337.97 438.58L341.37 432.38L344.77 438.58Z" fill="#ff0000"/><path d="M338.75 438.45L342.15 432.25L345.55 438.45Z" fill="#ff0000"/><path d="M339.53 438.56L342.93 432.36L346.33 438.56Z" fill="#ff0000"/><path d="M340.32 438.74L343.72 432.54L347.12 438.74Z" fill="#ff0000"/><path d="M341.1 438.59L344.5 432.39L347.9 438.59Z" fill="#ff0000"/><path d="M341.88 438.82L345.28 432.62L348.68 438.82Z" fill="#ff0000"/><path d="M342.66 438.84L346.06 432.64L349.46 438.84Z" fill="#ff0000"/><path d="M343.44 438.98L346.84 432.78L350.24 438.98Z" fill="#ff0000"/><path d="M344.23 439.01L347.63 432.81L351.03 439.01Z" fill="#ff0000"/><path d="M345.01 438.9L348.41 432.7L351.81 438.9Z" fill="#ff0000"/><path d="M345.79 439.11L349.19 432.91L352.59 439.11Z" fill="#ff0000"/><path d="M346.57 439.22L349.97 433.02L353.37 439.22Z" fill="#ff0000"/><path d="M347.35 439.19L350.75 432.99L354.15 439.19Z" fill="#ff0000"/><path d="M348.14 439.3L351.54 433.1L354.94 439.3Z" fill="#ff0000"/><path d="M348.92 439.19L352.32 432.99L355.72 439.19Z" fill="#ff0000"/><path d="M349.7 439.48L353.1 433.28L356.5 439.48Z" fill="#ff0000"/><path d="M350.48 439.29L353.88 433.09L357.28 439.29Z" fill="#ff0000"/><path d="M351.26 439.62L354.66 433.42L358.06 439.62Z" fill="#ff0000"/><path d="M352.05 439.43L355.45 433.23L358.85 439.43Z" fill="#ff0000"/><path d="M352.83 439.56L356.23 433.36L359.63 439.56Z" fill="#ff0000"/><path d="M353.61 439.76L357.01 433.56L360.41 439.76Z" fill="#ff0000"/><path d="M354.39 439.74L357.79 433.54L361.19 439.74Z" fill="#ff0000"/><path d="M355.17 439.86L358.57 433.66L361.97 439.86Z" fill="#ff0000"/><path d="M355.96 439.93L359.36 433.73L362.75 439.93Z" fill="#ff0000"/><path d="M356.74 440L360.14 433.8L363.54 440Z" fill="#ff0000"/><path d="M357.52 440.02L360.92 433.82L364.32 440.02Z" fill="#ff0000"/><path d="M358.3 439.89L361.7 433.69L365.1 439.89Z" fill="#ff0000"/><path d="M359.08 439.95L362.48 433.75L365.88 439.95Z" fill="#ff0000"/><path d="M359.87 440.04L363.27 433.84L366.67 440.04Z" fill="#ff0000"/><path d="M360.65 440.34L364.05 434.14L367.45 440.34Z" fill="#ff0000"/><path d="M361.43 440.35L364.83 434.15L368.23 440.35Z" fill="#ff0000"/><path d="M362.21 440.23L365.61 434.03L369.01 440.23Z" fill="#ff0000"/><path d="M362.99 440.54L366.39 434.34L369.79 440.54Z" fill="#ff0000"/><path d="M363.78 440.4L367.18 434.2L370.57 440.4Z" fill="#ff0000"/><path d="M364.56 440.59L367.96 434.39L371.36 440.59Z" fill="#ff0000"/><path d="M365.34 440.45L368.74 434.25L372.14 440.45Z" fill="#ff0000"/><path d="M366.12 440.8L369.52 434.6L372.92 440.8Z" fill="#ff0000"/><path d="M366.9 440.63L370.3 434.43L373.7 440.63Z" fill="#ff0000"/><path d="M367.69 440.82L371.09 434.62L374.49 440.82Z" fill="#ff0000"/><path d="M368.47 440.94L371.87 434.74L375.27 440.94Z" fill="#ff0000"/><path d="M369.25 441.05L372.65 434.85L376.05 441.05Z" fill="#ff0000"/><path d="M370.03 440.86L373.43 434.66L376.83 440.86Z" fill="#ff0000"/><path d="M370.81 441.01L374.21 434.81L377.61 441.01Z" fill="#ff0000"/><path d="M371.6 441.18L375 434.98L378.4 441.18Z" fill="#ff0000"/><path d="M372.38 441.16L375.78 434.96L379.18 441.16Z" fill="#ff0000"/><path d="M373.16 441.09L376.56 434.89L379.96 441.09Z" fill="#ff0000"/><path d="M373.94 441.35L377.34 435.15L380.74 441.35Z" fill="#ff0000"/><path d="M374.72 441.31L378.12 435.11L381.52 441.31Z" fill="#ff0000"/><path d="M375.51 441.5L378.91 435.3L382.31 441.5Z" fill="#ff0000"/><path d="M376.29 441.55L379.69 435.35L383.09 441.55Z" fill="#ff0000"/><path d="M377.07 441.44L380.47 435.24L383.87 441.44Z" fill="#ff0000"/><path d="M377.85 441.51L381.25 435.31L384.65 441.51Z" fill="#ff0000"/><path d="M378.63 441.73L382.03 435.53L385.43 441.73Z" fill="#ff0000"/><path d="M379.42 441.82L382.82 435.62L386.22 441.82Z" fill="#ff0000"/><path d="M380.2 441.88L383.6 435.68L387 441.88Z" fill="#ff0000"/><path d="M380.98 441.79L384.38 435.59L387.78 441.79Z" fill="#ff0000"/><path d="M381.76 441.89L385.16 435.69L388.56 441.89Z" fill="#ff0000"/><path d="M382.54 442.01L385.94 435.81L389.34 442.01Z" fill="#ff0000"/><path d="M383.33 442.09L386.73 435.89L390.12 442.09Z" fill="#ff0000"/><path d="M384.11 442.04L387.51 435.84L390.91 442.04Z" fill="#ff0000"/><path d="M384.89 442.07L388.29 435.87L391.69 442.07Z" fill="#ff0000"/><path d="M385.67 442.1L389.07 435.9L392.47 442.1Z" fill="#ff0000"/><path d="M386.45 442.23L389.85 436.03L393.25 442.23Z" fill="#ff0000"/><path d="M387.24 442.4L390.64 436.2L394.04 442.4Z" fill="#ff0000"/><path d="M388.02 442.5L391.42 436.3L394.82 442.5Z" fill="#ff0000"/><path d="M388.8 442.37L392.2 436.17L395.6 442.37Z" fill="#ff0000"/><path d="M389.58 442.53L392.98 436.33L396.38 442.53Z" fill="#ff0000"/><path d="M390.36 442.5L393.76 436.3L397.16 442.5Z" fill="#ff0000"/><path d="M391.15 442.75L394.55 436.55L397.94 442.75Z" fill="#ff0000"/><path d="M391.93 442.59L395.33 436.39L398.73 442.59Z" fill="#ff0000"/><path d="M392.71 442.79L396.11 436.59L399.51 442.79Z" fill="#ff0000"/><path d="M393.49 442.71L396.89 436.51L400.29 442.71Z" fill="#ff0000"/><path d="M394.27 442.76L397.67 436.56L401.07 442.76Z" fill="#ff0000"/><path d="M395.06 442.93L398.46 436.73L401.86 442.93Z" fill="#ff0000"/><path d="M395.84 443.13L399.24 436.93L402.64 443.13Z" fill="#ff0000"/><path d="M396.62 442.93L400.02 436.73L403.42 442.93Z" fill="#ff0000"/><path d="M397.4 443.12L400.8 436.92L404.2 443.12Z" fill="#ff0000"/><path d="M398.18 443.07L401.58 436.87L404.98 443.07Z" fill="#ff0000"/><path d="M398.97 443.31L402.37 437.11L405.76 443.31Z" fill="#ff0000"/><path d="M399.75 443.39L403.15 437.19L406.55 443.39Z" fill="#ff0000"/><path d="M400.53 443.26L403.93 437.06L407.33 443.26Z" fill="#ff0000"/><path d="M401.31 443.46L404.71 437.26L408.11 443.46Z" fill="#ff0000"/><path d="M402.09 443.58L405.49 437.38L408.89 443.58Z" fill="#ff0000"/><path d="M402.88 443.58L406.28 437.38L409.68 443.58Z" fill="#ff0000"/><path d="M403.66 443.58L407.06 437.38L410.46 443.58Z" fill="#ff0000"/><path d="M404.44 443.81L407.84 437.61L411.24 443.81Z" fill="#ff0000"/><path d="M405.22 443.72L408.62 437.52L412.02 443.72Z" fill="#ff0000"/><path d="M406 443.81L409.4 437.61L412.8 443.81Z" fill="#ff0000"/><path d="M406.79 443.85L410.19 437.65L413.59 443.85Z" fill="#ff0000"/><path d="M407.57 444.03L410.97 437.83L414.37 444.03Z" fill="#ff0000"/><path d="M408.35 443.91L411.75 437.71L415.15 443.91Z" fill="#ff0000"/><path d="M409.13 443.95L412.53 437.75L415.93 443.95Z" fill="#ff0000"/><path d="M409.91 443.99L413.31 437.79L416.71 443.99Z" fill="#ff0000"/><path d="M410.7 444.21L414.1 438.01L417.5 444.21Z" fill="#ff0000"/><path d="M411.48 444.16L414.88 437.96L418.28 444.16Z" fill="#ff0000"/><path d="M412.26 444.32L415.66 438.12L419.06 444.32Z" fill="#ff0000"/><path d="M413.04 444.27L416.44 438.07L419.84 444.27Z" fill="#ff0000"/><path d="M413.82 444.54L417.22 438.34L420.62 444.54Z" fill="#ff0000"/><path d="M414.61 444.36L418.01 438.16L421.41 444.36Z" fill="#ff0000"/><path d="M415.39 444.4L418.79 438.2L422.19 444.4Z" fill="#ff0000"/><path d="M416.17 444.59L419.57 438.39L422.97 444.59Z" fill="#ff0000"/><path d="M416.95 444.65L420.35 438.45L423.75 444.65Z" fill="#ff0000"/><path d="M417.73 444.71L421.13 438.51L424.53 444.71Z" fill="#ff0000"/><path d="M418.52 444.77L421.92 438.57L425.31 444.77Z" fill="#ff0000"/><path d="M419.3 444.98L422.7 438.78L426.1 444.98Z" fill="#ff0000"/><path d="M420.08 444.76L423.48 438.56L426.88 444.76Z" fill="#ff0000"/><path d="M420.86 445.04L424.26 438.84L427.66 445.04Z" fill="#ff0000"/><path d="M421.64 445.12L425.04 438.92L428.44 445.12Z" fill="#ff0000"/><path d="M422.43 445.2L425.83 439L429.23 445.2Z" fill="#ff0000"/><path d="M423.21 445.22L426.61 439.02L430.01 445.22Z" fill="#ff0000"/><path d="M423.99 445.11L427.39 438.91L430.79 445.11Z" fill="#ff0000"/><path d="M424.77 445.41L428.17 439.21L431.57 445.41Z" fill="#ff0000"/><path d="M425.55 445.45L428.95 439.25L432.35 445.45Z" fill="#ff0000"/><path d="M426.34 445.33L429.74 439.13L433.13 445.33Z" fill="#ff0000"/><path d="M427.12 445.54L430.52 439.34L433.92 445.54Z" fill="#ff0000"/><path d="M427.9 445.66L431.3 439.46L434.7 445.66Z" fill="#ff0000"/><path d="M428.68 445.55L432.08 439.35L435.48 445.55Z" fill="#ff0000"/><path d="M429.46 445.6L432.86 439.4L436.26 445.6Z" fill="#ff0000"/><path d="M430.25 445.66L433.65 439.46L437.05 445.66Z" fill="#ff0000"/><path d="M431.03 445.65L434.43 439.45L437.83 445.65Z" fill="#ff0000"/><path d="M431.81 445.87L435.21 439.67L438.61 445.87Z" fill="#ff0000"/><path d="M432.59 445.68L435.99 439.48L439.39 445.68Z" fill="#ff0000"/><path d="M433.37 445.77L436.77 439.57L440.17 445.77Z" fill="#ff0000"/><path d="M434.16 446.01L437.56 439.81L440.96 446.01Z" fill="#ff0000"/><path d="M434.94 446.03L438.34 439.83L441.74 446.03Z" fill="#ff0000"/><path d="M435.72 445.97L439.12 439.77L442.52 445.97Z" fill="#ff0000"/><path d="M436.5 446.01L439.9 439.81L443.3 446.01Z" fill="#ff0000"/><path d="M437.28 446.12L440.68 439.92L444.08 446.12Z" fill="#ff0000"/><path d="M438.07 446.21L441.47 440.01L444.87 446.21Z" fill="#ff0000"/><path d="M438.85 446.17L442.25 439.97L445.65 446.17Z" fill="#ff0000"/><path d="M439.63 446.29L443.03 440.09L446.43 446.29Z" fill="#ff0000"/><path d="M440.41 446.2L443.81 440L447.21 446.2Z" fill="#ff0000"/><path d="M441.19 446.16L444.59 439.96L447.99 446.16Z" fill="#ff0000"/><path d="M441.98 446.41L445.38 440.21L448.78 446.41Z" fill="#ff0000"/><path d="M442.76 446.33L446.16 440.13L449.56 446.33Z" fill="#ff0000"/><path d="M443.54 446.33L446.94 440.13L450.34 446.33Z" fill="#ff0000"/><path d="M444.32 446.54L447.72 440.34L451.12 446.54Z" fill="#ff0000"/><path d="M445.1 446.39L448.5 440.19L451.9 446.39Z" fill="#ff0000"/><path d="M445.89 446.4L449.29 440.2L452.69 446.4Z" fill="#ff0000"/><path d="M446.67 446.6L450.07 440.4L453.47 446.6Z" fill="#ff0000"/><path d="M447.45 446.64L450.85 440.44L454.25 446.64Z" fill="#ff0000"/><path d="M448.23 446.56L451.63 440.36L455.03 446.56Z" fill="#ff0000"/><path d="M449.01 446.69L452.41 440.49L455.81 446.69Z" fill="#ff0000"/><path d="M449.8 446.77L453.2 440.57L456.6 446.77Z" fill="#ff0000"/><path d="M450.58 446.66L453.98 440.46L457.38 446.66Z" fill="#ff0000"/><path d="M451.36 446.75L454.76 440.55L458.16 446.75Z" fill="#ff0000"/><path d="M452.14 446.92L455.54 440.72L458.94 446.92Z" fill="#ff0000"/><path d="M452.92 446.99L456.32 440.79L459.72 446.99Z" fill="#ff0000"/><path d="M453.71 447.01L457.11 440.81L460.5 447.01Z" fill="#ff0000"/><path d="M454.49 447.02L457.89 440.82L461.29 447.02Z" fill="#ff0000"/><path d="M455.27 446.9L458.67 440.7L462.07 446.9Z" fill="#ff0000"/><path d="M456.05 447L459.45 440.8L462.85 447Z" fill="#ff0000"/><path d="M456.83 447.01L460.23 440.81L463.63 447.01Z" fill="#ff0000"/><path d="M457.62 447.08L461.02 440.88L464.42 447.08Z" fill="#ff0000"/><path d="M458.4 447.12L461.8 440.92L465.2 447.12Z" fill="#ff0000"/><path d="M459.18 447.39L462.58 441.19L465.98 447.39Z" fill="#ff0000"/><path d="M459.96 447.3L463.36 441.1L466.76 447.3Z" fill="#ff0000"/><path d="M460.74 447.21L464.14 441.01L467.54 447.21Z" fill="#ff0000"/><path d="M461.53 447.26L464.93 441.06L468.32 447.26Z" fill="#ff0000"/><path d="M462.31 447.51L465.71 441.31L469.11 447.51Z" fill="#ff0000"/><path d="M463.09 447.5L466.49 441.3L469.89 447.5Z" fill="#ff0000"/><path d="M463.87 447.48L467.27 441.28L470.67 447.48Z" fill="#ff0000"/><path d="M464.65 447.6L468.05 441.4L471.45 447.6Z" fill="#ff0000"/><path d="M465.44 447.6L468.84 441.4L472.24 447.6Z" fill="#ff0000"/><path d="M466.22 447.78L469.62 441.58L473.02 447.78Z" fill="#ff0000"/><path d="M467 447.71L470.4 441.51L473.8 447.71Z" fill="#ff0000"/><path d="M467.78 447.74L471.18 441.54L474.58 447.74Z" fill="#ff0000"/><path d="M468.56 447.92L471.96 441.72L475.36 447.92Z" fill="#ff0000"/><path d="M469.35 447.93L472.75 441.73L476.15 447.93Z" fill="#ff0000"/><path d="M470.13 447.73L473.53 441.53L476.93 447.73Z" fill="#ff0000"/><path d="M470.91 447.83L474.31 441.63L477.71 447.83Z" fill="#ff0000"/><path d="M471.69 447.83L475.09 441.63L478.49 447.83Z" fill="#ff0000"/><path d="M472.47 447.96L475.87 441.76L479.27 447.96Z" fill="#ff0000"/><path d="M473.26 447.95L476.66 441.75L480.06 447.95Z" fill="#ff0000"/><path d="M474.04 447.97L477.44 441.77L480.84 447.97Z" fill="#ff0000"/><path d="M474.82 448.01L478.22 441.81L481.62 448.01Z" fill="#ff0000"/><path d="M475.6 448.31L479 442.11L482.4 448.31Z" fill="#ff0000"/><path d="M476.38 448.17L479.78 441.97L483.18 448.17Z" fill="#ff0000"/><path d="M477.17 448.32L480.57 442.12L483.97 448.32Z" fill="#ff0000"/><path d="M477.95 448.25L481.35 442.05L484.75 448.25Z" fill="#ff0000"/><path d="M478.73 448.41L482.13 442.21L485.53 448.41Z" fill="#ff0000"/><path d="M479.51 448.37L482.91 442.17L486.31 448.37Z" fill="#ff0000"/><path d="M480.29 448.31L483.69 442.11L487.09 448.31Z" fill="#ff0000"/><path d="M481.08 448.44L484.48 442.24L487.88 448.44Z" fill="#ff0000"/><path d="M481.86 448.59L485.26 442.39L488.66 448.59Z" fill="#ff0000"/><path d="M482.64 448.55L486.04 442.35L489.44 448.55Z" fill="#ff0000"/><path d="M483.42 448.62L486.82 442.42L490.22 448.62Z" fill="#ff0000"/><path d="M484.2 448.51L487.6 442.31L491 448.51Z" fill="#ff0000"/><path d="M484.99 448.75L488.39 442.55L491.79 448.75Z" fill="#ff0000"/><path d="M485.77 448.79L489.17 442.59L492.57 448.79Z" fill="#ff0000"/><path d="M486.55 448.73L489.95 442.53L493.35 448.73Z" fill="#ff0000"/><path d="M487.33 448.91L490.73 442.71L494.13 448.91Z" fill="#ff0000"/><path d="M488.11 448.77L491.51 442.57L494.91 448.77Z" fill="#ff0000"/><polyline points="44.99,416.74 45.77,417.12 46.55,417.34 47.34,417.22 48.12,417.19 48.9,417.52 49.68,417.57 50.47,417.6 51.25,417.5 52.03,417.44 52.81,417.56 53.59,417.63 54.38,417.78 55.16,417.45 55.94,417.25 56.72,417.46 57.5,417.52 58.29,417.49 59.07,417.87 59.85,417.5 60.63,417.73 61.41,417.69 62.2,417.67 62.98,417.81 63.76,417.96 64.54,418.05 65.32,418.09 66.11,417.89 66.89,418.03 67.67,417.9 68.45,418.37 69.23,418.14 70.02,417.77 70.8,418.29 71.58,418.07 72.36,418.15 73.14,418.34 73.93,417.82 74.71,418.39 75.49,418.05 76.27,418.56 77.05,418.66 77.84,418.06 78.62,418.43 79.4,418.75 80.18,418.53 80.96,418.52 81.75,418.32 82.53,418.84 83.31,418.77 84.09,418.23 84.87,418.43 85.66,418.92 86.44,418.81 87.22,418.82 88,418.6 88.78,418.68 89.56,418.52 90.35,418.58 91.13,418.84 91.91,418.7 92.69,418.73 93.47,418.74 94.26,419 95.04,418.78 95.82,418.87 96.6,418.74 97.39,419.39 98.17,418.84 98.95,419.54 99.73,418.98 100.51,419.15 101.3,419.25 102.08,418.91 102.86,419.25 103.64,419.4 104.42,419.14 105.21,419.1 105.99,419.34 106.77,419.55 107.55,419.52 108.33,419.55 109.12,419.37 109.9,419.73 110.68,419.69 111.46,419.59 112.24,419.75 113.03,419.83 113.81,419.5 114.59,419.48 115.37,419.78 116.15,419.85 116.94,420.09 117.72,420.02 118.5,420.18 119.28,419.87 120.06,419.9 120.84,420.31 121.63,419.69 122.41,420.19 123.19,419.81 123.97,419.84 124.75,419.78 125.54,420.4 126.32,420.26 127.1,419.91 127.88,420.64 128.66,420.64 129.45,420.27 130.23,420.35 131.01,420.05 131.79,420.19 132.58,420.41 133.36,420.08 134.14,420.48 134.92,420.51 135.7,420.41 136.49,420.67 137.27,420.73 138.05,420.57 138.83,420.79 139.61,420.35 140.4,420.6 141.18,420.74 141.96,421.11 142.74,420.92 143.52,420.94 144.31,420.84 145.09,420.87 145.87,420.66 146.65,420.63 147.43,421.04 148.22,421.11 149,421 149.78,420.74 150.56,421.28 151.34,421.17 152.12,420.98 152.91,421.52 153.69,421.44 154.47,420.96 155.25,421.11 156.03,421.39 156.82,421.73 157.6,421.16 158.38,421.35 159.16,421.28 159.94,421.18 160.73,421.29 161.51,421.69 162.29,421.93 163.07,421.86 163.86,421.72 164.64,421.76 165.42,422.04 166.2,422.08 166.98,421.76 167.77,421.82 168.55,422.05 169.33,421.58 170.11,421.89 170.89,422.39 171.68,422.14 172.46,421.88 173.24,422.29 174.02,422.02 174.8,422.59 175.59,422.39 176.37,422 177.15,422.24 177.93,422.21 178.71,422.61 179.5,422.41 180.28,422.4 181.06,422.65 181.84,422.39 182.62,422.51 183.41,422.18 184.19,422.55 184.97,422.71 185.75,422.97 186.53,422.97 187.31,422.54 188.1,423.08 188.88,423.12 189.66,423.1 190.44,422.86 191.22,422.65 192.01,422.85 192.79,422.73 193.57,423.35 194.35,423.42 195.13,422.86 195.92,423.25 196.7,422.97 197.48,423.29 198.26,423.47 199.04,423.43 199.83,423.59 200.61,422.99 201.39,423.28 202.17,423.5 202.96,423.45 203.74,423.53 204.52,423.83 205.3,423.21 206.08,423.48 206.87,423.22 207.65,423.66 208.43,423.55 209.21,423.88 209.99,424.07 210.78,423.41 211.56,423.5 212.34,423.96 213.12,423.54 213.9,423.63 214.69,424.07 215.47,423.87 216.25,423.62 217.03,424.02 217.81,423.7 218.59,424.28 219.38,424.2 220.16,423.98 220.94,424.4 221.72,424.37 222.5,423.96 223.29,424.3 224.07,424.09 224.85,424.55 225.63,424.64 226.41,424.53 227.2,424.7 227.98,424.12 228.76,424.68 229.54,424.5 230.32,424.89 231.11,424.59 231.89,424.74 232.67,424.76 233.45,425.06 234.24,425.05 235.02,424.53 235.8,424.94 236.58,425.05 237.36,425.13 238.15,425.09 238.93,425.16 239.71,425.35 240.49,424.9 241.27,425.2 242.06,425.39 242.84,425.01 243.62,425.53 244.4,425.44 245.18,425.04 245.97,425.64 246.75,425.44 247.53,425.18 248.31,425.25 249.09,425.8 249.88,425.69 250.66,425.45 251.44,425.77 252.22,425.36 253,425.99 253.78,425.45 254.57,425.85 255.35,426.11 256.13,425.98 256.91,426.28 257.69,425.87 258.48,426.27 259.26,425.82 260.04,426.1 260.82,426.32 261.61,426.46 262.39,426.23 263.17,426.58 263.95,426.11 264.73,426.74 265.52,426.48 266.3,426.51 267.08,426.76 267.86,426.42 268.64,426.77 269.43,426.6 270.21,426.72 270.99,426.96 271.77,426.95 272.55,427.23 273.34,427.2 274.12,426.72 274.9,427.18 275.68,426.96 276.46,427.44 277.25,427.13 278.03,427.33 278.81,427.27 279.59,427.48 280.37,427.7 281.16,427.56 281.94,427.67 282.72,427.79 283.5,427.38 284.28,427.76 285.06,427.71 285.85,427.36 286.63,427.51 287.41,427.48 288.19,427.54 288.98,428.15 289.76,428.09 290.54,428.33 291.32,427.86 292.1,427.92 292.88,428.21 293.67,428.21 294.45,428.06 295.23,428.08 296.01,428.48 296.8,428.05 297.58,428.49 298.36,428.32 299.14,428.71 299.92,428.81 300.71,428.23 301.49,428.42 302.27,428.48 303.05,429.05 303.83,429.1 304.62,429.05 305.4,429.06 306.18,429.03 306.96,429.01 307.74,429.33 308.53,429.16 309.31,428.95 310.09,429.35 310.87,428.88 311.65,429.14 312.44,429.07 313.22,429.48 314,429.38 314.78,429.23 315.56,429.54 316.35,429.86 317.13,429.25 317.91,429.34 318.69,429.77 319.47,430.01 320.26,429.42 321.04,429.66 321.82,430.14 322.6,430.03 323.38,430.18 324.17,429.7 324.95,430.2 325.73,429.69 326.51,429.87 327.29,430.43 328.08,430 328.86,430.28 329.64,430.05 330.42,430.04 331.2,430.51 331.99,430.7 332.77,430.08 333.55,430.54 334.33,430.19 335.11,430.42 335.9,430.43 336.68,430.4 337.46,430.61 338.24,430.79 339.02,431.14 339.81,430.69 340.59,430.94 341.37,430.92 342.15,430.65 342.93,431.32 343.72,430.87 344.5,431.47 345.28,431 346.06,430.97 346.84,431.44 347.63,431.26 348.41,430.98 349.19,431.28 349.97,431.4 350.75,431.68 351.54,431.87 352.32,431.69 353.1,431.69 353.88,431.9 354.66,431.86 355.45,432.04 356.23,431.64 357.01,431.72 357.79,432.1 358.57,432.14 359.36,431.98 360.14,432.08 360.92,431.77 361.7,432.31 362.48,432.43 363.27,432.06 364.05,432.72 364.83,432.47 365.61,432.73 366.39,432.44 367.18,432.73 367.96,432.64 368.74,433.19 369.52,432.88 370.3,433.02 371.09,433.2 371.87,433.05 372.65,433.08 373.43,433.72 374.21,433.66 375,433.69 375.78,433.89 376.56,434.09 377.34,434 378.12,434.14 378.91,433.83 379.69,434.11 380.47,434.45 381.25,434.37 382.03,434.34 382.82,434.5 383.6,434.74 384.38,434.89 385.16,435.02 385.94,434.34 386.73,434.61 387.51,435.21 388.29,434.8 389.07,434.67 389.85,435.08 390.64,435.52 391.42,435.3 392.2,435.43 392.98,435.7 393.76,435.5 394.55,436 395.33,435.37 396.11,435.67 396.89,435.76 397.67,435.6 398.46,435.91 399.24,436.3 400.02,436.39 400.8,436.54 401.58,436.67 402.37,436.13 403.15,436.13 403.93,436.6 404.71,436.74 405.49,436.43 406.28,436.32 407.06,436.3 407.84,436.94 408.62,436.51 409.4,436.52 410.19,436.67 410.97,437.19 411.75,437.5 412.53,437.19 413.31,437.78 414.1,437.93 414.88,437.98 415.66,438.32 416.44,438.15 417.22,438.9 418.01,439.4 418.79,439.34 419.57,439.63 420.35,439.83 421.13,440.27 421.92,440.43 422.7,440.57 423.48,441.09 424.26,441.26 425.04,441.7 425.83,441.76 426.61,441.71 427.39,442.27 428.17,441.97 428.95,442.77 429.74,443.09 430.52,443.22 431.3,444.44 432.08,445.02 432.86,445.25 433.65,445.98 434.43,446.1 435.21,447.2 435.99,447.59 436.77,448.69 437.56,449.84 438.34,451.23 439.12,452.44 439.9,454.47 440.68,458.12 441.47,461.55 442.25,464.63 443.03,467.3 443.81,468.36 444.59,469.46 445.38,470.64 446.16,472.44 446.94,472.93 447.72,473.37 448.5,473.83 449.29,474.56 450.07,475.23 450.85,475.88 451.63,476.24 452.41,476.59 453.2,476.5 453.98,476.85 454.76,477.19 455.54,477.41 456.32,477.72 457.11,478.3 457.89,478.45 458.67,479.34 459.45,479.16 460.23,479.52 461.02,480.04 461.8,480.06 462.58,480 463.36,480.6 464.14,480.71 464.93,481.22 465.71,481.42 466.49,481.24 467.27,482.14 468.05,482.26 468.84,482.11 469.62,482.4 470.4,482.75 471.18,482.37 471.96,482.67 472.75,482.58 473.53,482.78 474.31,482.77 475.09,482.81 475.87,483.02 476.66,483.31 477.44,483.34 478.22,482.99 479,483.45 479.78,484 480.57,483.61 481.35,484.29 482.13,484.62 482.91,484.48 483.69,484.9 484.48,485.03 485.26,485.51 486.04,486.29 486.82,486.55 487.6,487.44 488.39,487.65 489.17,488.12 489.95,489.05 490.73,489.32 491.51,490.11" fill="none" stroke="#000000" stroke-width="3" stroke-linejoin="round"/><circle cx="44.99" cy="416.74" r="3.7" fill="#000000"/><circle cx="45.77" cy="417.12" r="3.7" fill="#000000"/><circle cx="46.55" cy="417.34" r="3.7" fill="#000000"/><circle cx="47.34" cy="417.22" r="3.7" fill="#000000"/><circle cx="48.12" cy="417.19" r="3.7" fill="#000000"/><circle cx="48.9" cy="417.52" r="3.7" fill="#000000"/><circle cx="49.68" cy="417.57" r="3.7" fill="#000000"/><circle cx="50.47" cy="417.6" r="3.7" fill="#000000"/><circle cx="51.25" cy="417.5" r="3.7" fill="#000000"/><circle cx="52.03" cy="417.44" r="3.7" fill="#000000"/><circle cx="52.81" cy="417.56" r="3.7" fill="#000000"/><circle cx="53.59" cy="417.63" r="3.7" fill="#000000"/><circle cx="54.38" cy="417.78" r="3.7" fill="#000000"/><circle cx="55.16" cy="417.45" r="3.7" fill="#000000"/><circle cx="55.94" cy="417.25" r="3.7" fill="#000000"/><circle cx="56.72" cy="417.46" r="3.7" fill="#000000"/><circle cx="57.5" cy="417.52" r="3.7" fill="#000000"/><circle cx="58.29" cy="417.49" r="3.7" fill="#000000"/><circle cx="59.07" cy="417.87" r="3.7" fill="#000000"/><circle cx="59.85" cy="417.5" r="3.7" fill="#000000"/><circle cx="60.63" cy="417.73" r="3.7" fill="#000000"/><circle cx="61.41" cy="417.69" r="3.7" fill="#000000"/><circle cx="62.2" cy="417.67" r="3.7" fill="#000000"/><circle cx="62.98" cy="417.81" r="3.7" fill="#000000"/><circle cx="63.76" cy="417.96" r="3.7" fill="#000000"/><circle cx="64.54" cy="418.05" r="3.7" fill="#000000"/><circle cx="65.32" cy="418.09" r="3.7" fill="#000000"/><circle cx="66.11" cy="417.89" r="3.7" fill="#000000"/><circle cx="66.89" cy="418.03" r="3.7" fill="#000000"/><circle cx="67.67" cy="417.9" r="3.7" fill="#000000"/><circle cx="68.45" cy="418.37" r="3.7" fill="#000000"/><circle cx="69.23" cy="418.14" r="3.7" fill="#000000"/><circle cx="70.02" cy="417.77" r="3.7" fill="#000000"/><circle cx="70.8" cy="418.29" r="3.7" fill="#000000"/><circle cx="71.58" cy="418.07" r="3.7" fill="#000000"/><circle cx="72.36" cy="418.15" r="3.7" fill="#000000"/><circle cx="73.14" cy="418.34" r="3.7" fill="#000000"/><circle cx="73.93" cy="417.82" r="3.7" fill="#000000"/><circle cx="74.71" cy="418.39" r="3.7" fill="#000000"/><circle cx="75.49" cy="418.05" r="3.7" fill="#000000"/><circle cx="76.27" cy="418.56" r="3.7" fill="#000000"/><circle cx="77.05" cy="418.66" r="3.7" fill="#000000"/><circle cx="77.84" cy="418.06" r="3.7" fill="#000000"/><circle cx="78.62" cy="418.43" r="3.7" fill="#000000"/><circle cx="79.4" cy="418.75" r="3.7" fill="#000000"/><circle cx="80.18" cy="418.53" r="3.7" fill="#000000"/><circle cx="80.96" cy="418.52" r="3.7" fill="#000000"/><circle cx="81.75" cy="418.32" r="3.7" fill="#000000"/><circle cx="82.53" cy="418.84" r="3.7" fill="#000000"/><circle cx="83.31" cy="418.77" r="3.7" fill="#000000"/><circle cx="84.09" cy="418.23" r="3.7" fill="#000000"/><circle cx="84.87" cy="418.43" r="3.7" fill="#000000"/><circle cx="85.66" cy="418.92" r="3.7" fill="#000000"/><circle cx="86.44" cy="418.81" r="3.7" fill="#000000"/><circle cx="87.22" cy="418.82" r="3.7" fill="#000000"/><circle cx="88" cy="418.6" r="3.7" fill="#000000"/><circle cx="88.78" cy="418.68" r="3.7" fill="#000000"/><circle cx="89.56" cy="418.52" r="3.7" fill="#000000"/><circle cx="90.35" cy="418.58" r="3.7" fill="#000000"/><circle cx="91.13" cy="418.84" r="3.7" fill="#000000"/><circle cx="91.91" cy="418.7" r="3.7" fill="#000000"/><circle cx="92.69" cy="418.73" r="3.7" fill="#000000"/><circle cx="93.47" cy="418.74" r="3.7" fill="#000000"/><circle cx="94.26" cy="419" r="3.7" fill="#000000"/><circle cx="95.04" cy="418.78" r="3.7" fill="#000000"/><circle cx="95.82" cy="418.87" r="3.7" fill="#000000"/><circle cx="96.6" cy="418.74" r="3.7" fill="#000000"/><circle cx="97.39" cy="419.39" r="3.7" fill="#000000"/><circle cx="98.17" cy="418.84" r="3.7" fill="#000000"/><circle cx="98.95" cy="419.54" r="3.7" fill="#000000"/><circle cx="99.73" cy="418.98" r="3.7" fill="#000000"/><circle cx="100.51" cy="419.15" r="3.7" fill="#000000"/><circle cx="101.3" cy="419.25" r="3.7" fill="#000000"/><circle cx="102.08" cy="418.91" r="3.7" fill="#000000"/><circle cx="102.86" cy="419.25" r="3.7" fill="#000000"/><circle cx="103.64" cy="419.4" r="3.7" fill="#000000"/><circle cx="104.42" cy="419.14" r="3.7" fill="#000000"/><circle cx="105.21" cy="419.1" r="3.7" fill="#000000"/><circle cx="105.99" cy="419.34" r="3.7" fill="#000000"/><circle cx="106.77" cy="419.55" r="3.7" fill="#000000"/><circle cx="107.55" cy="419.52" r="3.7" fill="#000000"/><circle cx="108.33" cy="419.55" r="3.7" fill="#000000"/><circle cx="109.12" cy="419.37" r="3.7" fill="#000000"/><circle cx="109.9" cy="419.73" r="3.7" fill="#000000"/><circle cx="110.68" cy="419.69" r="3.7" fill="#000000"/><circle cx="111.46" cy="419.59" r="3.7" fill="#000000"/><circle cx="112.24" cy="419.75" r="3.7" fill="#000000"/><circle cx="113.03" cy="419.83" r="3.7" fill="#000000"/><circle cx="113.81" cy="419.5" r="3.7" fill="#000000"/><circle cx="114.59" cy="419.48" r="3.7" fill="#000000"/><circle cx="115.37" cy="419.78" r="3.7" fill="#000000"/><circle cx="116.15" cy="419.85" r="3.7" fill="#000000"/><circle cx="116.94" cy="420.09" r="3.7" fill="#000000"/><circle cx="117.72" cy="420.02" r="3.7" fill="#000000"/><circle cx="118.5" cy="420.18" r="3.7" fill="#000000"/><circle cx="119.28" cy="419.87" r="3.7" fill="#000000"/><circle cx="120.06" cy="419.9" r="3.7" fill="#000000"/><circle cx="120.84" cy="420.31" r="3.7" fill="#000000"/><circle cx="121.63" cy="419.69" r="3.7" fill="#000000"/><circle cx="122.41" cy="420.19" r="3.7" fill="#000000"/><circle cx="123.19" cy="419.81" r="3.7" fill="#000000"/><circle cx="123.97" cy="419.84" r="3.7" fill="#000000"/><circle cx="124.75" cy="419.78" r="3.7" fill="#000000"/><circle cx="125.54" cy="420.4" r="3.7" fill="#000000"/><circle cx="126.32" cy="420.26" r="3.7" fill="#000000"/><circle cx="127.1" cy="419.91" r="3.7" fill="#000000"/><circle cx="127.88" cy="420.64" r="3.7" fill="#000000"/><circle cx="128.66" cy="420.64" r="3.7" fill="#000000"/><circle cx="129.45" cy="420.27" r="3.7" fill="#000000"/><circle cx="130.23" cy="420.35" r="3.7" fill="#000000"/><circle cx="131.01" cy="420.05" r="3.7" fill="#000000"/><circle cx="131.79" cy="420.19" r="3.7" fill="#000000"/><circle cx="132.58" cy="420.41" r="3.7" fill="#000000"/><circle cx="133.36" cy="420.08" r="3.7" fill="#000000"/><circle cx="134.14" cy="420.48" r="3.7" fill="#000000"/><circle cx="134.92" cy="420.51" r="3.7" fill="#000000"/><circle cx="135.7" cy="420.41" r="3.7" fill="#000000"/><circle cx="136.49" cy="420.67" r="3.7" fill="#000000"/><circle cx="137.27" cy="420.73" r="3.7" fill="#000000"/><circle cx="138.05" cy="420.57" r="3.7" fill="#000000"/><circle cx="138.83" cy="420.79" r="3.7" fill="#000000"/><circle cx="139.61" cy="420.35" r="3.7" fill="#000000"/><circle cx="140.4" cy="420.6" r="3.7" fill="#000000"/><circle cx="141.18" cy="420.74" r="3.7" fill="#000000"/><circle cx="141.96" cy="421.11" r="3.7" fill="#000000"/><circle cx="142.74" cy="420.92" r="3.7" fill="#000000"/><circle cx="143.52" cy="420.94" r="3.7" fill="#000000"/><circle cx="144.31" cy="420.84" r="3.7" fill="#000000"/><circle cx="145.09" cy="420.87" r="3.7" fill="#000000"/><circle cx="145.87" cy="420.66" r="3.7" fill="#000000"/><circle cx="146.65" cy="420.63" r="3.7" fill="#000000"/><circle cx="147.43" cy="421.04" r="3.7" fill="#000000"/><circle cx="148.22" cy="421.11" r="3.7" fill="#000000"/><circle cx="149" cy="421" r="3.7" fill="#000000"/><circle cx="149.78" cy="420.74" r="3.7" fill="#000000"/><circle cx="150.56" cy="421.28" r="3.7" fill="#000000"/><circle cx="151.34" cy="421.17" r="3.7" fill="#000000"/><circle cx="152.12" cy="420.98" r="3.7" fill="#000000"/><circle cx="152.91" cy="421.52" r="3.7" fill="#000000"/><circle cx="153.69" cy="421.44" r="3.7" fill="#000000"/><circle cx="154.47" cy="420.96" r="3.7" fill="#000000"/><circle cx="155.25" cy="421.11" r="3.7" fill="#000000"/><circle cx="156.03" cy="421.39" r="3.7" fill="#000000"/><circle cx="156.82" cy="421.73" r="3.7" fill="#000000"/><circle cx="157.6" cy="421.16" r="3.7" fill="#000000"/><circle cx="158.38" cy="421.35" r="3.7" fill="#000000"/><circle cx="159.16" cy="421.28" r="3.7" fill="#000000"/><circle cx="159.94" cy="421.18" r="3.7" fill="#000000"/><circle cx="160.73" cy="421.29" r="3.7" fill="#000000"/><circle cx="161.51" cy="421.69" r="3.7" fill="#000000"/><circle cx="162.29" cy="421.93" r="3.7" fill="#000000"/><circle cx="163.07" cy="421.86" r="3.7" fill="#000000"/><circle cx="163.86" cy="421.72" r="3.7" fill="#000000"/><circle cx="164.64" cy="421.76" r="3.7" fill="#000000"/><circle cx="165.42" cy="422.04" r="3.7" fill="#000000"/><circle cx="166.2" cy="422.08" r="3.7" fill="#000000"/><circle cx="166.98" cy="421.76" r="3.7" fill="#000000"/><circle cx="167.77" cy="421.82" r="3.7" fill="#000000"/><circle cx="168.55" cy="422.05" r="3.7" fill="#000000"/><circle cx="169.33" cy="421.58" r="3.7" fill="#000000"/><circle cx="170.11" cy="421.89" r="3.7" fill="#000000"/><circle cx="170.89" cy="422.39" r="3.7" fill="#000000"/><circle cx="171.68" cy="422.14" r="3.7" fill="#000000"/><circle cx="172.46" cy="421.88" r="3.7" fill="#000000"/><circle cx="173.24" cy="422.29" r="3.7" fill="#000000"/><circle cx="174.02" cy="422.02" r="3.7" fill="#000000"/><circle cx="174.8" cy="422.59" r="3.7" fill="#000000"/><circle cx="175.59" cy="422.39" r="3.7" fill="#000000"/><circle cx="176.37" cy="422" r="3.7" fill="#000000"/><circle cx="177.15" cy="422.24" r="3.7" fill="#000000"/><circle cx="177.93" cy="422.21" r="3.7" fill="#000000"/><circle cx="178.71" cy="422.61" r="3.7" fill="#000000"/><circle cx="179.5" cy="422.41" r="3.7" fill="#000000"/><circle cx="180.28" cy="422.4" r="3.7" fill="#000000"/><circle cx="181.06" cy="422.65" r="3.7" fill="#000000"/><circle cx="181.84" cy="422.39" r="3.7" fill="#000000"/><circle cx="182.62" cy="422.51" r="3.7" fill="#000000"/><circle cx="183.41" cy="422.18" r="3.7" fill="#000000"/><circle cx="184.19" cy="422.55" r="3.7" fill="#000000"/><circle cx="184.97" cy="422.71" r="3.7" fill="#000000"/><circle cx="185.75" cy="422.97" r="3.7" fill="#000000"/><circle cx="186.53" cy="422.97" r="3.7" fill="#000000"/><circle cx="187.31" cy="422.54" r="3.7" fill="#000000"/><circle cx="188.1" cy="423.08" r="3.7" fill="#000000"/><circle cx="188.88" cy="423.12" r="3.7" fill="#000000"/><circle cx="189.66" cy="423.1" r="3.7" fill="#000000"/><circle cx="190.44" cy="422.86" r="3.7" fill="#000000"/><circle cx="191.22" cy="422.65" r="3.7" fill="#000000"/><circle cx="192.01" cy="422.85" r="3.7" fill="#000000"/><circle cx="192.79" cy="422.73" r="3.7" fill="#000000"/><circle cx="193.57" cy="423.35" r="3.7" fill="#000000"/><circle cx="194.35" cy="423.42" r="3.7" fill="#000000"/><circle cx="195.13" cy="422.86" r="3.7" fill="#000000"/><circle cx="195.92" cy="423.25" r="3.7" fill="#000000"/><circle cx="196.7" cy="422.97" r="3.7" fill="#000000"/><circle cx="197.48" cy="423.29" r="3.7" fill="#000000"/><circle cx="198.26" cy="423.47" r="3.7" fill="#000000"/><circle cx="199.04" cy="423.43" r="3.7" fill="#000000"/><circle cx="199.83" cy="423.59" r="3.7" fill="#000000"/><circle cx="200.61" cy="422.99" r="3.7" fill="#000000"/><circle cx="201.39" cy="423.28" r="3.7" fill="#000000"/><circle cx="202.17" cy="423.5" r="3.7" fill="#000000"/><circle cx="202.96" cy="423.45" r="3.7" fill="#000000"/><circle cx="203.74" cy="423.53" r="3.7" fill="#000000"/><circle cx="204.52" cy="423.83" r="3.7" fill="#000000"/><circle cx="205.3" cy="423.21" r="3.7" fill="#000000"/><circle cx="206.08" cy="423.48" r="3.7" fill="#000000"/><circle cx="206.87" cy="423.22" r="3.7" fill="#000000"/><circle cx="207.65" cy="423.66" r="3.7" fill="#000000"/><circle cx="208.43" cy="423.55" r="3.7" fill="#000000"/><circle cx="209.21" cy="423.88" r="3.7" fill="#000000"/><circle cx="209.99" cy="424.07" r="3.7" fill="#000000"/><circle cx="210.78" cy="423.41" r="3.7" fill="#000000"/><circle cx="211.56" cy="423.5" r="3.7" fill="#000000"/><circle cx="212.34" cy="423.96" r="3.7" fill="#000000"/><circle cx="213.12" cy="423.54" r="3.7" fill="#000000"/><circle cx="213.9" cy="423.63" r="3.7" fill="#000000"/><circle cx="214.69" cy="424.07" r="3.7" fill="#000000"/><circle cx="215.47" cy="423.87" r="3.7" fill="#000000"/><circle cx="216.25" cy="423.62" r="3.7" fill="#000000"/><circle cx="217.03" cy="424.02" r="3.7" fill="#000000"/><circle cx="217.81" cy="423.7" r="3.7" fill="#000000"/><circle cx="218.59" cy="424.28" r="3.7" fill="#000000"/><circle cx="219.38" cy="424.2" r="3.7" fill="#000000"/><circle cx="220.16" cy="423.98" r="3.7" fill="#000000"/><circle cx="220.94" cy="424.4" r="3.7" fill="#000000"/><circle cx="221.72" cy="424.37" r="3.7" fill="#000000"/><circle cx="222.5" cy="423.96" r="3.7" fill="#000000"/><circle cx="223.29" cy="424.3" r="3.7" fill="#000000"/><circle cx="224.07" cy="424.09" r="3.7" fill="#000000"/><circle cx="224.85" cy="424.55" r="3.7" fill="#000000"/><circle cx="225.63" cy="424.64" r="3.7" fill="#000000"/><circle cx="226.41" cy="424.53" r="3.7" fill="#000000"/><circle cx="227.2" cy="424.7" r="3.7" fill="#000000"/><circle cx="227.98" cy="424.12" r="3.7" fill="#000000"/><circle cx="228.76" cy="424.68" r="3.7" fill="#000000"/><circle cx="229.54" cy="424.5" r="3.7" fill="#000000"/><circle cx="230.32" cy="424.89" r="3.7" fill="#000000"/><circle cx="231.11" cy="424.59" r="3.7" fill="#000000"/><circle cx="231.89" cy="424.74" r="3.7" fill="#000000"/><circle cx="232.67" cy="424.76" r="3.7" fill="#000000"/><circle cx="233.45" cy="425.06" r="3.7" fill="#000000"/><circle cx="234.24" cy="425.05" r="3.7" fill="#000000"/><circle cx="235.02" cy="424.53" r="3.7" fill="#000000"/><circle cx="235.8" cy="424.94" r="3.7" fill="#000000"/><circle cx="236.58" cy="425.05" r="3.7" fill="#000000"/><circle cx="237.36" cy="425.13" r="3.7" fill="#000000"/><circle cx="238.15" cy="425.09" r="3.7" fill="#000000"/><circle cx="238.93" cy="425.16" r="3.7" fill="#000000"/><circle cx="239.71" cy="425.35" r="3.7" fill="#000000"/><circle cx="240.49" cy="424.9" r="3.7" fill="#000000"/><circle cx="241.27" cy="425.2" r="3.7" fill="#000000"/><circle cx="242.06" cy="425.39" r="3.7" fill="#000000"/><circle cx="242.84" cy="425.01" r="3.7" fill="#000000"/><circle cx="243.62" cy="425.53" r="3.7" fill="#000000"/><circle cx="244.4" cy="425.44" r="3.7" fill="#000000"/><circle cx="245.18" cy="425.04" r="3.7" fill="#000000"/><circle cx="245.97" cy="425.64" r="3.7" fill="#000000"/><circle cx="246.75" cy="425.44" r="3.7" fill="#000000"/><circle cx="247.53" cy="425.18" r="3.7" fill="#000000"/><circle cx="248.31" cy="425.25" r="3.7" fill="#000000"/><circle cx="249.09" cy="425.8" r="3.7" fill="#000000"/><circle cx="249.88" cy="425.69" r="3.7" fill="#000000"/><circle cx="250.66" cy="425.45" r="3.7" fill="#000000"/><circle cx="251.44" cy="425.77" r="3.7" fill="#000000"/><circle cx="252.22" cy="425.36" r="3.7" fill="#000000"/><circle cx="253" cy="425.99" r="3.7" fill="#000000"/><circle cx="253.78" cy="425.45" r="3.7" fill="#000000"/><circle cx="254.57" cy="425.85" r="3.7" fill="#000000"/><circle cx="255.35" cy="426.11" r="3.7" fill="#000000"/><circle cx="256.13" cy="425.98" r="3.7" fill="#000000"/><circle cx="256.91" cy="426.28" r="3.7" fill="#000000"/><circle cx="257.69" cy="425.87" r="3.7" fill="#000000"/><circle cx="258.48" cy="426.27" r="3.7" fill="#000000"/><circle cx="259.26" cy="425.82" r="3.7" fill="#000000"/><circle cx="260.04" cy="426.1" r="3.7" fill="#000000"/><circle cx="260.82" cy="426.32" r="3.7" fill="#000000"/><circle cx="261.61" cy="426.46" r="3.7" fill="#000000"/><circle cx="262.39" cy="426.23" r="3.7" fill="#000000"/><circle cx="263.17" cy="426.58" r="3.7" fill="#000000"/><circle cx="263.95" cy="426.11" r="3.7" fill="#000000"/><circle cx="264.73" cy="426.74" r="3.7" fill="#000000"/><circle cx="265.52" cy="426.48" r="3.7" fill="#000000"/><circle cx="266.3" cy="426.51" r="3.7" fill="#000000"/><circle cx="267.08" cy="426.76" r="3.7" fill="#000000"/><circle cx="267.86" cy="426.42" r="3.7" fill="#000000"/><circle cx="268.64" cy="426.77" r="3.7" fill="#000000"/><circle cx="269.43" cy="426.6" r="3.7" fill="#000000"/><circle cx="270.21" cy="426.72" r="3.7" fill="#000000"/><circle cx="270.99" cy="426.96" r="3.7" fill="#000000"/><circle cx="271.77" cy="426.95" r="3.7" fill="#000000"/><circle cx="272.55" cy="427.23" r="3.7" fill="#000000"/><circle cx="273.34" cy="427.2" r="3.7" fill="#000000"/><circle cx="274.12" cy="426.72" r="3.7" fill="#000000"/><circle cx="274.9" cy="427.18" r="3.7" fill="#000000"/><circle cx="275.68" cy="426.96" r="3.7" fill="#000000"/><circle cx="276.46" cy="427.44" r="3.7" fill="#000000"/><circle cx="277.25" cy="427.13" r="3.7" fill="#000000"/><circle cx="278.03" cy="427.33" r="3.7" fill="#000000"/><circle cx="278.81" cy="427.27" r="3.7" fill="#000000"/><circle cx="279.59" cy="427.48" r="3.7" fill="#000000"/><circle cx="280.37" cy="427.7" r="3.7" fill="#000000"/><circle cx="281.16" cy="427.56" r="3.7" fill="#000000"/><circle cx="281.94" cy="427.67" r="3.7" fill="#000000"/><circle cx="282.72" cy="427.79" r="3.7" fill="#000000"/><circle cx="283.5" cy="427.38" r="3.7" fill="#000000"/><circle cx="284.28" cy="427.76" r="3.7" fill="#000000"/><circle cx="285.06" cy="427.71" r="3.7" fill="#000000"/><circle cx="285.85" cy="427.36" r="3.7" fill="#000000"/><circle cx="286.63" cy="427.51" r="3.7" fill="#000000"/><circle cx="287.41" cy="427.48" r="3.7" fill="#000000"/><circle cx="288.19" cy="427.54" r="3.7" fill="#000000"/><circle cx="288.98" cy="428.15" r="3.7" fill="#000000"/><circle cx="289.76" cy="428.09" r="3.7" fill="#000000"/><circle cx="290.54" cy="428.33" r="3.7" fill="#000000"/><circle cx="291.32" cy="427.86" r="3.7" fill="#000000"/><circle cx="292.1" cy="427.92" r="3.7" fill="#000000"/><circle cx="292.88" cy="428.21" r="3.7" fill="#000000"/><circle cx="293.67" cy="428.21" r="3.7" fill="#000000"/><circle cx="294.45" cy="428.06" r="3.7" fill="#000000"/><circle cx="295.23" cy="428.08" r="3.7" fill="#000000"/><circle cx="296.01" cy="428.48" r="3.7" fill="#000000"/><circle cx="296.8" cy="428.05" r="3.7" fill="#000000"/><circle cx="297.58" cy="428.49" r="3.7" fill="#000000"/><circle cx="298.36" cy="428.32" r="3.7" fill="#000000"/><circle cx="299.14" cy="428.71" r="3.7" fill="#000000"/><circle cx="299.92" cy="428.81" r="3.7" fill="#000000"/><circle cx="300.71" cy="428.23" r="3.7" fill="#000000"/><circle cx="301.49" cy="428.42" r="3.7" fill="#000000"/><circle cx="302.27" cy="428.48" r="3.7" fill="#000000"/><circle cx="303.05" cy="429.05" r="3.7" fill="#000000"/><circle cx="303.83" cy="429.1" r="3.7" fill="#000000"/><circle cx="304.62" cy="429.05" r="3.7" fill="#000000"/><circle cx="305.4" cy="429.06" r="3.7" fill="#000000"/><circle cx="306.18" cy="429.03" r="3.7" fill="#000000"/><circle cx="306.96" cy="429.01" r="3.7" fill="#000000"/><circle cx="307.74" cy="429.33" r="3.7" fill="#000000"/><circle cx="308.53" cy="429.16" r="3.7" fill="#000000"/><circle cx="309.31" cy="428.95" r="3.7" fill="#000000"/><circle cx="310.09" cy="429.35" r="3.7" fill="#000000"/><circle cx="310.87" cy="428.88" r="3.7" fill="#000000"/><circle cx="311.65" cy="429.14" r="3.7" fill="#000000"/><circle cx="312.44" cy="429.07" r="3.7" fill="#000000"/><circle cx="313.22" cy="429.48" r="3.7" fill="#000000"/><circle cx="314" cy="429.38" r="3.7" fill="#000000"/><circle cx="314.78" cy="429.23" r="3.7" fill="#000000"/><circle cx="315.56" cy="429.54" r="3.7" fill="#000000"/><circle cx="316.35" cy="429.86" r="3.7" fill="#000000"/><circle cx="317.13" cy="429.25" r="3.7" fill="#000000"/><circle cx="317.91" cy="429.34" r="3.7" fill="#000000"/><circle cx="318.69" cy="429.77" r="3.7" fill="#000000"/><circle cx="319.47" cy="430.01" r="3.7" fill="#000000"/><circle cx="320.26" cy="429.42" r="3.7" fill="#000000"/><circle cx="321.04" cy="429.66" r="3.7" fill="#000000"/><circle cx="321.82" cy="430.14" r="3.7" fill="#000000"/><circle cx="322.6" cy="430.03" r="3.7" fill="#000000"/><circle cx="323.38" cy="430.18" r="3.7" fill="#000000"/><circle cx="324.17" cy="429.7" r="3.7" fill="#000000"/><circle cx="324.95" cy="430.2" r="3.7" fill="#000000"/><circle cx="325.73" cy="429.69" r="3.7" fill="#000000"/><circle cx="326.51" cy="429.87" r="3.7" fill="#000000"/><circle cx="327.29" cy="430.43" r="3.7" fill="#000000"/><circle cx="328.08" cy="430" r="3.7" fill="#000000"/><circle cx="328.86" cy="430.28" r="3.7" fill="#000000"/><circle cx="329.64" cy="430.05" r="3.7" fill="#000000"/><circle cx="330.42" cy="430.04" r="3.7" fill="#000000"/><circle cx="331.2" cy="430.51" r="3.7" fill="#000000"/><circle cx="331.99" cy="430.7" r="3.7" fill="#000000"/><circle cx="332.77" cy="430.08" r="3.7" fill="#000000"/><circle cx="333.55" cy="430.54" r="3.7" fill="#000000"/><circle cx="334.33" cy="430.19" r="3.7" fill="#000000"/><circle cx="335.11" cy="430.42" r="3.7" fill="#000000"/><circle cx="335.9" cy="430.43" r="3.7" fill="#000000"/><circle cx="336.68" cy="430.4" r="3.7" fill="#000000"/><circle cx="337.46" cy="430.61" r="3.7" fill="#000000"/><circle cx="338.24" cy="430.79" r="3.7" fill="#000000"/><circle cx="339.02" cy="431.14" r="3.7" fill="#000000"/><circle cx="339.81" cy="430.69" r="3.7" fill="#000000"/><circle cx="340.59" cy="430.94" r="3.7" fill="#000000"/><circle cx="341.37" cy="430.92" r="3.7" fill="#000000"/><circle cx="342.15" cy="430.65" r="3.7" fill="#000000"/><circle cx="342.93" cy="431.32" r="3.7" fill="#000000"/><circle cx="343.72" cy="430.87" r="3.7" fill="#000000"/><circle cx="344.5" cy="431.47" r="3.7" fill="#000000"/><circle cx="345.28" cy="431" r="3.7" fill="#000000"/><circle cx="346.06" cy="430.97" r="3.7" fill="#000000"/><circle cx="346.84" cy="431.44" r="3.7" fill="#000000"/><circle cx="347.63" cy="431.26" r="3.7" fill="#000000"/><circle cx="348.41" cy="430.98" r="3.7" fill="#000000"/><circle cx="349.19" cy="431.28" r="3.7" fill="#000000"/><circle cx="349.97" cy="431.4" r="3.7" fill="#000000"/><circle cx="350.75" cy="431.68" r="3.7" fill="#000000"/><circle cx="351.54" cy="431.87" r="3.7" fill="#000000"/><circle cx="352.32" cy="431.69" r="3.7" fill="#000000"/><circle cx="353.1" cy="431.69" r="3.7" fill="#000000"/><circle cx="353.88" cy="431.9" r="3.7" fill="#000000"/><circle cx="354.66" cy="431.86" r="3.7" fill="#000000"/><circle cx="355.45" cy="432.04" r="3.7" fill="#000000"/><circle cx="356.23" cy="431.64" r="3.7" fill="#000000"/><circle cx="357.01" cy="431.72" r="3.7" fill="#000000"/><circle cx="357.79" cy="432.1" r="3.7" fill="#000000"/><circle cx="358.57" cy="432.14" r="3.7" fill="#000000"/><circle cx="359.36" cy="431.98" r="3.7" fill="#000000"/><circle cx="360.14" cy="432.08" r="3.7" fill="#000000"/><circle cx="360.92" cy="431.77" r="3.7" fill="#000000"/><circle cx="361.7" cy="432.31" r="3.7" fill="#000000"/><circle cx="362.48" cy="432.43" r="3.7" fill="#000000"/><circle cx="363.27" cy="432.06" r="3.7" fill="#000000"/><circle cx="364.05" cy="432.72" r="3.7" fill="#000000"/><circle cx="364.83" cy="432.47" r="3.7" fill="#000000"/><circle cx="365.61" cy="432.73" r="3.7" fill="#000000"/><circle cx="366.39" cy="432.44" r="3.7" fill="#000000"/><circle cx="367.18" cy="432.73" r="3.7" fill="#000000"/><circle cx="367.96" cy="432.64" r="3.7" fill="#000000"/><circle cx="368.74" cy="433.19" r="3.7" fill="#000000"/><circle cx="369.52" cy="432.88" r="3.7" fill="#000000"/><circle cx="370.3" cy="433.02" r="3.7" fill="#000000"/><circle cx="371.09" cy="433.2" r="3.7" fill="#000000"/><circle cx="371.87" cy="433.05" r="3.7" fill="#000000"/><circle cx="372.65" cy="433.08" r="3.7" fill="#000000"/><circle cx="373.43" cy="433.72" r="3.7" fill="#000000"/><circle cx="374.21" cy="433.66" r="3.7" fill="#000000"/><circle cx="375" cy="433.69" r="3.7" fill="#000000"/><circle cx="375.78" cy="433.89" r="3.7" fill="#000000"/><circle cx="376.56" cy="434.09" r="3.7" fill="#000000"/><circle cx="377.34" cy="434" r="3.7" fill="#000000"/><circle cx="378.12" cy="434.14" r="3.7" fill="#000000"/><circle cx="378.91" cy="433.83" r="3.7" fill="#000000"/><circle cx="379.69" cy="434.11" r="3.7" fill="#000000"/><circle cx="380.47" cy="434.45" r="3.7" fill="#000000"/><circle cx="381.25" cy="434.37" r="3.7" fill="#000000"/><circle cx="382.03" cy="434.34" r="3.7" fill="#000000"/><circle cx="382.82" cy="434.5" r="3.7" fill="#000000"/><circle cx="383.6" cy="434.74" r="3.7" fill="#000000"/><circle cx="384.38" cy="434.89" r="3.7" fill="#000000"/><circle cx="385.16" cy="435.02" r="3.7" fill="#000000"/><circle cx="385.94" cy="434.34" r="3.7" fill="#000000"/><circle cx="386.73" cy="434.61" r="3.7" fill="#000000"/><circle cx="387.51" cy="435.21" r="3.7" fill="#000000"/><circle cx="388.29" cy="434.8" r="3.7" fill="#000000"/><circle cx="389.07" cy="434.67" r="3.7" fill="#000000"/><circle cx="389.85" cy="435.08" r="3.7" fill="#000000"/><circle cx="390.64" cy="435.52" r="3.7" fill="#000000"/><circle cx="391.42" cy="435.3" r="3.7" fill="#000000"/><circle cx="392.2" cy="435.43" r="3.7" fill="#000000"/><circle cx="392.98" cy="435.7" r="3.7" fill="#000000"/><circle cx="393.76" cy="435.5" r="3.7" fill="#000000"/><circle cx="394.55" cy="436" r="3.7" fill="#000000"/><circle cx="395.33" cy="435.37" r="3.7" fill="#000000"/><circle cx="396.11" cy="435.67" r="3.7" fill="#000000"/><circle cx="396.89" cy="435.76" r="3.7" fill="#000000"/><circle cx="397.67" cy="435.6" r="3.7" fill="#000000"/><circle cx="398.46" cy="435.91" r="3.7" fill="#000000"/><circle cx="399.24" cy="436.3" r="3.7" fill="#000000"/><circle cx="400.02" cy="436.39" r="3.7" fill="#000000"/><circle cx="400.8" cy="436.54" r="3.7" fill="#000000"/><circle cx="401.58" cy="436.67" r="3.7" fill="#000000"/><circle cx="402.37" cy="436.13" r="3.7" fill="#000000"/><circle cx="403.15" cy="436.13" r="3.7" fill="#000000"/><circle cx="403.93" cy="436.6" r="3.7" fill="#000000"/><circle cx="404.71" cy="436.74" r="3.7" fill="#000000"/><circle cx="405.49" cy="436.43" r="3.7" fill="#000000"/><circle cx="406.28" cy="436.32" r="3.7" fill="#000000"/><circle cx="407.06" cy="436.3" r="3.7" fill="#000000"/><circle cx="407.84" cy="436.94" r="3.7" fill="#000000"/><circle cx="408.62" cy="436.51" r="3.7" fill="#000000"/><circle cx="409.4" cy="436.52" r="3.7" fill="#000000"/><circle cx="410.19" cy="436.67" r="3.7" fill="#000000"/><circle cx="410.97" cy="437.19" r="3.7" fill="#000000"/><circle cx="411.75" cy="437.5" r="3.7" fill="#000000"/><circle cx="412.53" cy="437.19" r="3.7" fill="#000000"/><circle cx="413.31" cy="437.78" r="3.7" fill="#000000"/><circle cx="414.1" cy="437.93" r="3.7" fill="#000000"/><circle cx="414.88" cy="437.98" r="3.7" fill="#000000"/><circle cx="415.66" cy="438.32" r="3.7" fill="#000000"/><circle cx="416.44" cy="438.15" r="3.7" fill="#000000"/><circle cx="417.22" cy="438.9" r="3.7" fill="#000000"/><circle cx="418.01" cy="439.4" r="3.7" fill="#000000"/><circle cx="418.79" cy="439.34" r="3.7" fill="#000000"/><circle cx="419.57" cy="439.63" r="3.7" fill="#000000"/><circle cx="420.35" cy="439.83" r="3.7" fill="#000000"/><circle cx="421.13" cy="440.27" r="3.7" fill="#000000"/><circle cx="421.92" cy="440.43" r="3.7" fill="#000000"/><circle cx="422.7" cy="440.57" r="3.7" fill="#000000"/><circle cx="423.48" cy="441.09" r="3.7" fill="#000000"/><circle cx="424.26" cy="441.26" r="3.7" fill="#000000"/><circle cx="425.04" cy="441.7" r="3.7" fill="#000000"/><circle cx="425.83" cy="441.76" r="3.7" fill="#000000"/><circle cx="426.61" cy="441.71" r="3.7" fill="#000000"/><circle cx="427.39" cy="442.27" r="3.7" fill="#000000"/><circle cx="428.17" cy="441.97" r="3.7" fill="#000000"/><circle cx="428.95" cy="442.77" r="3.7" fill="#000000"/><circle cx="429.74" cy="443.09" r="3.7" fill="#000000"/><circle cx="430.52" cy="443.22" r="3.7" fill="#000000"/><circle cx="431.3" cy="444.44" r="3.7" fill="#000000"/><circle cx="432.08" cy="445.02" r="3.7" fill="#000000"/><circle cx="432.86" cy="445.25" r="3.7" fill="#000000"/><circle cx="433.65" cy="445.98" r="3.7" fill="#000000"/><circle cx="434.43" cy="446.1" r="3.7" fill="#000000"/><circle cx="435.21" cy="447.2" r="3.7" fill="#000000"/><circle cx="435.99" cy="447.59" r="3.7" fill="#000000"/><circle cx="436.77" cy="448.69" r="3.7" fill="#000000"/><circle cx="437.56" cy="449.84" r="3.7" fill="#000000"/><circle cx="438.34" cy="451.23" r="3.7" fill="#000000"/><circle cx="439.12" cy="452.44" r="3.7" fill="#000000"/><circle cx="439.9" cy="454.47" r="3.7" fill="#000000"/><circle cx="440.68" cy="458.12" r="3.7" fill="#000000"/><circle cx="441.47" cy="461.55" r="3.7" fill="#000000"/><circle cx="442.25" cy="464.63" r="3.7" fill="#000000"/><circle cx="443.03" cy="467.3" r="3.7" fill="#000000"/><circle cx="443.81" cy="468.36" r="3.7" fill="#000000"/><circle cx="444.59" cy="469.46" r="3.7" fill="#000000"/><circle cx="445.38" cy="470.64" r="3.7" fill="#000000"/><circle cx="446.16" cy="472.44" r="3.7" fill="#000000"/><circle cx="446.94" cy="472.93" r="3.7" fill="#000000"/><circle cx="447.72" cy="473.37" r="3.7" fill="#000000"/><circle cx="448.5" cy="473.83" r="3.7" fill="#000000"/><circle cx="449.29" cy="474.56" r="3.7" fill="#000000"/><circle cx="450.07" cy="475.23" r="3.7" fill="#000000"/><circle cx="450.85" cy="475.88" r="3.7" fill="#000000"/><circle cx="451.63" cy="476.24" r="3.7" fill="#000000"/><circle cx="452.41" cy="476.59" r="3.7" fill="#000000"/><circle cx="453.2" cy="476.5" r="3.7" fill="#000000"/><circle cx="453.98" cy="476.85" r="3.7" fill="#000000"/><circle cx="454.76" cy="477.19" r="3.7" fill="#000000"/><circle cx="455.54" cy="477.41" r="3.7" fill="#000000"/><circle cx="456.32" cy="477.72" r="3.7" fill="#000000"/><circle cx="457.11" cy="478.3" r="3.7" fill="#000000"/><circle cx="457.89" cy="478.45" r="3.7" fill="#000000"/><circle cx="458.67" cy="479.34" r="3.7" fill="#000000"/><circle cx="459.45" cy="479.16" r="3.7" fill="#000000"/><circle cx="460.23" cy="479.52" r="3.7" fill="#000000"/><circle cx="461.02" cy="480.04" r="3.7" fill="#000000"/><circle cx="461.8" cy="480.06" r="3.7" fill="#000000"/><circle cx="462.58" cy="480" r="3.7" fill="#000000"/><circle cx="463.36" cy="480.6" r="3.7" fill="#000000"/><circle cx="464.14" cy="480.71" r="3.7" fill="#000000"/><circle cx="464.93" cy="481.22" r="3.7" fill="#000000"/><circle cx="465.71" cy="481.42" r="3.7" fill="#000000"/><circle cx="466.49" cy="481.24" r="3.7" fill="#000000"/><circle cx="467.27" cy="482.14" r="3.7" fill="#000000"/><circle cx="468.05" cy="482.26" r="3.7" fill="#000000"/><circle cx="468.84" cy="482.11" r="3.7" fill="#000000"/><circle cx="469.62" cy="482.4" r="3.7" fill="#000000"/><circle cx="470.4" cy="482.75" r="3.7" fill="#000000"/><circle cx="471.18" cy="482.37" r="3.7" fill="#000000"/><circle cx="471.96" cy="482.67" r="3.7" fill="#000000"/><circle cx="472.75" cy="482.58" r="3.7" fill="#000000"/><circle cx="473.53" cy="482.78" r="3.7" fill="#000000"/><circle cx="474.31" cy="482.77" r="3.7" fill="#000000"/><circle cx="475.09" cy="482.81" r="3.7" fill="#000000"/><circle cx="475.87" cy="483.02" r="3.7" fill="#000000"/><circle cx="476.66" cy="483.31" r="3.7" fill="#000000"/><circle cx="477.44" cy="483.34" r="3.7" fill="#000000"/><circle cx="478.22" cy="482.99" r="3.7" fill="#000000"/><circle cx="479" cy="483.45" r="3.7" fill="#000000"/><circle cx="479.78" cy="484" r="3.7" fill="#000000"/><circle cx="480.57" cy="483.61" r="3.7" fill="#000000"/><circle cx="481.35" cy="484.29" r="3.7" fill="#000000"/><circle cx="482.13" cy="484.62" r="3.7" fill="#000000"/><circle cx="482.91" cy="484.48" r="3.7" fill="#000000"/><circle cx="483.69" cy="484.9" r="3.7" fill="#000000"/><circle cx="484.48" cy="485.03" r="3.7" fill="#000000"/><circle cx="485.26" cy="485.51" r="3.7" fill="#000000"/><circle cx="486.04" cy="486.29" r="3.7" fill="#000000"/><circle cx="486.82" cy="486.55" r="3.7" fill="#000000"/><circle cx="487.6" cy="487.44" r="3.7" fill="#000000"/><circle cx="488.39" cy="487.65" r="3.7" fill="#000000"/><circle cx="489.17" cy="488.12" r="3.7" fill="#000000"/><circle cx="489.95" cy="489.05" r="3.7" fill="#000000"/><circle cx="490.73" cy="489.32" r="3.7" fill="#000000"/><circle cx="491.51" cy="490.11" r="3.7" fill="#000000"/><text transform="translate(4.6 380.2)" font-size="11" text-anchor="start" font-weight="bold" textLength="15" lengthAdjust="spacingAndGlyphs" stroke="#111111" stroke-width="0.45">(d)</text><text transform="translate(14.3 492.6) rotate(-90)" font-size="10.3" textLength="88.3" lengthAdjust="spacingAndGlyphs" fill="#111111" stroke="#111111" stroke-width="0.45">Capacity (mAh g<tspan dy="-3.6" font-size="7">-1</tspan><tspan dy="3.6">)</tspan></text><text transform="translate(524.4 496.5) rotate(-90)" font-size="10.4" text-anchor="start" textLength="98.6" lengthAdjust="spacingAndGlyphs" stroke="#111111" stroke-width="0.45">Coulombic efficiency (%)</text><text transform="translate(263 542.6)" font-size="10.2" text-anchor="middle" textLength="32.4" lengthAdjust="spacingAndGlyphs" stroke="#111111" stroke-width="0.45">Cycles</text><circle cx="74.1" cy="481.3" r="3.8" fill="#000000"/><text transform="translate(92 485.2)" font-size="11" text-anchor="start" textLength="42" lengthAdjust="spacingAndGlyphs" stroke="#111111" stroke-width="0.45">Bare-PE</text><path d="M70.1 495.9L74.2 489.3L78.3 495.9Z" fill="#ff0000"/><text transform="translate(92 497.2)" font-size="11" text-anchor="start" textLength="42" lengthAdjust="spacingAndGlyphs" stroke="#111111" stroke-width="0.45">CCS-PE</text><line x1="69.3" y1="423.5" x2="69.3" y2="434.7" stroke="#000000" stroke-width="1.2" stroke-dasharray="2,1.9"/><line x1="69.3" y1="434.7" x2="58.9" y2="434.7" stroke="#000000" stroke-width="1.2" stroke-dasharray="2,1.9"/><path d="M54.4 434.7L59.2 432.2L59.2 437.2Z" fill="#111"/><line x1="454.3" y1="391.5" x2="454.3" y2="403.4" stroke="#000000" stroke-width="1.2" stroke-dasharray="2,1.9"/><line x1="454.3" y1="403.4" x2="468.5" y2="403.4" stroke="#000000" stroke-width="1.2" stroke-dasharray="2,1.9"/><path d="M473 403.4L468.2 400.9L468.2 405.9Z" fill="#111"/></svg></body></html>
